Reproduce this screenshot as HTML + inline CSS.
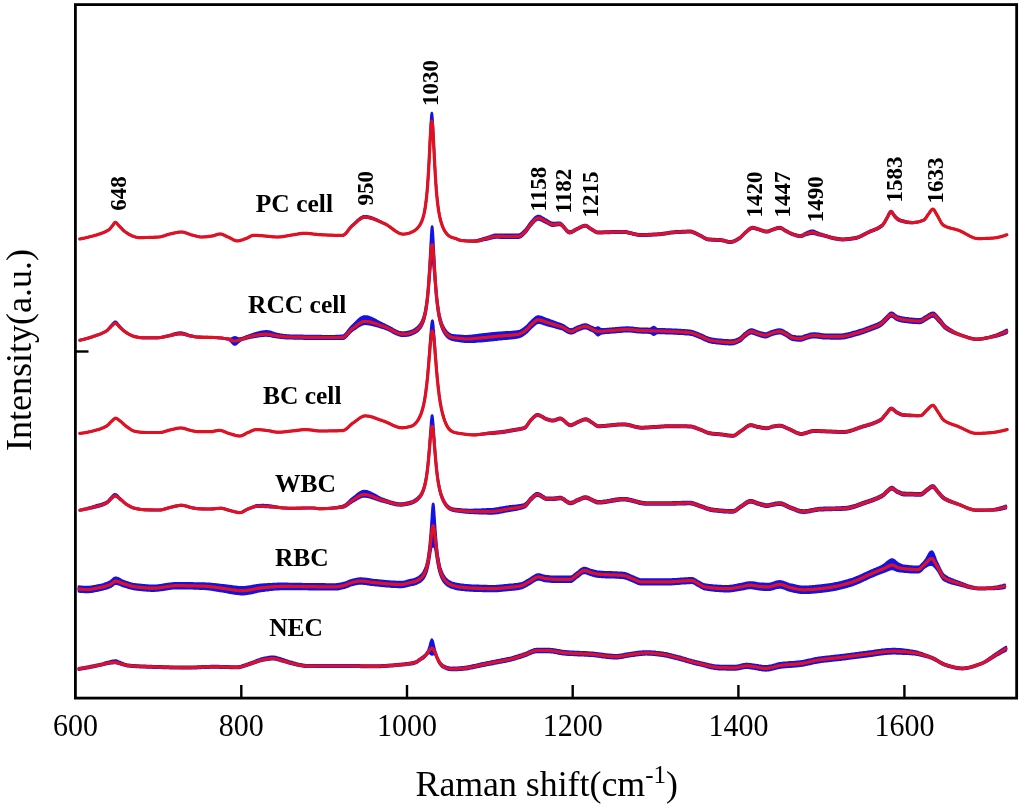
<!DOCTYPE html>
<html><head><meta charset="utf-8"><style>
html,body{margin:0;padding:0;background:#fff;}
svg{display:block;}
.pk{font-family:"Liberation Serif",serif;font-weight:bold;font-size:23px;fill:#000;}
.lb{font-family:"Liberation Serif",serif;font-weight:bold;font-size:25.5px;fill:#000;}
.tk{font-family:"Liberation Serif",serif;font-size:30px;fill:#000;text-anchor:middle;}
.ax{font-family:"Liberation Serif",serif;font-size:36px;fill:#000;}
</style></head><body>
<svg width="1025" height="810" viewBox="0 0 1025 810">
<rect x="0" y="0" width="1025" height="810" fill="#fff"/>
<polygon points="79.8,239.0 80.8,238.8 81.8,238.6 82.8,238.4 83.8,238.2 84.8,238.0 85.8,237.7 86.8,237.5 87.8,237.3 88.8,237.0 89.8,236.8 90.8,236.5 91.8,236.3 92.0,236.2 92.8,236.0 93.8,235.7 94.8,235.4 95.8,235.2 96.8,234.9 97.8,234.6 98.8,234.2 99.8,233.9 100.8,233.6 101.8,233.2 102.3,233.0 102.8,232.8 103.8,232.4 104.8,232.0 105.8,231.5 106.8,231.0 107.8,230.4 108.8,229.8 109.2,229.5 109.8,229.0 110.8,227.8 111.8,226.5 112.6,225.5 112.8,225.3 113.8,223.8 114.8,222.6 115.3,222.4 115.8,222.5 116.8,223.3 117.8,224.5 118.7,225.5 118.8,225.6 119.8,226.6 120.8,227.7 121.8,228.7 122.8,229.8 123.8,230.7 124.2,231.0 124.8,231.5 125.8,232.2 126.8,232.9 127.8,233.6 128.8,234.3 129.8,234.8 130.8,235.3 131.8,235.8 132.4,236.0 132.8,236.1 133.8,236.5 134.8,236.8 135.8,237.1 136.8,237.3 137.8,237.5 138.8,237.6 139.2,237.6 139.8,237.6 140.8,237.6 141.8,237.6 142.8,237.6 143.8,237.6 144.8,237.5 145.8,237.5 146.8,237.5 147.8,237.5 148.8,237.4 149.8,237.4 150.8,237.4 151.8,237.3 152.8,237.3 153.8,237.3 154.8,237.2 155.8,237.2 156.8,237.1 157.8,237.1 158.7,237.0 158.8,237.0 159.8,236.9 160.8,236.7 161.8,236.5 162.8,236.2 163.8,235.9 164.8,235.6 165.8,235.2 166.8,234.9 167.8,234.6 168.8,234.3 169.8,234.0 170.0,234.0 170.8,233.8 171.8,233.6 172.8,233.4 173.8,233.1 174.8,232.9 175.8,232.7 176.8,232.5 177.8,232.3 178.8,232.2 179.8,232.1 180.8,232.0 181.5,232.0 181.8,232.0 182.8,232.1 183.8,232.3 184.8,232.5 185.8,232.9 186.8,233.2 187.8,233.6 188.8,234.0 189.8,234.3 190.8,234.7 191.8,235.0 192.0,235.0 192.8,235.2 193.8,235.5 194.8,235.7 195.8,236.0 196.8,236.3 197.8,236.5 198.8,236.7 199.8,236.9 200.8,237.0 201.8,237.0 202.8,237.0 203.8,236.9 204.8,236.9 205.8,236.8 206.8,236.7 207.8,236.6 208.8,236.4 209.8,236.3 210.8,236.2 211.8,236.0 212.0,236.0 212.8,235.9 213.8,235.6 214.8,235.3 215.8,234.9 216.8,234.6 217.8,234.3 218.8,234.1 219.8,234.0 220.1,234.0 220.8,234.0 221.8,234.2 222.8,234.6 223.8,235.0 224.8,235.5 225.8,236.0 226.8,236.5 227.8,236.9 228.0,237.0 228.8,237.3 229.8,237.8 230.8,238.4 231.8,238.9 232.8,239.5 233.8,240.0 234.8,240.4 235.8,240.7 236.8,240.9 237.4,240.9 237.8,240.9 238.8,240.8 239.8,240.6 240.8,240.3 241.8,240.0 242.8,239.7 243.8,239.3 244.8,238.9 245.8,238.6 246.0,238.5 246.8,238.2 247.8,237.7 248.8,237.2 249.8,236.6 250.8,236.1 251.8,235.7 252.8,235.4 253.8,235.3 254.8,235.3 255.8,235.3 256.8,235.4 257.8,235.4 258.8,235.5 259.8,235.6 260.8,235.6 261.8,235.7 262.8,235.8 263.8,235.9 264.8,236.0 265.8,236.1 266.8,236.2 267.8,236.3 268.8,236.4 269.8,236.5 270.8,236.6 271.8,236.7 272.8,236.8 273.8,236.9 274.8,236.9 275.8,237.0 276.8,237.0 277.8,237.0 278.0,237.0 278.8,237.0 279.8,236.9 280.8,236.9 281.8,236.7 282.8,236.6 283.8,236.4 284.8,236.3 285.8,236.1 286.8,235.9 287.8,235.7 288.8,235.5 289.8,235.3 290.8,235.2 291.8,235.0 292.0,235.0 292.8,234.9 293.8,234.7 294.8,234.6 295.8,234.4 296.8,234.2 297.8,234.0 298.8,233.8 299.8,233.7 300.8,233.6 301.8,233.4 302.8,233.4 303.8,233.3 304.6,233.3 304.8,233.3 305.8,233.3 306.8,233.4 307.8,233.4 308.8,233.5 309.8,233.6 310.8,233.7 311.8,233.8 312.8,234.0 313.8,234.1 314.8,234.2 315.8,234.3 316.8,234.4 317.8,234.5 318.8,234.6 319.8,234.7 320.0,234.7 320.8,234.7 321.8,234.8 322.8,234.8 323.8,234.9 324.8,234.9 325.8,235.0 326.8,235.0 327.8,235.0 328.8,235.1 329.8,235.1 330.8,235.2 331.8,235.2 332.8,235.2 333.8,235.2 334.8,235.3 335.8,235.3 336.8,235.3 337.8,235.3 338.8,235.3 339.8,235.3 340.8,235.3 341.8,235.2 342.5,235.2 342.8,235.2 343.8,234.8 344.8,234.1 345.8,233.1 346.8,231.9 347.8,230.6 348.8,229.2 349.8,227.9 350.8,226.7 351.8,225.6 352.0,225.4 352.8,224.7 353.8,223.8 354.8,222.8 355.8,221.8 356.8,220.9 357.8,219.9 358.8,219.1 359.8,218.3 360.8,217.6 361.8,217.0 362.8,216.5 363.8,216.2 364.8,216.1 364.9,216.1 365.8,216.1 366.8,216.2 367.8,216.4 368.8,216.6 369.8,216.8 370.8,217.1 371.8,217.5 372.8,217.8 373.8,218.2 374.8,218.7 375.8,219.1 376.8,219.6 377.8,220.1 378.8,220.6 379.8,221.1 380.8,221.6 381.8,222.1 382.8,222.6 383.8,223.0 384.2,223.2 384.8,223.5 385.8,224.0 386.8,224.7 387.8,225.3 388.8,226.0 389.8,226.8 390.8,227.5 391.8,228.3 392.8,229.0 393.8,229.8 394.8,230.5 395.8,231.2 396.8,231.9 397.8,232.5 398.8,233.0 399.8,233.4 400.8,233.8 401.8,234.0 402.8,234.1 403.4,234.1 403.8,234.1 404.8,234.0 405.8,233.9 406.8,233.7 407.8,233.5 408.0,233.5 408.8,233.3 409.8,232.9 410.8,232.5 411.8,232.1 412.0,232.0 412.8,231.6 413.8,231.0 414.8,230.4 415.8,229.6 416.8,228.7 417.8,227.7 418.8,226.4 419.8,225.0 420.1,224.6 420.3,224.1 420.6,223.6 420.8,223.2 421.1,222.6 421.3,222.1 421.6,221.5 421.8,220.9 422.1,220.3 422.3,219.6 422.6,218.8 422.8,218.0 423.1,217.2 423.3,216.3 423.6,215.3 423.8,214.3 424.1,213.2 424.3,212.0 424.6,210.8 424.8,209.4 425.1,207.9 425.3,206.3 425.6,204.6 425.8,202.7 426.1,200.7 426.3,198.5 426.6,196.1 426.8,193.6 427.1,190.8 427.3,187.8 427.6,184.5 427.8,181.0 428.1,177.2 428.3,173.1 428.6,168.8 428.8,164.1 429.1,159.2 429.3,154.1 429.6,148.8 429.8,143.4 430.1,137.9 430.3,132.6 430.6,127.5 430.8,122.8 431.1,118.8 431.3,115.7 431.6,113.7 431.8,113.0 432.1,113.7 432.3,115.7 432.6,118.9 432.8,123.0 433.1,127.7 433.3,132.9 433.6,138.3 433.8,143.8 434.1,149.3 434.3,154.6 434.6,159.8 434.8,164.8 435.1,169.5 435.3,173.9 435.6,178.1 435.8,181.9 436.1,185.5 436.3,188.9 436.6,191.9 436.8,194.8 437.1,197.5 437.3,199.9 437.6,202.2 437.8,204.3 438.1,206.3 438.3,208.1 438.6,209.8 438.8,211.4 439.1,212.8 439.3,214.2 439.6,215.5 439.8,216.7 440.1,217.8 440.3,218.9 440.6,219.9 440.8,220.9 441.1,221.8 441.3,222.6 441.6,223.4 441.8,224.2 442.1,224.9 442.3,225.6 442.6,226.2 442.8,226.9 443.1,227.5 443.3,228.0 443.6,228.6 443.8,229.1 444.8,230.9 445.8,232.5 446.8,233.8 447.8,234.8 448.8,235.7 449.8,236.3 450.8,236.8 451.8,237.2 452.8,237.6 453.8,237.8 454.0,237.9 454.8,238.1 455.8,238.4 456.8,238.8 457.8,239.2 458.8,239.6 459.8,240.0 460.8,240.2 461.2,240.3 461.8,240.3 462.8,240.4 463.8,240.5 464.8,240.5 465.8,240.6 466.8,240.6 467.8,240.7 468.8,240.7 469.8,240.7 470.8,240.7 471.8,240.7 472.8,240.7 473.8,240.6 474.0,240.6 474.8,240.5 475.8,240.4 476.8,240.2 477.8,240.0 478.8,239.7 479.8,239.4 480.8,239.1 481.8,238.8 482.8,238.5 483.8,238.2 484.8,237.9 485.0,237.9 485.8,237.6 486.8,237.3 487.8,237.0 488.8,236.6 489.8,236.3 490.8,235.9 491.8,235.6 492.8,235.3 493.8,235.0 494.8,234.8 495.8,234.7 496.5,234.7 496.8,234.7 497.8,234.7 498.8,234.7 499.8,234.7 500.8,234.7 501.8,234.8 502.8,234.8 503.8,234.8 504.8,234.8 505.8,234.8 506.8,234.8 507.8,234.8 508.0,234.8 508.8,234.8 509.8,234.8 510.8,234.8 511.8,234.8 512.8,234.8 513.8,234.7 514.8,234.7 515.8,234.7 516.8,234.6 517.8,234.6 518.8,234.5 518.9,234.5 519.8,234.3 520.8,233.8 521.8,233.1 522.8,232.1 523.8,231.1 524.8,230.1 525.3,229.6 525.8,229.1 526.8,227.8 527.8,226.4 528.8,224.9 529.8,223.4 530.8,222.2 531.0,222.0 531.8,221.1 532.8,220.0 533.8,218.9 534.8,217.8 535.8,217.0 536.8,216.3 537.8,216.0 538.2,216.0 538.8,216.0 539.8,216.2 540.8,216.6 541.8,217.2 542.8,217.8 543.8,218.4 544.8,219.0 545.8,219.5 546.0,219.6 546.8,220.1 547.8,220.7 548.8,221.3 549.8,221.9 550.8,222.4 551.8,222.8 552.8,223.0 553.0,223.0 553.8,223.0 554.8,223.0 555.8,222.9 556.8,222.8 557.8,222.7 558.8,222.6 559.4,222.6 559.8,222.7 560.8,223.1 561.8,223.9 562.8,224.9 563.8,226.1 564.8,227.3 565.8,228.5 566.8,229.7 567.8,230.6 568.8,231.2 569.8,231.4 570.8,231.3 571.8,231.0 572.8,230.5 573.8,230.0 574.8,229.3 575.8,228.7 576.8,228.2 577.0,228.1 577.8,227.8 578.8,227.3 579.8,226.8 580.8,226.3 581.8,225.8 582.8,225.4 583.8,225.1 584.8,224.9 585.4,224.9 585.8,224.9 586.8,225.3 587.8,225.9 588.8,226.6 589.8,227.4 590.8,228.1 591.0,228.2 591.8,228.6 592.8,229.2 593.8,229.9 594.8,230.5 595.8,231.0 596.8,231.4 597.8,231.6 598.3,231.6 598.8,231.6 599.8,231.6 600.8,231.6 601.8,231.6 602.8,231.6 603.8,231.5 604.8,231.5 605.8,231.5 606.8,231.5 607.8,231.4 608.8,231.4 609.8,231.4 610.8,231.3 611.8,231.3 612.8,231.3 613.8,231.3 614.8,231.2 615.8,231.2 616.8,231.2 617.8,231.2 618.8,231.1 619.8,231.1 620.8,231.1 621.8,231.1 622.8,231.1 622.9,231.1 623.8,231.1 624.8,231.2 625.8,231.3 626.8,231.5 627.8,231.7 628.8,231.9 629.8,232.1 630.8,232.3 631.8,232.6 632.8,232.9 633.8,233.1 634.8,233.3 635.8,233.6 636.8,233.8 637.8,233.9 638.8,234.1 639.8,234.2 640.8,234.2 641.1,234.2 641.8,234.2 642.8,234.2 643.8,234.2 644.8,234.2 645.8,234.1 646.8,234.1 647.8,234.1 648.8,234.0 649.8,234.0 650.8,233.9 651.8,233.9 652.8,233.8 653.8,233.7 654.8,233.7 655.8,233.6 656.8,233.6 657.8,233.5 658.8,233.4 659.2,233.4 659.8,233.4 660.8,233.3 661.8,233.2 662.8,233.0 663.8,232.9 664.8,232.7 665.8,232.6 666.8,232.4 667.8,232.3 668.8,232.1 669.8,231.9 670.8,231.8 671.8,231.7 672.8,231.6 673.8,231.5 674.8,231.4 675.8,231.3 676.8,231.3 677.8,231.2 678.8,231.2 679.8,231.1 680.8,231.1 681.8,231.0 682.8,231.0 683.8,230.9 684.8,230.9 685.8,230.9 686.8,230.8 687.8,230.8 688.8,230.8 689.8,230.8 690.3,230.8 690.8,230.8 691.8,231.0 692.8,231.3 693.8,231.7 694.8,232.1 695.8,232.6 696.8,233.1 697.8,233.6 698.8,234.1 699.0,234.2 699.8,234.6 700.8,235.1 701.8,235.6 702.8,236.2 703.8,236.8 704.8,237.3 705.8,237.8 706.8,238.2 707.8,238.5 708.5,238.6 708.8,238.6 709.8,238.7 710.8,238.8 711.8,238.9 712.8,238.9 713.8,239.0 714.8,239.0 715.8,239.1 716.8,239.1 717.8,239.1 718.8,239.2 719.8,239.3 720.8,239.3 721.4,239.4 721.8,239.4 722.8,239.6 723.8,239.8 724.8,240.1 725.8,240.4 726.8,240.6 727.8,240.9 728.8,241.1 729.8,241.2 730.5,241.2 730.8,241.2 731.8,241.1 732.8,240.8 733.8,240.5 734.8,240.1 735.8,239.6 736.8,239.0 737.8,238.4 738.8,237.8 739.6,237.3 739.8,237.2 740.8,236.4 741.8,235.4 742.8,234.4 743.8,233.3 744.8,232.3 745.8,231.4 746.0,231.2 746.8,230.6 747.8,229.7 748.8,228.8 749.8,228.1 750.8,227.5 751.8,227.1 752.5,227.0 752.8,227.0 753.8,227.1 754.8,227.3 755.8,227.7 756.8,228.0 757.8,228.3 758.8,228.6 759.0,228.7 759.8,228.9 760.8,229.3 761.8,229.6 762.8,230.0 763.8,230.3 764.8,230.6 765.8,230.7 766.8,230.8 767.8,230.7 768.8,230.4 769.8,230.0 770.8,229.6 771.8,229.1 772.8,228.8 773.0,228.7 773.8,228.5 774.8,228.1 775.8,227.8 776.8,227.5 777.8,227.2 778.8,227.1 779.8,227.0 780.8,227.2 781.8,227.6 782.8,228.2 783.8,228.8 784.8,229.5 785.8,230.1 786.0,230.2 786.8,230.6 787.8,231.1 788.8,231.7 789.8,232.2 790.8,232.7 791.8,233.1 792.7,233.4 792.8,233.4 793.8,233.8 794.8,234.1 795.8,234.4 796.8,234.7 797.8,234.9 798.8,235.1 799.8,235.2 800.7,235.2 800.8,235.2 801.8,235.0 802.8,234.5 803.8,234.0 804.8,233.3 805.8,232.8 806.0,232.7 806.8,232.4 807.8,231.9 808.8,231.5 809.8,231.1 810.8,230.8 811.8,230.6 812.4,230.6 812.8,230.6 813.8,230.8 814.8,231.2 815.8,231.7 816.8,232.2 817.8,232.6 818.0,232.7 818.8,233.0 819.8,233.4 820.8,233.7 821.8,234.0 822.8,234.3 823.8,234.6 824.1,234.6 824.8,234.9 825.8,235.2 826.8,235.5 827.8,235.8 828.8,236.1 829.8,236.4 830.8,236.7 831.8,236.9 832.8,237.2 833.0,237.2 833.8,237.4 834.8,237.6 835.8,237.8 836.8,238.0 837.8,238.2 838.8,238.3 839.8,238.5 840.8,238.5 841.8,238.6 842.2,238.6 842.8,238.6 843.8,238.6 844.8,238.5 845.8,238.5 846.8,238.4 847.8,238.3 848.8,238.2 849.8,238.1 850.8,238.0 851.8,237.8 852.8,237.7 853.8,237.5 854.8,237.4 855.2,237.3 855.8,237.2 856.8,236.9 857.8,236.6 858.8,236.3 859.8,235.8 860.8,235.4 861.8,234.9 862.8,234.4 863.8,233.8 864.8,233.3 865.8,232.8 866.8,232.2 867.8,231.7 868.1,231.6 868.8,231.3 869.8,230.8 870.8,230.4 871.8,230.0 872.8,229.6 873.8,229.3 874.8,228.8 875.8,228.4 876.8,228.0 877.8,227.5 878.8,226.9 879.8,226.3 880.8,225.6 881.8,224.9 882.4,224.4 882.8,224.0 883.8,222.7 884.8,221.1 885.8,219.3 886.8,217.5 887.0,217.2 887.8,215.7 888.8,213.6 889.8,211.8 890.8,210.9 890.9,210.9 891.8,211.3 892.8,212.6 893.8,214.1 894.8,215.5 895.0,215.7 895.8,216.5 896.8,217.5 897.8,218.4 898.8,219.0 899.2,219.2 899.8,219.4 900.8,219.8 901.8,220.1 902.8,220.4 903.8,220.7 904.8,221.0 905.8,221.2 906.8,221.5 907.8,221.6 908.8,221.8 909.8,221.9 910.8,222.0 911.8,222.1 912.2,222.1 912.8,222.1 913.8,222.1 914.8,222.0 915.8,221.9 916.8,221.8 917.8,221.6 918.8,221.4 919.8,221.1 920.8,220.8 921.8,220.5 922.8,220.2 923.8,219.8 923.9,219.7 924.8,219.1 925.8,217.8 926.8,216.3 927.8,214.8 928.5,213.9 928.8,213.5 929.8,212.1 930.8,210.7 931.8,209.5 932.8,209.1 932.9,209.1 933.8,209.6 934.8,211.0 935.8,212.9 936.8,214.7 937.0,215.0 937.8,216.3 938.8,218.2 939.8,220.1 940.8,222.0 941.8,223.6 942.8,224.8 943.3,225.2 943.8,225.5 944.8,226.0 945.8,226.5 946.8,226.9 947.8,227.3 948.8,227.6 949.8,227.9 950.8,228.2 951.8,228.5 952.8,228.7 953.8,228.9 954.8,229.2 955.8,229.5 956.8,229.7 957.8,230.0 958.8,230.4 959.8,230.8 960.8,231.2 961.8,231.7 962.8,232.2 963.8,232.8 964.8,233.3 965.8,233.9 966.8,234.4 967.8,235.0 968.8,235.5 969.8,236.1 970.8,236.6 971.8,237.0 972.8,237.4 973.8,237.8 974.8,238.1 975.8,238.3 976.8,238.5 977.8,238.6 978.3,238.6 978.8,238.6 979.8,238.6 980.8,238.6 981.8,238.6 982.8,238.5 983.8,238.5 984.8,238.5 985.8,238.4 986.8,238.4 987.8,238.4 988.8,238.3 989.8,238.3 990.8,238.2 991.8,238.1 992.5,238.1 992.8,238.1 993.8,238.0 994.8,237.9 995.8,237.7 996.8,237.6 997.8,237.4 998.8,237.1 999.8,236.9 1000.8,236.6 1001.8,236.4 1002.8,236.1 1003.8,235.8 1004.8,235.4 1005.8,235.1 1006.8,234.8 1006.8,234.8 1005.8,235.1 1004.8,235.4 1003.8,235.8 1002.8,236.1 1001.8,236.4 1000.8,236.6 999.8,236.9 998.8,237.1 997.8,237.4 996.8,237.6 995.8,237.7 994.8,237.9 993.8,238.0 992.8,238.1 992.5,238.1 991.8,238.1 990.8,238.2 989.8,238.3 988.8,238.3 987.8,238.4 986.8,238.4 985.8,238.4 984.8,238.5 983.8,238.5 982.8,238.5 981.8,238.6 980.8,238.6 979.8,238.6 978.8,238.6 978.3,238.6 977.8,238.6 976.8,238.5 975.8,238.3 974.8,238.1 973.8,237.8 972.8,237.4 971.8,237.0 970.8,236.6 969.8,236.1 968.8,235.5 967.8,235.0 966.8,234.4 965.8,233.9 964.8,233.3 963.8,232.8 962.8,232.2 961.8,231.7 960.8,231.2 959.8,230.8 958.8,230.4 957.8,230.0 956.8,229.7 955.8,229.5 954.8,229.2 953.8,228.9 952.8,228.7 951.8,228.5 950.8,228.2 949.8,227.9 948.8,227.6 947.8,227.3 946.8,226.9 945.8,226.5 944.8,226.0 943.8,225.5 943.3,225.2 942.8,224.8 941.8,223.6 940.8,222.0 939.8,220.1 938.8,218.2 937.8,216.3 937.0,215.0 936.8,214.7 935.8,212.9 934.8,211.0 933.8,209.6 932.9,209.1 932.8,209.2 931.8,209.7 930.8,210.8 929.8,212.3 928.8,213.8 928.5,214.1 927.8,215.1 926.8,216.7 925.8,218.3 924.8,219.6 923.9,220.3 923.8,220.3 922.8,220.7 921.8,221.1 920.8,221.5 919.8,221.8 918.8,222.1 917.8,222.4 916.8,222.6 915.8,222.8 914.8,222.9 913.8,223.0 912.8,223.1 912.2,223.1 911.8,223.1 910.8,223.1 909.8,223.1 908.8,223.0 907.8,222.9 906.8,222.7 905.8,222.6 904.8,222.4 903.8,222.2 902.8,221.9 901.8,221.6 900.8,221.3 899.8,221.0 899.2,220.8 898.8,220.6 897.8,220.0 896.8,219.1 895.8,218.1 895.0,217.3 894.8,217.1 893.8,215.7 892.8,214.2 891.8,212.9 890.9,212.5 890.8,212.5 889.8,213.4 888.8,215.2 887.8,217.3 887.0,218.8 886.8,219.1 885.8,220.9 884.8,222.7 883.8,224.3 882.8,225.6 882.4,226.0 881.8,226.5 880.8,227.2 879.8,227.9 878.8,228.5 877.8,229.1 876.8,229.6 875.8,230.0 874.8,230.4 873.8,230.9 872.8,231.2 871.8,231.6 870.8,232.0 869.8,232.4 868.8,232.9 868.1,233.2 867.8,233.3 866.8,233.8 865.8,234.4 864.8,234.9 863.8,235.4 862.8,236.0 861.8,236.5 860.8,237.0 859.8,237.4 858.8,237.9 857.8,238.2 856.8,238.5 855.8,238.8 855.2,238.9 854.8,239.0 853.8,239.1 852.8,239.3 851.8,239.4 850.8,239.6 849.8,239.7 848.8,239.8 847.8,239.9 846.8,240.0 845.8,240.1 844.8,240.1 843.8,240.2 842.8,240.2 842.2,240.2 841.8,240.2 840.8,240.1 839.8,240.1 838.8,239.9 837.8,239.8 836.8,239.6 835.8,239.4 834.8,239.2 833.8,239.0 833.0,238.8 832.8,238.8 831.8,238.5 830.8,238.3 829.8,238.0 828.8,237.7 827.8,237.4 826.8,237.1 825.8,236.8 824.8,236.5 824.1,236.3 823.8,236.3 822.8,236.0 821.8,235.8 820.8,235.6 819.8,235.4 818.8,235.2 818.0,235.0 817.8,235.0 816.8,234.7 815.8,234.4 814.8,234.1 813.8,233.8 812.8,233.7 812.4,233.7 811.8,233.7 810.8,233.8 809.8,234.0 808.8,234.3 807.8,234.6 806.8,234.8 806.0,235.0 805.8,235.1 804.8,235.5 803.8,235.9 802.8,236.4 801.8,236.8 800.8,236.9 800.7,236.9 799.8,236.9 798.8,236.8 797.8,236.6 796.8,236.3 795.8,236.0 794.8,235.7 793.8,235.4 792.8,235.0 792.7,235.0 791.8,234.7 790.8,234.3 789.8,233.8 788.8,233.3 787.8,232.7 786.8,232.2 786.0,231.8 785.8,231.7 784.8,231.1 783.8,230.4 782.8,229.8 781.8,229.2 780.8,228.8 779.8,228.6 778.8,228.7 777.8,228.8 776.8,229.1 775.8,229.4 774.8,229.7 773.8,230.1 773.0,230.3 772.8,230.4 771.8,230.7 770.8,231.2 769.8,231.6 768.8,232.0 767.8,232.3 766.8,232.4 765.8,232.3 764.8,232.2 763.8,231.9 762.8,231.6 761.8,231.2 760.8,230.9 759.8,230.5 759.0,230.3 758.8,230.2 757.8,229.9 756.8,229.6 755.8,229.3 754.8,228.9 753.8,228.7 752.8,228.6 752.5,228.6 751.8,228.7 750.8,229.1 749.8,229.7 748.8,230.4 747.8,231.3 746.8,232.2 746.0,232.8 745.8,233.0 744.8,233.9 743.8,234.9 742.8,236.0 741.8,237.0 740.8,238.0 739.8,238.8 739.6,238.9 738.8,239.4 737.8,240.0 736.8,240.6 735.8,241.2 734.8,241.7 733.8,242.1 732.8,242.4 731.8,242.7 730.8,242.8 730.5,242.8 729.8,242.8 728.8,242.7 727.8,242.5 726.8,242.2 725.8,242.0 724.8,241.7 723.8,241.4 722.8,241.2 721.8,241.0 721.4,241.0 720.8,240.9 719.8,240.9 718.8,240.8 717.8,240.7 716.8,240.7 715.8,240.7 714.8,240.6 713.8,240.6 712.8,240.5 711.8,240.5 710.8,240.4 709.8,240.3 708.8,240.2 708.5,240.2 707.8,240.1 706.8,239.8 705.8,239.4 704.8,238.9 703.8,238.4 702.8,237.8 701.8,237.2 700.8,236.7 699.8,236.2 699.0,235.8 698.8,235.7 697.8,235.2 696.8,234.7 695.8,234.2 694.8,233.7 693.8,233.3 692.8,232.9 691.8,232.6 690.8,232.4 690.3,232.4 689.8,232.4 688.8,232.4 687.8,232.4 686.8,232.4 685.8,232.5 684.8,232.5 683.8,232.5 682.8,232.6 681.8,232.6 680.8,232.7 679.8,232.7 678.8,232.8 677.8,232.8 676.8,232.9 675.8,232.9 674.8,233.0 673.8,233.1 672.8,233.2 671.8,233.3 670.8,233.4 669.8,233.5 668.8,233.7 667.8,233.9 666.8,234.0 665.8,234.2 664.8,234.3 663.8,234.5 662.8,234.6 661.8,234.8 660.8,234.9 659.8,235.0 659.2,235.0 658.8,235.0 657.8,235.1 656.8,235.2 655.8,235.2 654.8,235.3 653.8,235.3 652.8,235.4 651.8,235.5 650.8,235.5 649.8,235.6 648.8,235.6 647.8,235.7 646.8,235.7 645.8,235.7 644.8,235.8 643.8,235.8 642.8,235.8 641.8,235.8 641.1,235.8 640.8,235.8 639.8,235.8 638.8,235.7 637.8,235.5 636.8,235.4 635.8,235.2 634.8,234.9 633.8,234.7 632.8,234.5 631.8,234.2 630.8,233.9 629.8,233.7 628.8,233.5 627.8,233.3 626.8,233.1 625.8,232.9 624.8,232.8 623.8,232.7 622.9,232.7 622.8,232.7 621.8,232.7 620.8,232.7 619.8,232.7 618.8,232.7 617.8,232.8 616.8,232.8 615.8,232.8 614.8,232.8 613.8,232.9 612.8,232.9 611.8,232.9 610.8,232.9 609.8,233.0 608.8,233.0 607.8,233.0 606.8,233.1 605.8,233.1 604.8,233.1 603.8,233.1 602.8,233.2 601.8,233.2 600.8,233.2 599.8,233.2 598.8,233.2 598.3,233.2 597.8,233.2 596.8,233.0 595.8,232.6 594.8,232.1 593.8,231.5 592.8,230.9 591.8,230.2 591.0,229.8 590.8,229.7 589.8,229.0 588.8,228.3 587.8,227.5 586.8,226.9 585.8,226.5 585.4,226.5 584.8,226.5 583.8,226.7 582.8,227.0 581.8,227.4 580.8,227.9 579.8,228.4 578.8,229.0 577.8,229.5 577.0,229.8 576.8,229.9 575.8,230.4 574.8,231.1 573.8,231.7 572.8,232.3 571.8,232.8 570.8,233.1 569.8,233.3 568.8,233.1 567.8,232.5 566.8,231.6 565.8,230.5 564.8,229.3 563.8,228.1 562.8,227.0 561.8,226.0 560.8,225.3 559.8,225.0 559.4,224.9 558.8,225.0 557.8,225.1 556.8,225.3 555.8,225.4 554.8,225.6 553.8,225.7 553.0,225.8 552.8,225.8 551.8,225.7 550.8,225.3 549.8,224.9 548.8,224.3 547.8,223.8 546.8,223.2 546.0,222.9 545.8,222.8 544.8,222.3 543.8,221.7 542.8,221.1 541.8,220.6 540.8,220.1 539.8,219.7 538.8,219.5 538.2,219.5 537.8,219.5 536.8,219.8 535.8,220.5 534.8,221.3 533.8,222.4 532.8,223.5 531.8,224.6 531.0,225.4 530.8,225.7 529.8,226.9 528.8,228.3 527.8,229.7 526.8,231.2 525.8,232.4 525.3,232.9 524.8,233.4 523.8,234.4 522.8,235.4 521.8,236.3 520.8,237.0 519.8,237.5 518.9,237.7 518.8,237.7 517.8,237.7 516.8,237.7 515.8,237.7 514.8,237.8 513.8,237.8 512.8,237.8 511.8,237.8 510.8,237.8 509.8,237.8 508.8,237.8 508.0,237.8 507.8,237.8 506.8,237.8 505.8,237.8 504.8,237.8 503.8,237.8 502.8,237.7 501.8,237.7 500.8,237.7 499.8,237.7 498.8,237.6 497.8,237.6 496.8,237.6 496.5,237.6 495.8,237.6 494.8,237.7 493.8,237.8 492.8,238.0 491.8,238.2 490.8,238.5 489.8,238.7 488.8,239.0 487.8,239.3 486.8,239.5 485.8,239.7 485.0,239.9 484.8,239.9 483.8,240.1 482.8,240.3 481.8,240.6 480.8,240.8 479.8,241.0 478.8,241.2 477.8,241.4 476.8,241.5 475.8,241.6 474.8,241.6 474.0,241.6 473.8,241.6 472.8,241.6 471.8,241.5 470.8,241.4 469.8,241.4 468.8,241.3 467.8,241.2 466.8,241.2 465.8,241.1 464.8,241.0 463.8,240.9 462.8,240.8 461.8,240.7 461.2,240.6 460.8,240.6 459.8,240.3 458.8,240.0 457.8,239.6 456.8,239.1 455.8,238.7 454.8,238.3 454.0,238.1 453.8,238.0 452.8,237.8 451.8,237.5 450.8,237.0 449.8,236.5 448.8,235.8 447.8,235.0 446.8,233.9 445.8,232.7 444.8,231.1 443.8,229.3 443.6,228.8 443.3,228.2 443.1,227.7 442.8,227.1 442.6,226.5 442.3,225.8 442.1,225.2 441.8,224.4 441.6,223.7 441.3,222.9 441.1,222.1 440.8,221.2 440.6,220.3 440.3,219.3 440.1,218.2 439.8,217.1 439.6,215.9 439.3,214.6 439.1,213.3 438.8,211.9 438.6,210.3 438.3,208.6 438.1,206.9 437.8,204.9 437.6,202.9 437.3,200.7 437.1,198.3 436.8,195.7 436.6,192.9 436.3,189.9 436.1,186.7 435.8,183.2 435.6,179.4 435.3,175.5 435.1,171.2 434.8,166.8 434.6,162.1 434.3,157.2 434.1,152.2 433.8,147.2 433.6,142.2 433.3,137.4 433.1,133.0 432.8,129.1 432.6,125.8 432.3,123.3 432.1,121.8 431.8,121.2 431.6,121.7 431.3,123.2 431.1,125.6 430.8,128.9 430.6,132.8 430.3,137.1 430.1,141.9 429.8,146.8 429.6,151.7 429.3,156.7 429.1,161.5 428.8,166.1 428.6,170.5 428.3,174.7 428.1,178.6 427.8,182.2 427.6,185.6 427.3,188.8 427.1,191.7 426.8,194.4 426.6,196.9 426.3,199.2 426.1,201.4 425.8,203.3 425.6,205.1 425.3,206.8 425.1,208.4 424.8,209.8 424.6,211.2 424.3,212.4 424.1,213.6 423.8,214.7 423.6,215.7 423.3,216.6 423.1,217.5 422.8,218.3 422.6,219.1 422.3,219.8 422.1,220.5 421.8,221.1 421.6,221.7 421.3,222.3 421.1,222.8 420.8,223.3 420.6,223.8 420.3,224.3 420.1,224.7 419.8,225.1 418.8,226.6 417.8,227.8 416.8,228.8 415.8,229.7 414.8,230.4 413.8,231.1 412.8,231.6 412.0,232.0 411.8,232.1 410.8,232.5 409.8,232.9 408.8,233.3 408.0,233.5 407.8,233.5 406.8,233.7 405.8,233.9 404.8,234.0 403.8,234.1 403.4,234.1 402.8,234.1 401.8,234.0 400.8,233.8 399.8,233.4 398.8,233.0 397.8,232.5 396.8,231.9 395.8,231.3 394.8,230.6 393.8,229.9 392.8,229.1 391.8,228.4 390.8,227.7 389.8,226.9 388.8,226.2 387.8,225.6 386.8,224.9 385.8,224.4 384.8,223.9 384.2,223.6 383.8,223.5 382.8,223.1 381.8,222.6 380.8,222.2 379.8,221.8 378.8,221.4 377.8,220.9 376.8,220.5 375.8,220.1 374.8,219.8 373.8,219.4 372.8,219.0 371.8,218.7 370.8,218.5 369.8,218.2 368.8,218.0 367.8,217.8 366.8,217.7 365.8,217.6 364.9,217.6 364.8,217.6 363.8,217.7 362.8,218.0 361.8,218.4 360.8,219.0 359.8,219.6 358.8,220.4 357.8,221.2 356.8,222.1 355.8,223.0 354.8,223.9 353.8,224.8 352.8,225.6 352.0,226.3 351.8,226.4 350.8,227.4 349.8,228.6 348.8,229.8 347.8,231.1 346.8,232.4 345.8,233.5 344.8,234.5 343.8,235.2 342.8,235.5 342.5,235.5 341.8,235.5 340.8,235.5 339.8,235.4 338.8,235.4 337.8,235.4 336.8,235.4 335.8,235.3 334.8,235.3 333.8,235.3 332.8,235.2 331.8,235.2 330.8,235.2 329.8,235.1 328.8,235.1 327.8,235.1 326.8,235.0 325.8,235.0 324.8,234.9 323.8,234.9 322.8,234.8 321.8,234.8 320.8,234.7 320.0,234.7 319.8,234.7 318.8,234.6 317.8,234.5 316.8,234.4 315.8,234.3 314.8,234.2 313.8,234.1 312.8,234.0 311.8,233.8 310.8,233.7 309.8,233.6 308.8,233.5 307.8,233.4 306.8,233.4 305.8,233.3 304.8,233.3 304.6,233.3 303.8,233.3 302.8,233.4 301.8,233.4 300.8,233.6 299.8,233.7 298.8,233.8 297.8,234.0 296.8,234.2 295.8,234.4 294.8,234.6 293.8,234.7 292.8,234.9 292.0,235.0 291.8,235.0 290.8,235.2 289.8,235.3 288.8,235.5 287.8,235.7 286.8,235.9 285.8,236.1 284.8,236.3 283.8,236.4 282.8,236.6 281.8,236.7 280.8,236.9 279.8,236.9 278.8,237.0 278.0,237.0 277.8,237.0 276.8,237.0 275.8,237.0 274.8,236.9 273.8,236.9 272.8,236.8 271.8,236.7 270.8,236.6 269.8,236.5 268.8,236.4 267.8,236.3 266.8,236.2 265.8,236.1 264.8,236.0 263.8,235.9 262.8,235.8 261.8,235.7 260.8,235.6 259.8,235.6 258.8,235.5 257.8,235.4 256.8,235.4 255.8,235.3 254.8,235.3 253.8,235.3 252.8,235.4 251.8,235.7 250.8,236.1 249.8,236.6 248.8,237.2 247.8,237.7 246.8,238.2 246.0,238.5 245.8,238.6 244.8,238.9 243.8,239.3 242.8,239.7 241.8,240.0 240.8,240.3 239.8,240.6 238.8,240.8 237.8,240.9 237.4,240.9 236.8,240.9 235.8,240.7 234.8,240.4 233.8,240.0 232.8,239.5 231.8,238.9 230.8,238.4 229.8,237.8 228.8,237.3 228.0,237.0 227.8,236.9 226.8,236.5 225.8,236.0 224.8,235.5 223.8,235.0 222.8,234.6 221.8,234.2 220.8,234.0 220.1,234.0 219.8,234.0 218.8,234.1 217.8,234.3 216.8,234.6 215.8,234.9 214.8,235.3 213.8,235.6 212.8,235.9 212.0,236.0 211.8,236.0 210.8,236.2 209.8,236.3 208.8,236.4 207.8,236.6 206.8,236.7 205.8,236.8 204.8,236.9 203.8,236.9 202.8,237.0 201.8,237.0 200.8,237.0 199.8,236.9 198.8,236.7 197.8,236.5 196.8,236.3 195.8,236.0 194.8,235.7 193.8,235.5 192.8,235.2 192.0,235.0 191.8,235.0 190.8,234.7 189.8,234.3 188.8,234.0 187.8,233.6 186.8,233.2 185.8,232.9 184.8,232.5 183.8,232.3 182.8,232.1 181.8,232.0 181.5,232.0 180.8,232.0 179.8,232.1 178.8,232.2 177.8,232.3 176.8,232.5 175.8,232.7 174.8,232.9 173.8,233.1 172.8,233.4 171.8,233.6 170.8,233.8 170.0,234.0 169.8,234.0 168.8,234.3 167.8,234.6 166.8,234.9 165.8,235.2 164.8,235.6 163.8,235.9 162.8,236.2 161.8,236.5 160.8,236.7 159.8,236.9 158.8,237.0 158.7,237.0 157.8,237.1 156.8,237.1 155.8,237.2 154.8,237.2 153.8,237.3 152.8,237.3 151.8,237.3 150.8,237.4 149.8,237.4 148.8,237.4 147.8,237.5 146.8,237.5 145.8,237.5 144.8,237.5 143.8,237.6 142.8,237.6 141.8,237.6 140.8,237.6 139.8,237.6 139.2,237.6 138.8,237.6 137.8,237.5 136.8,237.3 135.8,237.1 134.8,236.8 133.8,236.5 132.8,236.1 132.4,236.0 131.8,235.8 130.8,235.3 129.8,234.8 128.8,234.3 127.8,233.6 126.8,232.9 125.8,232.2 124.8,231.5 124.2,231.0 123.8,230.7 122.8,229.8 121.8,228.7 120.8,227.7 119.8,226.6 118.8,225.6 118.7,225.5 117.8,224.5 116.8,223.3 115.8,222.5 115.3,222.4 114.8,222.6 113.8,223.8 112.8,225.3 112.6,225.5 111.8,226.5 110.8,227.8 109.8,229.0 109.2,229.5 108.8,229.8 107.8,230.4 106.8,231.0 105.8,231.5 104.8,232.0 103.8,232.4 102.8,232.8 102.3,233.0 101.8,233.2 100.8,233.6 99.8,233.9 98.8,234.2 97.8,234.6 96.8,234.9 95.8,235.2 94.8,235.4 93.8,235.7 92.8,236.0 92.0,236.2 91.8,236.3 90.8,236.5 89.8,236.8 88.8,237.0 87.8,237.3 86.8,237.5 85.8,237.7 84.8,238.0 83.8,238.2 82.8,238.4 81.8,238.6 80.8,238.8 79.8,239.0" fill="#1512e6" stroke="#1512e6" stroke-width="2.4" stroke-linejoin="round"/>
<polygon points="79.8,339.9 80.8,339.7 81.8,339.5 82.8,339.2 83.8,339.0 84.8,338.7 85.8,338.5 86.8,338.2 87.8,337.9 88.8,337.6 89.8,337.3 90.8,337.0 91.8,336.7 92.8,336.3 93.8,336.0 94.8,335.6 95.5,335.4 95.8,335.3 96.8,334.9 97.8,334.6 98.8,334.2 99.8,333.9 100.8,333.5 101.8,333.1 102.8,332.6 103.8,332.1 104.8,331.6 105.8,331.0 106.4,330.6 106.8,330.3 107.8,329.4 108.8,328.3 109.8,327.0 110.8,325.8 111.8,324.7 111.9,324.6 112.8,323.6 113.8,322.5 114.8,321.8 115.3,321.7 115.8,321.8 116.8,322.5 117.8,323.7 118.8,325.1 119.8,326.3 120.1,326.7 120.8,327.4 121.8,328.4 122.8,329.4 123.8,330.3 124.8,331.2 125.8,332.0 126.8,332.6 126.9,332.7 127.8,333.2 128.8,333.8 129.8,334.3 130.8,334.8 131.8,335.3 132.8,335.7 133.8,336.1 134.8,336.3 135.1,336.4 135.8,336.5 136.8,336.7 137.8,336.9 138.8,337.1 139.8,337.2 140.8,337.4 141.8,337.4 142.8,337.5 143.3,337.5 143.8,337.5 144.8,337.5 145.8,337.5 146.8,337.5 147.8,337.5 148.8,337.5 149.8,337.5 150.8,337.5 151.8,337.5 152.8,337.5 153.8,337.5 154.8,337.5 155.8,337.5 156.8,337.5 157.0,337.5 157.8,337.5 158.8,337.4 159.8,337.3 160.8,337.1 161.8,336.9 162.8,336.7 163.8,336.5 164.8,336.2 165.8,336.0 166.8,335.7 167.8,335.5 168.0,335.4 168.8,335.2 169.8,335.0 170.8,334.7 171.8,334.4 172.8,334.0 173.8,333.7 174.8,333.4 175.8,333.1 176.8,332.9 177.8,332.7 178.8,332.6 179.8,332.5 180.2,332.5 180.8,332.5 181.8,332.6 182.8,332.8 183.8,333.1 184.8,333.4 185.8,333.7 186.8,334.1 187.8,334.4 188.8,334.8 189.8,335.1 190.8,335.3 191.0,335.4 191.8,335.6 192.8,335.8 193.8,336.1 194.8,336.3 195.8,336.5 196.8,336.6 197.8,336.7 198.0,336.7 198.8,336.8 199.8,336.8 200.8,336.9 201.8,336.9 202.8,336.9 203.8,337.0 204.8,337.0 205.8,337.0 206.8,337.0 207.8,337.0 208.8,337.1 209.8,337.1 210.8,337.1 211.8,337.1 212.8,337.1 213.8,337.2 214.3,337.2 214.8,337.2 215.8,337.3 216.8,337.3 217.8,337.4 218.8,337.5 219.8,337.6 220.8,337.7 221.8,337.8 222.8,337.9 223.8,338.1 224.8,338.2 225.8,338.3 226.8,338.4 227.8,338.5 228.0,338.5 228.8,338.6 229.8,338.6 230.8,338.6 231.8,338.3 232.8,337.9 233.8,337.5 234.8,337.3 235.8,337.5 236.8,337.8 237.8,338.2 238.8,338.5 239.8,338.5 240.8,338.3 241.8,338.1 242.0,338.0 242.8,337.8 243.8,337.4 244.8,337.0 245.8,336.6 246.8,336.2 247.8,335.9 248.8,335.5 249.8,335.1 250.8,334.8 251.8,334.4 252.0,334.4 252.8,334.2 253.8,333.8 254.8,333.5 255.8,333.3 256.8,333.0 257.8,332.7 258.8,332.4 259.8,332.2 260.8,332.0 261.8,331.8 262.8,331.6 263.8,331.4 264.8,331.4 265.8,331.3 266.5,331.3 266.8,331.3 267.8,331.4 268.8,331.5 269.8,331.7 270.8,332.0 271.8,332.3 272.8,332.6 273.8,332.9 274.8,333.3 275.8,333.6 276.8,333.8 277.8,334.1 278.0,334.1 278.8,334.3 279.8,334.5 280.8,334.6 281.8,334.8 282.8,334.9 283.8,335.1 284.8,335.2 285.8,335.3 286.8,335.4 287.8,335.4 288.8,335.5 289.8,335.6 290.6,335.6 290.8,335.6 291.8,335.6 292.8,335.6 293.8,335.7 294.8,335.7 295.8,335.7 296.8,335.7 297.8,335.8 298.8,335.8 299.8,335.8 300.8,335.8 301.8,335.8 302.8,335.8 303.8,335.9 304.8,335.9 305.8,335.9 306.8,335.9 307.8,335.9 308.8,335.9 309.8,335.9 310.8,336.0 311.8,336.0 312.8,336.0 313.8,336.0 314.8,336.0 315.8,336.0 316.8,336.0 317.8,336.0 318.8,336.0 319.8,336.0 320.8,336.0 321.8,336.1 322.8,336.1 323.8,336.1 324.8,336.1 325.8,336.1 326.8,336.1 327.8,336.1 328.8,336.1 329.8,336.1 330.8,336.1 331.8,336.1 332.8,336.1 333.8,336.1 334.8,336.1 335.0,336.1 335.8,336.0 336.8,336.0 337.8,336.0 338.8,336.0 339.8,335.9 340.8,335.8 341.8,335.8 342.5,335.7 342.8,335.7 343.8,335.3 344.8,334.6 345.8,333.6 346.8,332.4 347.8,331.1 348.8,329.8 349.8,328.5 350.8,327.3 351.8,326.2 352.0,326.0 352.8,325.3 353.8,324.3 354.8,323.3 355.8,322.3 356.8,321.3 357.8,320.4 358.8,319.5 359.8,318.6 360.8,317.9 361.8,317.3 362.8,316.8 363.8,316.5 364.8,316.4 365.0,316.4 365.8,316.4 366.8,316.5 367.8,316.7 368.8,316.9 369.8,317.3 370.8,317.6 371.8,318.1 372.8,318.5 373.8,319.0 374.8,319.6 375.8,320.1 376.8,320.7 377.8,321.2 378.8,321.8 379.8,322.3 380.8,322.8 381.8,323.3 382.8,323.8 383.8,324.2 384.0,324.3 384.8,324.7 385.8,325.2 386.8,325.7 387.8,326.2 388.8,326.7 389.8,327.3 390.8,327.9 391.8,328.4 392.8,329.0 393.8,329.5 394.8,330.0 395.8,330.5 396.8,331.0 397.8,331.4 398.8,331.8 399.8,332.1 400.8,332.3 401.8,332.4 402.8,332.5 403.4,332.5 403.8,332.5 404.8,332.4 405.8,332.3 406.8,332.2 407.8,332.0 408.8,331.8 409.0,331.8 409.8,331.5 410.8,331.2 411.8,330.7 412.8,330.3 413.0,330.2 413.8,329.8 414.8,329.2 415.8,328.6 416.8,327.8 417.8,326.9 418.8,325.9 419.8,324.6 420.1,324.2 420.4,323.9 420.6,323.5 420.8,323.1 420.9,323.1 421.1,322.6 421.4,322.2 421.6,321.7 421.8,321.3 421.9,321.2 422.1,320.6 422.4,320.1 422.6,319.5 422.8,318.9 422.9,318.8 423.1,318.1 423.4,317.4 423.6,316.6 423.8,315.9 423.9,315.8 424.1,314.9 424.4,313.9 424.6,312.9 424.8,312.0 424.9,311.8 425.1,310.6 425.4,309.3 425.6,307.9 425.8,306.7 425.9,306.4 426.1,304.8 426.4,303.1 426.6,301.2 426.8,299.6 426.9,299.2 427.1,297.0 427.4,294.6 427.6,292.0 427.8,289.8 427.9,289.3 428.1,286.3 428.4,283.1 428.6,279.6 428.8,276.7 428.9,276.0 429.1,272.0 429.4,267.9 429.6,263.6 429.8,260.0 429.9,259.0 430.1,254.4 430.4,249.6 430.6,244.9 430.8,241.2 430.9,240.3 431.1,236.0 431.4,232.2 431.6,229.1 431.8,227.4 431.9,227.1 432.1,226.5 432.4,227.2 432.6,229.2 432.8,231.6 432.9,232.3 433.1,236.2 433.4,240.5 433.6,245.2 433.8,249.0 433.9,250.0 434.1,254.8 434.4,259.5 434.6,264.1 434.8,267.6 434.9,268.5 435.1,272.7 435.4,276.6 435.6,280.4 435.8,283.2 435.9,283.9 436.1,287.2 436.4,290.2 436.6,293.1 436.8,295.2 436.9,295.7 437.1,298.2 437.4,300.4 437.6,302.5 437.8,304.1 437.9,304.5 438.1,306.3 438.4,308.0 438.6,309.6 438.8,310.8 438.9,311.1 439.1,312.5 439.4,313.7 439.6,314.9 439.8,315.9 439.9,316.1 440.1,317.1 440.4,318.1 440.6,319.1 440.8,319.8 440.9,319.9 441.1,320.8 441.4,321.6 441.6,322.3 441.8,322.9 441.9,323.0 442.1,323.7 442.4,324.3 442.6,324.9 442.8,325.4 442.9,325.5 443.1,326.1 443.4,326.6 443.6,327.1 443.8,327.5 443.9,327.6 444.8,329.2 445.8,330.6 446.8,331.8 447.8,332.8 448.8,333.5 449.8,334.1 450.8,334.6 451.8,334.9 452.8,335.1 453.8,335.3 454.8,335.4 455.8,335.5 456.0,335.5 456.8,335.6 457.8,335.6 458.8,335.7 459.8,335.8 460.8,335.9 461.8,335.9 462.8,336.0 463.8,336.1 464.8,336.1 465.8,336.1 466.8,336.1 467.6,336.1 467.8,336.1 468.8,336.0 469.8,336.0 470.8,335.9 471.8,335.8 472.8,335.6 473.8,335.5 474.8,335.4 475.8,335.3 476.8,335.1 477.8,335.0 478.8,334.9 479.8,334.7 480.0,334.7 480.8,334.6 481.8,334.5 482.8,334.4 483.8,334.3 484.8,334.2 485.8,334.1 486.8,334.0 487.8,333.9 488.8,333.7 489.8,333.6 490.8,333.5 491.8,333.4 492.8,333.3 493.8,333.2 494.8,333.1 495.8,333.0 496.8,333.0 497.8,332.9 498.8,332.8 499.8,332.7 500.0,332.7 500.8,332.6 501.8,332.6 502.8,332.5 503.8,332.4 504.8,332.4 505.8,332.3 506.8,332.3 507.8,332.2 508.8,332.2 509.8,332.1 510.8,332.1 511.8,332.0 512.8,331.9 513.8,331.8 514.8,331.7 515.8,331.6 516.8,331.4 517.8,331.3 518.8,331.1 518.9,331.1 519.8,330.8 520.8,330.4 521.8,329.9 522.8,329.2 523.8,328.5 524.8,327.7 525.8,326.9 526.0,326.8 526.8,326.1 527.8,325.1 528.8,324.0 529.8,322.9 530.8,321.8 531.8,320.9 532.0,320.7 532.8,320.0 533.8,319.1 534.8,318.2 535.8,317.4 536.8,316.8 537.8,316.5 538.2,316.5 538.8,316.5 539.8,316.7 540.8,316.9 541.8,317.2 542.8,317.6 543.8,318.0 544.8,318.4 545.8,318.8 546.0,318.9 546.8,319.1 547.8,319.5 548.8,319.8 549.8,320.2 550.8,320.6 551.8,320.9 552.8,321.3 553.8,321.7 554.8,322.1 555.6,322.4 555.8,322.4 556.8,322.8 557.8,323.1 558.8,323.5 559.8,323.8 560.8,324.2 561.8,324.6 562.0,324.7 562.8,325.0 563.8,325.6 564.8,326.3 565.8,327.0 566.8,327.6 567.8,328.2 568.8,328.8 569.8,329.1 570.8,329.3 571.1,329.4 571.8,329.3 572.8,329.1 573.8,328.6 574.8,328.1 575.8,327.6 576.8,327.1 577.8,326.6 578.0,326.5 578.8,326.3 579.8,325.9 580.8,325.5 581.8,325.1 582.8,324.8 583.8,324.6 584.8,324.4 585.4,324.4 585.8,324.4 586.8,324.6 587.8,325.0 588.8,325.5 589.8,326.0 590.8,326.5 591.0,326.6 591.8,326.9 592.8,327.4 593.8,327.9 594.8,328.3 595.8,328.3 596.8,327.8 597.8,327.5 598.3,327.5 598.8,327.8 599.8,328.5 600.8,329.1 601.8,329.3 602.8,329.3 603.8,329.3 604.8,329.2 605.8,329.1 606.8,329.0 607.8,328.9 608.8,328.9 609.8,328.8 610.8,328.7 611.8,328.6 612.0,328.6 612.8,328.5 613.8,328.5 614.8,328.4 615.8,328.3 616.8,328.2 617.8,328.1 618.8,328.0 619.8,327.9 620.8,327.9 621.8,327.8 622.8,327.7 623.8,327.6 624.8,327.6 625.8,327.5 626.8,327.5 627.8,327.5 628.1,327.5 628.8,327.5 629.8,327.6 630.8,327.6 631.8,327.7 632.8,327.8 633.8,328.0 634.8,328.1 635.8,328.2 636.8,328.3 637.8,328.4 638.8,328.5 639.8,328.6 640.0,328.6 640.8,328.6 641.8,328.7 642.8,328.7 643.8,328.7 644.8,328.8 645.8,328.8 646.8,328.8 647.8,328.8 648.8,328.9 649.8,328.8 650.8,328.6 651.8,328.0 652.8,327.3 653.8,327.0 654.0,327.0 654.8,327.5 655.8,328.3 656.8,328.8 657.8,329.1 658.8,329.1 659.8,329.2 660.8,329.2 661.8,329.2 662.8,329.3 663.8,329.3 664.8,329.3 665.8,329.4 666.8,329.4 667.8,329.4 668.8,329.5 669.8,329.5 670.8,329.5 671.8,329.6 672.0,329.6 672.8,329.6 673.8,329.7 674.8,329.7 675.8,329.8 676.8,329.8 677.8,329.9 678.8,329.9 679.8,330.0 680.8,330.0 681.8,330.1 682.8,330.1 683.8,330.2 684.8,330.3 685.8,330.4 686.8,330.4 687.8,330.5 688.8,330.6 689.8,330.7 690.3,330.8 690.8,330.9 691.8,331.1 692.8,331.3 693.8,331.6 694.8,332.0 695.8,332.4 696.8,332.8 697.8,333.2 698.8,333.6 699.8,334.0 700.0,334.1 700.8,334.4 701.8,334.8 702.8,335.3 703.8,335.8 704.8,336.3 705.8,336.8 706.8,337.2 707.8,337.6 708.8,338.0 709.8,338.3 710.8,338.5 711.1,338.6 711.8,338.7 712.8,338.9 713.8,339.0 714.8,339.1 715.8,339.3 716.8,339.4 717.8,339.5 718.8,339.6 719.8,339.7 720.8,339.8 721.8,339.9 722.8,340.0 723.8,340.1 724.8,340.2 725.8,340.2 726.8,340.3 727.8,340.3 728.8,340.4 729.8,340.4 730.8,340.4 731.8,340.4 732.8,340.3 733.8,340.2 734.8,339.9 735.8,339.6 736.8,339.2 737.8,338.7 738.8,338.2 739.8,337.7 740.0,337.6 740.8,337.1 741.8,336.2 742.8,335.2 743.8,334.1 744.8,333.2 745.0,333.1 745.8,332.5 746.8,331.7 747.8,331.0 748.8,330.3 749.8,329.8 750.8,329.5 751.2,329.5 751.8,329.5 752.8,329.7 753.8,330.0 754.8,330.4 755.8,330.8 756.8,331.2 757.8,331.5 758.0,331.6 758.8,331.8 759.8,332.1 760.8,332.5 761.8,332.8 762.8,333.0 763.8,333.2 764.8,333.4 765.5,333.4 765.8,333.4 766.8,333.2 767.8,332.9 768.8,332.4 769.8,332.0 770.8,331.5 771.8,331.2 772.0,331.1 772.8,330.9 773.8,330.6 774.8,330.3 775.8,330.1 776.8,329.8 777.8,329.7 778.8,329.5 779.8,329.5 780.8,329.6 781.8,329.9 782.8,330.4 783.8,330.9 784.8,331.5 785.8,332.0 786.0,332.1 786.8,332.5 787.8,333.2 788.8,333.9 789.8,334.6 790.8,335.3 791.8,335.7 792.7,336.0 792.8,336.0 793.8,336.2 794.8,336.3 795.8,336.5 796.8,336.6 797.8,336.7 798.8,336.7 799.8,336.8 800.7,336.8 800.8,336.8 801.8,336.7 802.8,336.3 803.8,335.9 804.8,335.5 805.8,335.2 806.0,335.1 806.8,334.9 807.8,334.6 808.8,334.3 809.8,334.0 810.8,333.8 811.8,333.6 812.8,333.4 813.7,333.4 813.8,333.4 814.8,333.4 815.8,333.5 816.8,333.6 817.8,333.7 818.8,333.8 819.8,334.0 820.8,334.1 821.8,334.3 822.8,334.4 823.8,334.5 824.8,334.6 825.8,334.6 826.0,334.6 826.8,334.6 827.8,334.6 828.8,334.6 829.8,334.6 830.8,334.7 831.8,334.7 832.8,334.7 833.8,334.7 834.8,334.7 835.8,334.7 836.8,334.7 837.8,334.7 838.8,334.7 839.6,334.7 839.8,334.7 840.8,334.7 841.8,334.6 842.8,334.5 843.8,334.4 844.8,334.2 845.8,334.0 846.8,333.8 847.8,333.6 848.8,333.3 849.8,333.1 850.8,332.8 851.8,332.5 852.8,332.2 853.8,331.9 854.8,331.6 855.8,331.4 856.8,331.1 857.8,330.8 858.8,330.5 859.8,330.2 860.8,329.9 861.8,329.6 862.8,329.3 863.8,328.9 864.8,328.6 865.8,328.2 866.8,327.8 867.8,327.4 868.8,327.1 869.8,326.7 870.0,326.6 870.8,326.3 871.8,325.9 872.8,325.6 873.8,325.2 874.8,324.8 875.8,324.4 876.8,324.0 877.8,323.6 878.8,323.1 879.8,322.6 880.8,322.0 881.1,321.8 881.8,321.3 882.8,320.4 883.8,319.3 884.8,318.3 885.8,317.3 886.0,317.1 886.8,316.3 887.8,315.3 888.8,314.3 889.8,313.4 890.8,312.8 891.5,312.7 891.8,312.7 892.8,313.1 893.8,313.8 894.8,314.6 895.8,315.4 896.8,316.0 897.0,316.1 897.8,316.4 898.8,316.7 899.8,317.0 900.8,317.2 901.8,317.5 902.8,317.7 903.8,317.8 904.4,317.9 904.8,318.0 905.8,318.1 906.8,318.2 907.8,318.3 908.8,318.5 909.8,318.6 910.8,318.7 911.8,318.8 912.8,318.9 913.8,318.9 914.8,319.0 915.8,319.1 916.8,319.1 917.8,319.2 918.8,319.2 919.8,319.2 920.0,319.2 920.8,319.1 921.8,318.7 922.8,318.2 923.8,317.5 924.8,316.8 925.8,316.2 926.0,316.1 926.8,315.7 927.8,315.0 928.8,314.4 929.8,313.8 930.8,313.2 931.8,312.9 932.8,312.7 932.9,312.7 933.8,312.9 934.8,313.5 935.8,314.5 936.8,315.6 937.8,316.8 938.8,317.9 939.0,318.1 939.8,318.9 940.8,320.1 941.8,321.4 942.8,322.7 943.8,324.0 944.8,325.1 945.8,326.0 945.9,326.1 946.8,326.8 947.8,327.5 948.8,328.2 949.8,328.9 950.8,329.5 951.8,330.1 952.8,330.7 953.8,331.3 954.8,331.8 955.8,332.3 956.8,332.8 957.8,333.3 958.8,333.7 959.8,334.1 960.8,334.5 961.4,334.7 961.8,334.8 962.8,335.2 963.8,335.5 964.8,335.9 965.8,336.2 966.8,336.5 967.8,336.9 968.8,337.2 969.8,337.5 970.8,337.7 971.8,338.0 972.8,338.2 973.8,338.3 974.8,338.5 975.8,338.6 976.8,338.6 977.0,338.6 977.8,338.6 978.8,338.5 979.8,338.5 980.8,338.4 981.8,338.2 982.8,338.1 983.8,337.9 984.8,337.7 985.8,337.5 986.8,337.3 987.8,337.1 988.8,336.9 989.8,336.6 990.8,336.3 991.8,336.1 992.5,335.8 992.8,335.8 993.8,335.4 994.8,335.1 995.8,334.8 996.8,334.4 997.8,334.0 998.8,333.6 999.8,333.1 1000.8,332.7 1001.8,332.2 1002.8,331.8 1003.8,331.3 1004.8,330.8 1005.8,330.3 1006.8,329.8 1006.8,333.0 1005.8,333.4 1004.8,333.8 1003.8,334.2 1002.8,334.6 1001.8,334.9 1000.8,335.2 999.8,335.6 998.8,335.9 997.8,336.2 996.8,336.4 995.8,336.7 994.8,336.9 993.8,337.1 992.8,337.3 992.5,337.4 991.8,337.5 990.8,337.6 989.8,337.8 988.8,338.1 987.8,338.3 986.8,338.5 985.8,338.7 984.8,338.9 983.8,339.1 982.8,339.3 981.8,339.4 980.8,339.6 979.8,339.7 978.8,339.7 977.8,339.8 977.0,339.8 976.8,339.8 975.8,339.8 974.8,339.7 973.8,339.5 972.8,339.4 971.8,339.2 970.8,338.9 969.8,338.7 968.8,338.4 967.8,338.1 966.8,337.7 965.8,337.4 964.8,337.1 963.8,336.7 962.8,336.4 961.8,336.0 961.4,335.9 960.8,335.7 959.8,335.4 958.8,335.1 957.8,334.7 956.8,334.4 955.8,334.1 954.8,333.7 953.8,333.3 952.8,332.8 951.8,332.4 950.8,331.9 949.8,331.4 948.8,330.9 947.8,330.3 946.8,329.7 945.9,329.1 945.8,329.0 944.8,328.3 943.8,327.3 942.8,326.2 941.8,325.0 940.8,323.8 939.8,322.7 939.0,321.9 938.8,321.7 937.8,320.6 936.8,319.4 935.8,318.3 934.8,317.3 933.8,316.7 932.9,316.5 932.8,316.5 931.8,316.7 930.8,317.0 929.8,317.6 928.8,318.2 927.8,318.8 926.8,319.5 926.0,319.9 925.8,320.0 924.8,320.6 923.8,321.3 922.8,322.0 921.8,322.5 920.8,322.9 920.0,323.0 919.8,323.0 918.8,323.0 917.8,323.0 916.8,322.9 915.8,322.9 914.8,322.8 913.8,322.7 912.8,322.7 911.8,322.6 910.8,322.5 909.8,322.4 908.8,322.3 907.8,322.1 906.8,322.0 905.8,321.9 904.8,321.8 904.4,321.7 903.8,321.6 902.8,321.5 901.8,321.3 900.8,321.0 899.8,320.8 898.8,320.5 897.8,320.2 897.0,319.9 896.8,319.8 895.8,319.2 894.8,318.4 893.8,317.6 892.8,316.9 891.8,316.5 891.5,316.5 890.8,316.6 889.8,317.2 888.8,318.1 887.8,319.1 886.8,320.1 886.0,320.9 885.8,321.1 884.8,322.1 883.8,323.1 882.8,324.2 881.8,325.1 881.1,325.6 880.8,325.8 879.8,326.4 878.8,326.9 877.8,327.4 876.8,327.8 875.8,328.2 874.8,328.6 873.8,329.0 872.8,329.4 871.8,329.7 870.8,330.1 870.0,330.4 869.8,330.5 868.8,330.9 867.8,331.2 866.8,331.6 865.8,332.0 864.8,332.4 863.8,332.7 862.8,333.1 861.8,333.4 860.8,333.7 859.8,334.0 858.8,334.3 857.8,334.6 856.8,334.9 855.8,335.2 854.8,335.4 853.8,335.7 852.8,336.0 851.8,336.3 850.8,336.6 849.8,336.9 848.8,337.1 847.8,337.4 846.8,337.6 845.8,337.8 844.8,338.0 843.8,338.2 842.8,338.3 841.8,338.4 840.8,338.5 839.8,338.5 839.6,338.5 838.8,338.5 837.8,338.5 836.8,338.5 835.8,338.5 834.8,338.5 833.8,338.5 832.8,338.5 831.8,338.5 830.8,338.5 829.8,338.4 828.8,338.4 827.8,338.4 826.8,338.4 826.0,338.4 825.8,338.4 824.8,338.4 823.8,338.3 822.8,338.2 821.8,338.1 820.8,337.9 819.8,337.8 818.8,337.6 817.8,337.5 816.8,337.4 815.8,337.3 814.8,337.2 813.8,337.2 813.7,337.2 812.8,337.2 811.8,337.4 810.8,337.6 809.8,337.8 808.8,338.1 807.8,338.4 806.8,338.7 806.0,338.9 805.8,339.0 804.8,339.3 803.8,339.7 802.8,340.1 801.8,340.5 800.8,340.6 800.7,340.6 799.8,340.6 798.8,340.5 797.8,340.5 796.8,340.4 795.8,340.3 794.8,340.1 793.8,340.0 792.8,339.8 792.7,339.8 791.8,339.5 790.8,339.1 789.8,338.4 788.8,337.7 787.8,337.0 786.8,336.3 786.0,335.9 785.8,335.8 784.8,335.3 783.8,334.7 782.8,334.2 781.8,333.7 780.8,333.4 779.8,333.3 778.8,333.3 777.8,333.5 776.8,333.6 775.8,333.9 774.8,334.1 773.8,334.4 772.8,334.7 772.0,334.9 771.8,335.0 770.8,335.3 769.8,335.8 768.8,336.2 767.8,336.7 766.8,337.0 765.8,337.2 765.5,337.2 764.8,337.2 763.8,337.0 762.8,336.8 761.8,336.6 760.8,336.3 759.8,335.9 758.8,335.6 758.0,335.4 757.8,335.3 756.8,335.0 755.8,334.6 754.8,334.2 753.8,333.8 752.8,333.5 751.8,333.3 751.2,333.3 750.8,333.3 749.8,333.6 748.8,334.1 747.8,334.8 746.8,335.5 745.8,336.3 745.0,336.9 744.8,337.0 743.8,337.9 742.8,339.0 741.8,340.0 740.8,340.9 740.0,341.4 739.8,341.5 738.8,342.0 737.8,342.5 736.8,343.0 735.8,343.4 734.8,343.7 733.8,344.0 732.8,344.1 731.8,344.2 730.8,344.2 729.8,344.2 728.8,344.2 727.8,344.1 726.8,344.1 725.8,344.0 724.8,344.0 723.8,343.9 722.8,343.8 721.8,343.7 720.8,343.6 719.8,343.5 718.8,343.4 717.8,343.3 716.8,343.2 715.8,343.1 714.8,342.9 713.8,342.8 712.8,342.7 711.8,342.5 711.1,342.4 710.8,342.3 709.8,342.1 708.8,341.8 707.8,341.4 706.8,341.0 705.8,340.6 704.8,340.1 703.8,339.6 702.8,339.1 701.8,338.6 700.8,338.2 700.0,337.9 699.8,337.8 698.8,337.4 697.8,337.0 696.8,336.6 695.8,336.2 694.8,335.8 693.8,335.4 692.8,335.1 691.8,334.9 690.8,334.7 690.3,334.6 689.8,334.5 688.8,334.4 687.8,334.3 686.8,334.2 685.8,334.2 684.8,334.1 683.8,334.0 682.8,333.9 681.8,333.9 680.8,333.8 679.8,333.8 678.8,333.7 677.8,333.7 676.8,333.6 675.8,333.6 674.8,333.5 673.8,333.5 672.8,333.4 672.0,333.4 671.8,333.4 670.8,333.3 669.8,333.3 668.8,333.3 667.8,333.2 666.8,333.2 665.8,333.2 664.8,333.1 663.8,333.1 662.8,333.1 661.8,333.0 660.8,333.0 659.8,333.0 658.8,332.9 657.8,333.0 656.8,333.1 655.8,333.6 654.8,334.4 654.0,334.8 653.8,334.8 652.8,334.4 651.8,333.6 650.8,333.0 649.8,332.8 648.8,332.7 647.8,332.6 646.8,332.6 645.8,332.6 644.8,332.6 643.8,332.5 642.8,332.5 641.8,332.5 640.8,332.4 640.0,332.4 639.8,332.4 638.8,332.3 637.8,332.2 636.8,332.1 635.8,332.0 634.8,331.9 633.8,331.8 632.8,331.6 631.8,331.5 630.8,331.4 629.8,331.4 628.8,331.3 628.1,331.3 627.8,331.3 626.8,331.3 625.8,331.3 624.8,331.4 623.8,331.4 622.8,331.5 621.8,331.6 620.8,331.7 619.8,331.7 618.8,331.8 617.8,331.9 616.8,332.0 615.8,332.1 614.8,332.2 613.8,332.3 612.8,332.3 612.0,332.4 611.8,332.4 610.8,332.5 609.8,332.6 608.8,332.7 607.8,332.7 606.8,332.8 605.8,332.9 604.8,333.0 603.8,333.1 602.8,333.2 601.8,333.3 600.8,333.6 599.8,334.3 598.8,335.0 598.3,335.3 597.8,335.3 596.8,334.5 595.8,333.4 594.8,332.5 593.8,331.8 592.8,331.3 591.8,330.8 591.0,330.4 590.8,330.3 589.8,329.9 588.8,329.3 587.8,328.8 586.8,328.4 585.8,328.2 585.4,328.2 584.8,328.2 583.8,328.4 582.8,328.6 581.8,329.0 580.8,329.3 579.8,329.7 578.8,330.1 578.0,330.4 577.8,330.5 576.8,331.0 575.8,331.5 574.8,332.1 573.8,332.6 572.8,333.0 571.8,333.3 571.1,333.4 570.8,333.4 569.8,333.2 568.8,332.9 567.8,332.4 566.8,331.9 565.8,331.2 564.8,330.6 563.8,330.0 562.8,329.5 562.0,329.2 561.8,329.1 560.8,328.8 559.8,328.5 558.8,328.2 557.8,328.0 556.8,327.7 555.8,327.5 555.6,327.4 554.8,327.2 553.8,326.9 552.8,326.6 551.8,326.4 550.8,326.1 549.8,325.8 548.8,325.5 547.8,325.2 546.8,325.0 546.0,324.8 545.8,324.7 544.8,324.4 543.8,324.1 542.8,323.7 541.8,323.4 540.8,323.1 539.8,322.9 538.8,322.7 538.2,322.7 537.8,322.8 536.8,323.1 535.8,323.7 534.8,324.5 533.8,325.4 532.8,326.3 532.0,327.0 531.8,327.1 530.8,328.1 529.8,329.1 528.8,330.2 527.8,331.3 526.8,332.3 526.0,332.9 525.8,333.1 524.8,333.9 523.8,334.6 522.8,335.3 521.8,336.0 520.8,336.5 519.8,336.9 518.9,337.2 518.8,337.2 517.8,337.4 516.8,337.5 515.8,337.7 514.8,337.8 513.8,338.0 512.8,338.1 511.8,338.2 510.8,338.3 509.8,338.4 508.8,338.5 507.8,338.6 506.8,338.7 505.8,338.7 504.8,338.8 503.8,338.9 502.8,339.0 501.8,339.1 500.8,339.2 500.0,339.3 499.8,339.3 498.8,339.4 497.8,339.6 496.8,339.7 495.8,339.8 494.8,339.9 493.8,340.0 492.8,340.1 491.8,340.2 490.8,340.3 489.8,340.4 488.8,340.5 487.8,340.6 486.8,340.7 485.8,340.8 484.8,340.9 483.8,341.0 482.8,341.1 481.8,341.2 480.8,341.2 480.0,341.3 479.8,341.3 478.8,341.4 477.8,341.4 476.8,341.5 475.8,341.6 474.8,341.7 473.8,341.8 472.8,341.8 471.8,341.9 470.8,341.9 469.8,341.9 468.8,341.9 467.8,341.9 467.6,341.9 466.8,341.9 465.8,341.8 464.8,341.7 463.8,341.6 462.8,341.5 461.8,341.3 460.8,341.2 459.8,341.0 458.8,340.9 457.8,340.7 456.8,340.6 456.0,340.5 455.8,340.5 454.8,340.3 453.8,340.1 452.8,339.9 451.8,339.6 450.8,339.3 449.8,338.8 448.8,338.2 447.8,337.4 446.8,336.4 445.8,335.3 444.8,333.9 443.9,332.4 443.8,332.3 443.6,331.9 443.4,331.4 443.1,330.9 442.9,330.4 442.8,330.3 442.6,329.9 442.4,329.3 442.1,328.7 441.9,328.0 441.8,327.9 441.6,327.4 441.4,326.7 441.1,325.9 440.9,325.2 440.8,325.0 440.6,324.4 440.4,323.5 440.1,322.6 439.9,321.6 439.8,321.4 439.6,320.5 439.4,319.4 439.1,318.3 438.9,317.0 438.8,316.8 438.6,315.7 438.4,314.2 438.1,312.7 437.9,311.1 437.8,310.7 437.6,309.3 437.4,307.5 437.1,305.5 436.9,303.3 436.8,302.9 436.6,301.0 436.4,298.6 436.1,296.0 435.9,293.3 435.8,292.7 435.6,290.4 435.4,287.4 435.1,284.3 434.9,281.2 434.8,280.5 434.6,278.0 434.4,274.9 434.1,271.8 433.9,269.1 433.8,268.5 433.6,266.6 433.4,264.5 433.1,262.9 432.9,261.8 432.8,261.6 432.6,261.1 432.4,260.7 432.1,260.6 431.9,260.7 431.8,260.7 431.6,261.0 431.4,261.6 431.1,262.7 430.9,264.2 430.8,264.6 430.6,266.2 430.4,268.6 430.1,271.3 429.9,274.3 429.8,274.9 429.6,277.3 429.4,280.4 429.1,283.5 428.9,286.5 428.8,287.1 428.6,289.5 428.4,292.3 428.1,294.9 427.9,297.4 427.8,297.9 427.6,299.7 427.4,301.9 427.1,304.0 426.9,305.9 426.8,306.3 426.6,307.7 426.4,309.3 426.1,310.9 425.9,312.3 425.8,312.6 425.6,313.6 425.4,314.9 425.1,316.0 424.9,317.1 424.8,317.3 424.6,318.1 424.4,319.0 424.1,319.9 423.9,320.7 423.8,320.9 423.6,321.5 423.4,322.2 423.1,322.8 422.9,323.5 422.8,323.6 422.6,324.1 422.4,324.6 422.1,325.1 421.9,325.6 421.8,325.7 421.6,326.1 421.4,326.5 421.1,326.9 420.9,327.3 420.8,327.4 420.6,327.7 420.4,328.1 420.1,328.4 419.8,328.8 418.8,329.9 417.8,330.9 416.8,331.7 415.8,332.3 414.8,332.9 413.8,333.4 413.0,333.8 412.8,333.9 411.8,334.3 410.8,334.7 409.8,335.0 409.0,335.2 408.8,335.3 407.8,335.5 406.8,335.6 405.8,335.7 404.8,335.8 403.8,335.9 403.4,335.9 402.8,335.9 401.8,335.8 400.8,335.7 399.8,335.4 398.8,335.1 397.8,334.8 396.8,334.3 395.8,333.9 394.8,333.4 393.8,332.9 392.8,332.4 391.8,331.8 390.8,331.3 389.8,330.8 388.8,330.3 387.8,329.8 386.8,329.3 385.8,328.9 384.8,328.5 384.0,328.3 383.8,328.2 382.8,327.9 381.8,327.6 380.8,327.3 379.8,327.0 378.8,326.6 377.8,326.3 376.8,326.0 375.8,325.7 374.8,325.5 373.8,325.2 372.8,325.0 371.8,324.7 370.8,324.5 369.8,324.3 368.8,324.2 367.8,324.1 366.8,324.0 365.8,323.9 365.0,323.9 364.8,323.9 363.8,324.0 362.8,324.2 361.8,324.6 360.8,325.0 359.8,325.6 358.8,326.1 357.8,326.8 356.8,327.5 355.8,328.2 354.8,328.9 353.8,329.6 352.8,330.3 352.0,330.9 351.8,331.0 350.8,331.8 349.8,332.8 348.8,333.9 347.8,335.0 346.8,336.1 345.8,337.1 344.8,338.0 343.8,338.6 342.8,338.9 342.5,338.9 341.8,338.9 340.8,338.9 339.8,338.9 338.8,338.9 337.8,338.9 336.8,338.9 335.8,338.9 335.0,338.9 334.8,338.9 333.8,338.9 332.8,338.9 331.8,338.9 330.8,338.9 329.8,338.9 328.8,338.9 327.8,338.9 326.8,338.9 325.8,338.9 324.8,338.9 323.8,338.9 322.8,338.9 321.8,338.9 320.8,338.9 319.8,338.8 318.8,338.8 317.8,338.8 316.8,338.8 315.8,338.8 314.8,338.8 313.8,338.8 312.8,338.8 311.8,338.8 310.8,338.8 309.8,338.7 308.8,338.7 307.8,338.7 306.8,338.7 305.8,338.7 304.8,338.7 303.8,338.7 302.8,338.6 301.8,338.6 300.8,338.6 299.8,338.6 298.8,338.6 297.8,338.6 296.8,338.5 295.8,338.5 294.8,338.5 293.8,338.5 292.8,338.4 291.8,338.4 290.8,338.4 290.6,338.4 289.8,338.4 288.8,338.3 287.8,338.3 286.8,338.2 285.8,338.2 284.8,338.1 283.8,338.0 282.8,337.9 281.8,337.8 280.8,337.7 279.8,337.6 278.8,337.5 278.0,337.4 277.8,337.4 276.8,337.2 275.8,337.1 274.8,336.9 273.8,336.7 272.8,336.5 271.8,336.3 270.8,336.1 269.8,335.9 268.8,335.7 267.8,335.7 266.8,335.6 266.5,335.6 265.8,335.6 264.8,335.6 263.8,335.7 262.8,335.8 261.8,335.9 260.8,336.0 259.8,336.1 258.8,336.2 257.8,336.4 256.8,336.6 255.8,336.7 254.8,336.9 253.8,337.0 252.8,337.2 252.0,337.3 251.8,337.3 250.8,337.5 249.8,337.7 248.8,338.0 247.8,338.2 246.8,338.5 245.8,338.8 244.8,339.1 243.8,339.4 242.8,339.7 242.0,340.0 241.8,340.0 240.8,340.4 239.8,341.0 238.8,341.8 237.8,342.7 236.8,343.6 235.8,344.4 234.8,344.7 233.8,344.3 232.8,343.4 231.8,342.3 230.8,341.2 229.8,340.4 228.8,339.8 228.0,339.5 227.8,339.4 226.8,339.2 225.8,339.0 224.8,338.8 223.8,338.7 222.8,338.5 221.8,338.4 220.8,338.3 219.8,338.2 218.8,338.1 217.8,338.0 216.8,337.9 215.8,337.9 214.8,337.8 214.3,337.8 213.8,337.8 212.8,337.7 211.8,337.7 210.8,337.7 209.8,337.7 208.8,337.7 207.8,337.6 206.8,337.6 205.8,337.6 204.8,337.6 203.8,337.6 202.8,337.6 201.8,337.5 200.8,337.5 199.8,337.5 198.8,337.5 198.0,337.4 197.8,337.4 196.8,337.3 195.8,337.2 194.8,337.1 193.8,336.9 192.8,336.7 191.8,336.6 191.0,336.4 190.8,336.4 189.8,336.2 188.8,336.0 187.8,335.7 186.8,335.4 185.8,335.1 184.8,334.9 183.8,334.6 182.8,334.4 181.8,334.3 180.8,334.2 180.2,334.2 179.8,334.2 178.8,334.3 177.8,334.4 176.8,334.5 175.8,334.7 174.8,334.9 173.8,335.1 172.8,335.4 171.8,335.6 170.8,335.8 169.8,336.1 168.8,336.3 168.0,336.4 167.8,336.4 166.8,336.6 165.8,336.8 164.8,337.0 163.8,337.2 162.8,337.4 161.8,337.6 160.8,337.8 159.8,337.9 158.8,338.0 157.8,338.1 157.0,338.1 156.8,338.1 155.8,338.1 154.8,338.1 153.8,338.1 152.8,338.1 151.8,338.1 150.8,338.1 149.8,338.1 148.8,338.1 147.8,338.1 146.8,338.1 145.8,338.1 144.8,338.1 143.8,338.1 143.3,338.1 142.8,338.1 141.8,338.0 140.8,338.0 139.8,337.8 138.8,337.7 137.8,337.5 136.8,337.3 135.8,337.1 135.1,337.0 134.8,336.9 133.8,336.7 132.8,336.3 131.8,335.9 130.8,335.4 129.8,334.9 128.8,334.4 127.8,333.8 126.9,333.3 126.8,333.2 125.8,332.6 124.8,331.8 123.8,331.0 122.8,330.2 121.8,329.3 120.8,328.4 120.1,327.8 119.8,327.5 118.8,326.4 117.8,325.3 116.8,324.2 115.8,323.6 115.3,323.5 114.8,323.6 113.8,324.3 112.8,325.2 111.9,326.1 111.8,326.2 110.8,327.1 109.8,328.2 108.8,329.2 107.8,330.2 106.8,331.0 106.4,331.3 105.8,331.7 104.8,332.2 103.8,332.7 102.8,333.2 101.8,333.7 100.8,334.1 99.8,334.5 98.8,334.8 97.8,335.2 96.8,335.5 95.8,335.9 95.5,336.0 94.8,336.2 93.8,336.6 92.8,336.9 91.8,337.3 90.8,337.6 89.8,337.9 88.8,338.2 87.8,338.5 86.8,338.8 85.8,339.1 84.8,339.3 83.8,339.6 82.8,339.8 81.8,340.1 80.8,340.3 79.8,340.5" fill="#1512e6" stroke="#1512e6" stroke-width="2.4" stroke-linejoin="round"/>
<polygon points="79.8,433.4 80.8,433.3 81.8,433.2 82.8,433.0 83.8,432.9 84.8,432.7 85.8,432.6 86.8,432.4 87.8,432.2 88.8,431.9 89.8,431.7 90.8,431.5 91.8,431.2 92.8,431.0 93.8,430.7 94.8,430.5 95.5,430.3 95.8,430.2 96.8,429.9 97.8,429.7 98.8,429.4 99.8,429.1 100.8,428.7 101.8,428.3 102.8,427.9 103.8,427.5 104.8,427.0 105.8,426.5 106.4,426.2 106.8,425.9 107.8,425.1 108.8,424.2 109.8,423.1 110.8,422.0 111.8,421.1 111.9,421.0 112.8,420.2 113.8,419.2 114.8,418.4 115.6,418.2 115.8,418.2 116.8,418.5 117.8,419.2 118.8,420.0 119.8,420.8 120.1,421.0 120.8,421.5 121.8,422.4 122.8,423.3 123.8,424.2 124.8,425.1 125.8,426.0 126.8,426.7 126.9,426.8 127.8,427.4 128.8,428.1 129.8,428.8 130.8,429.5 131.8,430.1 132.8,430.6 133.8,431.0 134.8,431.3 135.1,431.4 135.8,431.5 136.8,431.7 137.8,431.8 138.8,432.0 139.8,432.1 140.8,432.2 141.8,432.3 142.8,432.4 143.8,432.4 144.8,432.5 145.8,432.5 146.0,432.5 146.8,432.5 147.8,432.5 148.8,432.5 149.8,432.5 150.8,432.5 151.8,432.5 152.8,432.5 153.8,432.5 154.8,432.5 155.8,432.5 156.8,432.5 157.8,432.5 158.8,432.5 159.7,432.5 159.8,432.5 160.8,432.4 161.8,432.3 162.8,432.1 163.8,431.8 164.8,431.5 165.8,431.2 166.8,430.9 167.8,430.6 168.8,430.3 169.8,430.0 170.0,430.0 170.8,429.8 171.8,429.6 172.8,429.3 173.8,429.1 174.8,428.9 175.8,428.6 176.8,428.4 177.8,428.3 178.8,428.1 179.8,428.0 180.8,428.0 180.9,428.0 181.8,428.0 182.8,428.2 183.8,428.4 184.8,428.6 185.8,428.9 186.8,429.3 187.8,429.6 188.8,429.9 189.8,430.2 190.8,430.5 191.0,430.5 191.8,430.7 192.8,430.9 193.8,431.1 194.8,431.3 195.8,431.5 196.8,431.6 197.8,431.7 198.0,431.7 198.8,431.7 199.8,431.7 200.8,431.7 201.8,431.7 202.8,431.7 203.8,431.7 204.8,431.7 205.8,431.7 206.8,431.7 207.8,431.7 208.8,431.7 209.8,431.7 210.0,431.7 210.8,431.7 211.8,431.6 212.8,431.4 213.8,431.3 214.8,431.0 215.8,430.8 216.8,430.7 217.8,430.5 218.8,430.4 219.6,430.4 219.8,430.4 220.8,430.5 221.8,430.7 222.8,431.0 223.8,431.4 224.8,431.8 225.8,432.3 226.8,432.7 227.8,433.1 228.8,433.4 229.0,433.5 229.8,433.7 230.8,434.0 231.8,434.3 232.8,434.6 233.8,434.9 234.8,435.2 235.8,435.5 236.8,435.7 237.8,435.8 238.8,436.0 239.8,436.0 239.9,436.0 240.8,435.9 241.8,435.6 242.8,435.2 243.8,434.7 244.8,434.2 245.8,433.6 246.8,433.0 247.8,432.6 248.0,432.5 248.8,432.2 249.8,431.7 250.8,431.3 251.8,430.8 252.8,430.4 253.8,430.0 254.8,429.8 255.8,429.6 256.4,429.6 256.8,429.6 257.8,429.6 258.8,429.7 259.8,429.7 260.8,429.8 261.8,429.9 262.8,430.0 263.8,430.1 264.8,430.2 265.8,430.4 266.8,430.5 267.0,430.5 267.8,430.6 268.8,430.8 269.8,430.9 270.8,431.1 271.8,431.4 272.8,431.6 273.8,431.8 274.8,431.9 275.8,432.1 276.8,432.2 277.8,432.2 278.0,432.2 278.8,432.2 279.8,432.2 280.8,432.1 281.8,432.1 282.8,432.0 283.8,431.9 284.8,431.8 285.8,431.7 286.8,431.6 287.8,431.5 288.8,431.3 289.8,431.2 290.8,431.1 291.8,431.0 292.0,431.0 292.8,430.9 293.8,430.8 294.8,430.7 295.8,430.6 296.8,430.4 297.8,430.3 298.8,430.2 299.8,430.0 300.8,429.9 301.8,429.8 302.8,429.7 303.8,429.7 304.8,429.6 305.8,429.6 306.8,429.6 307.8,429.7 308.8,429.8 309.8,429.9 310.8,430.0 311.8,430.1 312.8,430.3 313.8,430.4 314.8,430.6 315.8,430.7 316.8,430.8 317.8,430.9 318.8,431.0 319.8,431.0 320.0,431.0 320.8,431.0 321.8,431.0 322.8,431.0 323.8,431.0 324.8,431.0 325.8,431.0 326.8,431.0 327.8,431.0 328.8,430.9 329.8,430.9 330.8,430.9 331.8,430.9 332.8,430.9 333.8,430.9 334.8,430.8 335.8,430.8 336.8,430.8 337.8,430.8 338.8,430.7 339.8,430.7 340.8,430.7 341.8,430.6 342.7,430.6 342.8,430.6 343.8,430.4 344.8,429.9 345.8,429.3 346.8,428.5 347.8,427.6 348.8,426.7 349.8,425.7 350.8,424.8 351.8,423.9 352.8,423.1 353.0,423.0 353.8,422.5 354.8,421.7 355.8,421.0 356.8,420.2 357.8,419.5 358.8,418.7 359.8,418.0 360.8,417.4 361.8,416.9 362.8,416.4 363.8,416.1 364.8,415.9 365.4,415.9 365.8,415.9 366.8,416.0 367.8,416.1 368.8,416.2 369.8,416.4 370.8,416.7 371.8,416.9 372.8,417.2 373.8,417.6 374.8,417.9 375.8,418.3 376.8,418.7 377.8,419.0 378.8,419.4 379.8,419.8 380.8,420.1 381.8,420.5 382.5,420.7 382.8,420.8 383.8,421.1 384.8,421.5 385.8,421.9 386.8,422.4 387.8,422.8 388.8,423.3 389.8,423.8 390.8,424.3 391.8,424.7 392.8,425.2 393.8,425.6 394.8,426.1 395.8,426.4 396.8,426.8 397.8,427.1 398.8,427.4 399.8,427.6 400.8,427.7 401.8,427.8 402.4,427.8 402.8,427.8 403.8,427.7 404.8,427.6 405.8,427.5 406.8,427.3 407.8,427.0 408.0,427.0 408.8,426.8 409.8,426.5 410.8,426.3 411.8,426.0 412.8,425.5 413.7,424.9 413.8,424.8 414.8,423.9 415.8,422.9 416.8,421.7 417.8,420.2 418.8,418.5 419.8,416.5 420.4,415.2 420.6,414.5 420.8,414.1 420.9,413.9 421.1,413.2 421.4,412.5 421.6,411.7 421.8,411.3 421.9,410.9 422.1,410.1 422.4,409.2 422.6,408.3 422.8,407.7 422.9,407.3 423.1,406.3 423.4,405.2 423.6,404.1 423.8,403.4 423.9,402.9 424.1,401.6 424.4,400.3 424.6,398.9 424.8,398.0 424.9,397.4 425.1,395.8 425.4,394.1 425.6,392.4 425.8,391.3 425.9,390.5 426.1,388.5 426.4,386.4 426.6,384.2 426.8,382.8 426.9,381.9 427.1,379.4 427.4,376.9 427.6,374.1 427.8,372.5 427.9,371.3 428.1,368.3 428.4,365.2 428.6,362.0 428.8,360.0 428.9,358.7 429.1,355.3 429.4,351.8 429.6,348.3 429.8,346.1 429.9,344.7 430.1,341.2 430.4,337.7 430.6,334.4 430.8,332.4 430.9,331.2 431.1,328.3 431.4,325.7 431.6,323.6 431.8,322.5 431.9,321.9 432.1,320.9 432.4,320.6 432.6,321.0 432.8,321.5 432.9,322.0 433.1,323.6 433.4,325.8 433.6,328.4 433.8,330.1 433.9,331.3 434.1,334.5 434.4,337.9 434.6,341.4 434.8,343.6 434.9,345.0 435.1,348.6 435.4,352.2 435.6,355.7 435.8,357.8 435.9,359.2 436.1,362.5 436.4,365.8 436.6,369.0 436.8,370.8 436.9,372.0 437.1,374.9 437.4,377.7 437.6,380.4 437.8,381.9 437.9,383.0 438.1,385.4 438.4,387.7 438.6,389.9 438.8,391.1 438.9,392.0 439.1,393.9 439.4,395.8 439.6,397.6 439.8,398.6 439.9,399.3 440.1,400.9 440.4,402.5 440.6,404.0 440.8,404.8 440.9,405.4 441.1,406.7 441.4,408.0 441.6,409.2 441.8,409.9 441.9,410.3 442.1,411.5 442.4,412.5 442.6,413.5 442.8,414.1 442.9,414.5 443.1,415.4 443.4,416.3 443.6,417.2 443.8,417.7 443.9,418.0 444.1,418.8 444.8,420.7 445.8,423.3 446.8,425.4 447.8,427.2 448.8,428.6 449.8,429.8 450.6,430.5 450.8,430.6 451.8,431.3 452.8,431.8 453.8,432.2 454.8,432.5 455.8,432.7 456.8,433.0 457.8,433.1 458.8,433.3 459.8,433.5 460.0,433.5 460.8,433.6 461.8,433.7 462.8,433.9 463.8,434.0 464.8,434.2 465.8,434.3 466.8,434.4 467.8,434.5 468.8,434.7 469.8,434.7 470.8,434.8 471.8,434.8 472.8,434.8 473.4,434.8 473.8,434.8 474.8,434.7 475.8,434.6 476.8,434.5 477.8,434.4 478.8,434.3 479.8,434.1 480.8,433.9 481.8,433.8 482.8,433.6 483.8,433.4 484.8,433.3 485.8,433.1 486.8,433.0 487.0,433.0 487.8,432.9 488.8,432.7 489.8,432.6 490.8,432.5 491.8,432.4 492.8,432.3 493.8,432.1 494.8,432.0 495.8,431.9 496.8,431.8 497.8,431.7 498.8,431.6 499.8,431.5 500.8,431.4 501.8,431.3 502.8,431.2 503.8,431.0 504.8,430.9 505.8,430.7 506.8,430.5 507.8,430.4 508.8,430.2 509.8,430.0 510.8,429.8 511.8,429.6 512.8,429.4 513.8,429.2 514.0,429.2 514.8,429.1 515.8,428.9 516.8,428.7 517.8,428.6 518.8,428.4 519.8,428.2 520.8,428.1 521.8,427.8 522.8,427.6 523.8,427.3 524.5,427.0 524.8,426.9 525.8,426.1 526.8,424.9 527.8,423.5 528.8,422.0 529.8,420.6 530.8,419.4 531.0,419.2 531.8,418.4 532.8,417.3 533.8,416.3 534.8,415.4 535.8,414.7 536.8,414.3 537.3,414.2 537.8,414.2 538.8,414.4 539.8,414.7 540.8,415.2 541.8,415.7 542.8,416.3 543.8,416.9 544.8,417.5 545.8,418.0 546.8,418.4 547.2,418.5 547.8,418.7 548.8,419.0 549.8,419.3 550.8,419.6 551.8,419.7 552.7,419.8 552.8,419.8 553.8,419.7 554.8,419.4 555.8,419.1 556.8,418.7 557.8,418.3 558.8,418.0 559.8,417.8 560.3,417.8 560.8,417.8 561.8,418.2 562.8,418.8 563.8,419.6 564.8,420.6 565.8,421.5 566.8,422.5 567.8,423.3 568.8,424.0 569.8,424.3 570.4,424.4 570.8,424.4 571.8,424.2 572.8,423.8 573.8,423.4 574.8,422.8 575.8,422.3 576.8,421.7 577.8,421.3 578.0,421.2 578.8,420.9 579.8,420.4 580.8,420.0 581.8,419.5 582.8,419.1 583.8,418.8 584.8,418.6 585.7,418.5 585.8,418.5 586.8,418.7 587.8,419.1 588.8,419.6 589.8,420.3 590.8,421.0 591.8,421.6 592.0,421.7 592.8,422.2 593.8,422.9 594.8,423.7 595.8,424.4 596.8,425.0 597.8,425.4 598.3,425.4 598.8,425.4 599.8,425.4 600.8,425.4 601.8,425.3 602.8,425.3 603.8,425.2 604.8,425.1 605.8,425.0 606.8,424.9 607.8,424.8 608.8,424.7 609.8,424.6 610.8,424.5 611.8,424.4 612.8,424.3 613.8,424.2 614.8,424.1 615.8,424.0 616.8,423.9 617.8,423.8 618.8,423.8 619.8,423.7 620.8,423.7 621.8,423.6 622.8,423.6 623.7,423.6 623.8,423.6 624.8,423.6 625.8,423.7 626.8,423.9 627.8,424.0 628.8,424.3 629.8,424.5 630.8,424.8 631.8,425.0 632.8,425.3 633.8,425.6 634.8,425.8 635.8,426.1 636.8,426.3 637.8,426.5 638.8,426.7 639.8,426.8 640.8,426.9 641.5,426.9 641.8,426.9 642.8,426.9 643.8,426.9 644.8,426.8 645.8,426.8 646.8,426.7 647.8,426.7 648.8,426.6 649.8,426.5 650.8,426.5 651.8,426.4 652.8,426.3 653.8,426.3 654.8,426.2 655.0,426.2 655.8,426.2 656.8,426.1 657.8,426.0 658.8,426.0 659.8,425.9 660.8,425.8 661.8,425.7 662.8,425.7 663.8,425.6 664.8,425.5 665.8,425.5 666.8,425.4 667.8,425.4 668.8,425.4 669.4,425.4 669.8,425.4 670.8,425.4 671.8,425.4 672.8,425.4 673.8,425.4 674.8,425.4 675.8,425.4 676.8,425.4 677.8,425.4 678.8,425.4 679.8,425.4 680.8,425.5 681.8,425.5 682.8,425.5 683.8,425.5 684.8,425.5 685.8,425.5 686.8,425.5 687.8,425.6 688.8,425.6 689.7,425.6 689.8,425.6 690.8,425.7 691.8,425.8 692.8,426.1 693.8,426.4 694.8,426.7 695.8,427.1 696.8,427.5 697.8,427.9 698.8,428.3 699.8,428.6 700.0,428.7 700.8,429.0 701.8,429.4 702.8,429.8 703.8,430.3 704.8,430.7 705.8,431.2 706.8,431.6 707.8,431.9 708.8,432.2 709.8,432.5 710.0,432.5 710.8,432.6 711.8,432.8 712.8,432.9 713.8,433.0 714.8,433.1 715.8,433.2 716.8,433.2 717.8,433.3 718.8,433.4 719.8,433.5 720.8,433.6 721.8,433.7 722.0,433.7 722.8,433.8 723.8,433.9 724.8,434.1 725.8,434.2 726.8,434.4 727.8,434.6 728.8,434.7 729.8,434.8 730.8,434.9 731.8,435.0 732.8,435.0 733.8,434.9 734.8,434.5 735.8,434.0 736.8,433.3 737.8,432.5 738.8,431.8 739.8,431.0 740.8,430.3 741.0,430.2 741.8,429.7 742.8,429.0 743.8,428.2 744.8,427.4 745.8,426.6 746.8,425.9 747.8,425.2 748.8,424.8 749.8,424.5 750.6,424.4 750.8,424.4 751.8,424.5 752.8,424.7 753.8,425.0 754.8,425.3 755.8,425.6 756.8,425.9 757.8,426.2 758.0,426.2 758.8,426.3 759.8,426.5 760.8,426.7 761.8,426.9 762.8,427.0 763.8,427.2 764.8,427.3 765.8,427.4 766.8,427.4 767.0,427.4 767.8,427.3 768.8,427.1 769.8,426.8 770.8,426.4 771.8,426.0 772.8,425.7 773.0,425.7 773.8,425.6 774.8,425.4 775.8,425.2 776.8,425.1 777.8,425.0 778.8,424.9 779.7,424.9 779.8,424.9 780.8,425.0 781.8,425.2 782.8,425.5 783.8,425.9 784.8,426.3 785.8,426.8 786.8,427.2 787.8,427.7 788.8,428.2 789.8,428.6 790.0,428.7 790.8,429.0 791.8,429.5 792.8,430.0 793.8,430.5 794.8,431.0 795.8,431.6 796.8,432.0 797.8,432.4 798.8,432.8 799.8,433.0 800.8,433.1 801.1,433.1 801.8,433.1 802.8,433.0 803.8,432.8 804.8,432.5 805.8,432.2 806.8,431.9 807.8,431.6 808.8,431.2 809.8,430.9 810.8,430.6 811.8,430.4 812.8,430.3 813.8,430.2 814.0,430.2 814.8,430.2 815.8,430.2 816.8,430.2 817.8,430.3 818.8,430.3 819.8,430.3 820.8,430.4 821.8,430.4 822.8,430.4 823.8,430.5 824.8,430.5 825.8,430.6 826.8,430.6 827.8,430.7 828.8,430.7 829.0,430.7 829.8,430.7 830.8,430.8 831.8,430.8 832.8,430.9 833.8,430.9 834.8,431.0 835.8,431.0 836.8,431.0 837.8,431.1 838.8,431.1 839.8,431.1 840.8,431.2 841.8,431.2 842.8,431.2 843.2,431.2 843.8,431.2 844.8,431.1 845.8,431.0 846.8,430.9 847.8,430.7 848.8,430.5 849.8,430.2 850.8,429.9 851.8,429.6 852.8,429.3 853.8,428.9 854.8,428.6 855.8,428.2 856.8,427.8 857.8,427.5 858.8,427.1 859.8,426.7 860.8,426.4 861.8,426.1 862.0,426.0 862.8,425.7 863.8,425.4 864.8,425.2 865.8,424.9 866.8,424.6 867.8,424.3 868.8,424.0 869.8,423.7 870.8,423.4 871.8,423.0 872.8,422.7 873.8,422.3 874.8,421.9 875.8,421.5 876.8,421.1 877.8,420.6 878.8,420.1 879.8,419.5 880.7,419.0 880.8,418.9 881.8,418.1 882.8,417.1 883.8,415.8 884.8,414.6 885.8,413.4 886.0,413.2 886.8,412.2 887.8,410.9 888.8,409.6 889.8,408.5 890.8,407.9 891.2,407.8 891.8,407.9 892.8,408.4 893.8,409.1 894.8,410.0 895.8,410.9 896.8,411.6 897.0,411.7 897.8,412.1 898.8,412.6 899.8,413.0 900.8,413.5 901.8,413.9 902.8,414.2 903.8,414.4 904.1,414.4 904.8,414.5 905.8,414.5 906.8,414.6 907.8,414.7 908.8,414.8 909.8,414.8 910.8,414.9 911.8,414.9 912.8,415.0 913.8,415.0 914.8,415.1 915.8,415.1 916.8,415.2 917.8,415.2 918.8,415.2 919.8,415.3 920.5,415.3 920.8,415.3 921.8,414.9 922.8,414.2 923.8,413.2 924.8,412.1 925.8,411.0 926.8,410.0 927.0,409.8 927.8,409.1 928.8,408.0 929.8,407.0 930.8,406.1 931.8,405.4 932.7,405.2 932.8,405.3 933.8,405.8 934.8,406.9 935.8,408.5 936.8,410.2 937.8,411.7 938.0,412.0 938.8,413.1 939.8,414.7 940.8,416.4 941.8,417.9 942.8,419.2 943.8,420.2 943.9,420.3 944.8,420.9 945.8,421.5 946.8,422.1 947.8,422.6 948.8,423.0 949.8,423.5 950.8,423.8 951.8,424.2 952.8,424.6 953.8,424.9 954.8,425.2 955.8,425.6 956.8,425.9 957.8,426.3 958.0,426.4 958.8,426.7 959.8,427.2 960.8,427.6 961.8,428.1 962.8,428.6 963.8,429.1 964.8,429.6 965.8,430.1 966.8,430.6 967.8,431.0 968.8,431.5 969.8,431.9 970.8,432.3 971.8,432.6 972.8,432.9 973.8,433.1 974.8,433.3 975.8,433.4 976.7,433.4 976.8,433.4 977.8,433.4 978.8,433.4 979.8,433.4 980.8,433.3 981.8,433.3 982.8,433.2 983.8,433.2 984.8,433.1 985.8,433.1 986.8,433.0 987.8,432.9 988.8,432.8 989.8,432.8 990.7,432.7 990.8,432.7 991.8,432.6 992.8,432.5 993.8,432.4 994.8,432.2 995.8,432.1 996.8,431.9 997.8,431.7 998.8,431.6 999.8,431.3 1000.8,431.1 1001.8,430.9 1002.8,430.7 1003.8,430.4 1004.8,430.2 1005.8,429.9 1006.8,429.7 1007.1,429.6 1007.1,429.6 1006.8,429.7 1005.8,429.9 1004.8,430.2 1003.8,430.4 1002.8,430.7 1001.8,430.9 1000.8,431.1 999.8,431.3 998.8,431.6 997.8,431.7 996.8,431.9 995.8,432.1 994.8,432.2 993.8,432.4 992.8,432.5 991.8,432.6 990.8,432.7 990.7,432.7 989.8,432.8 988.8,432.8 987.8,432.9 986.8,433.0 985.8,433.1 984.8,433.1 983.8,433.2 982.8,433.2 981.8,433.3 980.8,433.3 979.8,433.4 978.8,433.4 977.8,433.4 976.8,433.4 976.7,433.4 975.8,433.4 974.8,433.3 973.8,433.1 972.8,432.9 971.8,432.6 970.8,432.3 969.8,431.9 968.8,431.5 967.8,431.0 966.8,430.6 965.8,430.1 964.8,429.6 963.8,429.1 962.8,428.6 961.8,428.1 960.8,427.6 959.8,427.2 958.8,426.7 958.0,426.4 957.8,426.3 956.8,425.9 955.8,425.6 954.8,425.2 953.8,424.9 952.8,424.6 951.8,424.2 950.8,423.8 949.8,423.5 948.8,423.0 947.8,422.6 946.8,422.1 945.8,421.5 944.8,420.9 943.9,420.3 943.8,420.2 942.8,419.2 941.8,417.9 940.8,416.4 939.8,414.7 938.8,413.1 938.0,412.0 937.8,411.7 936.8,410.2 935.8,408.5 934.8,407.0 933.8,405.8 932.8,405.4 932.7,405.4 931.8,405.6 930.8,406.3 929.8,407.2 928.8,408.3 927.8,409.4 927.0,410.2 926.8,410.4 925.8,411.4 924.8,412.5 923.8,413.7 922.8,414.7 921.8,415.5 920.8,415.9 920.5,415.9 919.8,415.9 918.8,416.0 917.8,416.0 916.8,416.0 915.8,416.0 914.8,416.0 913.8,416.0 912.8,416.0 911.8,416.0 910.8,416.0 909.8,416.0 908.8,416.0 907.8,415.9 906.8,415.9 905.8,415.9 904.8,415.8 904.1,415.8 903.8,415.8 902.8,415.6 901.8,415.4 900.8,415.1 899.8,414.6 898.8,414.2 897.8,413.7 897.0,413.3 896.8,413.2 895.8,412.5 894.8,411.6 893.8,410.7 892.8,410.0 891.8,409.5 891.2,409.4 890.8,409.5 889.8,410.1 888.8,411.2 887.8,412.5 886.8,413.8 886.0,414.8 885.8,415.0 884.8,416.2 883.8,417.4 882.8,418.7 881.8,419.7 880.8,420.5 880.7,420.6 879.8,421.1 878.8,421.7 877.8,422.2 876.8,422.7 875.8,423.1 874.8,423.5 873.8,423.9 872.8,424.3 871.8,424.6 870.8,425.0 869.8,425.3 868.8,425.6 867.8,425.9 866.8,426.2 865.8,426.5 864.8,426.8 863.8,427.0 862.8,427.3 862.0,427.6 861.8,427.7 860.8,428.0 859.8,428.3 858.8,428.7 857.8,429.1 856.8,429.4 855.8,429.8 854.8,430.2 853.8,430.5 852.8,430.9 851.8,431.2 850.8,431.5 849.8,431.8 848.8,432.1 847.8,432.3 846.8,432.5 845.8,432.6 844.8,432.7 843.8,432.8 843.2,432.8 842.8,432.8 841.8,432.8 840.8,432.8 839.8,432.7 838.8,432.7 837.8,432.7 836.8,432.6 835.8,432.6 834.8,432.6 833.8,432.5 832.8,432.5 831.8,432.4 830.8,432.4 829.8,432.3 829.0,432.3 828.8,432.3 827.8,432.3 826.8,432.2 825.8,432.2 824.8,432.1 823.8,432.1 822.8,432.0 821.8,432.0 820.8,432.0 819.8,431.9 818.8,431.9 817.8,431.9 816.8,431.8 815.8,431.8 814.8,431.8 814.0,431.8 813.8,431.8 812.8,431.9 811.8,432.0 810.8,432.2 809.8,432.5 808.8,432.8 807.8,433.2 806.8,433.5 805.8,433.8 804.8,434.1 803.8,434.4 802.8,434.6 801.8,434.7 801.1,434.7 800.8,434.7 799.8,434.6 798.8,434.4 797.8,434.0 796.8,433.6 795.8,433.2 794.8,432.6 793.8,432.1 792.8,431.6 791.8,431.1 790.8,430.6 790.0,430.3 789.8,430.2 788.8,429.8 787.8,429.3 786.8,428.8 785.8,428.4 784.8,427.9 783.8,427.5 782.8,427.1 781.8,426.8 780.8,426.6 779.8,426.5 779.7,426.5 778.8,426.5 777.8,426.6 776.8,426.7 775.8,426.8 774.8,427.0 773.8,427.2 773.0,427.3 772.8,427.3 771.8,427.6 770.8,428.0 769.8,428.4 768.8,428.7 767.8,428.9 767.0,429.0 766.8,429.0 765.8,429.0 764.8,428.9 763.8,428.8 762.8,428.6 761.8,428.5 760.8,428.3 759.8,428.1 758.8,427.9 758.0,427.8 757.8,427.8 756.8,427.5 755.8,427.2 754.8,426.9 753.8,426.6 752.8,426.3 751.8,426.1 750.8,426.0 750.6,426.0 749.8,426.1 748.8,426.4 747.8,426.8 746.8,427.5 745.8,428.2 744.8,429.0 743.8,429.8 742.8,430.6 741.8,431.3 741.0,431.8 740.8,431.9 739.8,432.6 738.8,433.4 737.8,434.1 736.8,434.9 735.8,435.6 734.8,436.1 733.8,436.5 732.8,436.6 731.8,436.6 730.8,436.5 729.8,436.4 728.8,436.3 727.8,436.2 726.8,436.0 725.8,435.8 724.8,435.7 723.8,435.5 722.8,435.4 722.0,435.3 721.8,435.3 720.8,435.2 719.8,435.1 718.8,435.0 717.8,434.9 716.8,434.8 715.8,434.8 714.8,434.7 713.8,434.6 712.8,434.5 711.8,434.4 710.8,434.2 710.0,434.1 709.8,434.1 708.8,433.8 707.8,433.5 706.8,433.2 705.8,432.8 704.8,432.3 703.8,431.9 702.8,431.4 701.8,431.0 700.8,430.6 700.0,430.3 699.8,430.2 698.8,429.9 697.8,429.5 696.8,429.1 695.8,428.7 694.8,428.3 693.8,428.0 692.8,427.7 691.8,427.4 690.8,427.3 689.8,427.2 689.7,427.2 688.8,427.2 687.8,427.2 686.8,427.1 685.8,427.1 684.8,427.1 683.8,427.1 682.8,427.1 681.8,427.1 680.8,427.1 679.8,427.0 678.8,427.0 677.8,427.0 676.8,427.0 675.8,427.0 674.8,427.0 673.8,427.0 672.8,427.0 671.8,427.0 670.8,427.0 669.8,427.0 669.4,427.0 668.8,427.0 667.8,427.0 666.8,427.0 665.8,427.1 664.8,427.1 663.8,427.2 662.8,427.3 661.8,427.3 660.8,427.4 659.8,427.5 658.8,427.6 657.8,427.6 656.8,427.7 655.8,427.8 655.0,427.8 654.8,427.8 653.8,427.9 652.8,427.9 651.8,428.0 650.8,428.1 649.8,428.1 648.8,428.2 647.8,428.3 646.8,428.3 645.8,428.4 644.8,428.4 643.8,428.5 642.8,428.5 641.8,428.5 641.5,428.5 640.8,428.5 639.8,428.4 638.8,428.3 637.8,428.1 636.8,427.9 635.8,427.7 634.8,427.4 633.8,427.2 632.8,426.9 631.8,426.6 630.8,426.4 629.8,426.1 628.8,425.9 627.8,425.6 626.8,425.5 625.8,425.3 624.8,425.2 623.8,425.2 623.7,425.2 622.8,425.2 621.8,425.2 620.8,425.3 619.8,425.3 618.8,425.4 617.8,425.4 616.8,425.5 615.8,425.6 614.8,425.7 613.8,425.8 612.8,425.9 611.8,426.0 610.8,426.1 609.8,426.2 608.8,426.3 607.8,426.4 606.8,426.5 605.8,426.6 604.8,426.7 603.8,426.8 602.8,426.9 601.8,426.9 600.8,427.0 599.8,427.0 598.8,427.0 598.3,427.0 597.8,427.0 596.8,426.6 595.8,426.0 594.8,425.3 593.8,424.5 592.8,423.8 592.0,423.3 591.8,423.2 590.8,422.6 589.8,421.9 588.8,421.2 587.8,420.7 586.8,420.3 585.8,420.1 585.7,420.1 584.8,420.2 583.8,420.4 582.8,420.7 581.8,421.1 580.8,421.6 579.8,422.0 578.8,422.5 578.0,422.8 577.8,422.9 576.8,423.3 575.8,423.9 574.8,424.4 573.8,425.0 572.8,425.4 571.8,425.8 570.8,426.0 570.4,426.0 569.8,425.9 568.8,425.6 567.8,424.9 566.8,424.1 565.8,423.1 564.8,422.2 563.8,421.2 562.8,420.4 561.8,419.8 560.8,419.4 560.3,419.4 559.8,419.4 558.8,419.6 557.8,419.9 556.8,420.3 555.8,420.7 554.8,421.0 553.8,421.3 552.8,421.4 552.7,421.4 551.8,421.3 550.8,421.2 549.8,420.9 548.8,420.6 547.8,420.3 547.2,420.1 546.8,420.0 545.8,419.6 544.8,419.1 543.8,418.5 542.8,417.9 541.8,417.3 540.8,416.8 539.8,416.3 538.8,416.0 537.8,415.8 537.3,415.8 536.8,415.9 535.8,416.3 534.8,417.0 533.8,417.9 532.8,418.9 531.8,420.0 531.0,420.8 530.8,421.0 529.8,422.2 528.8,423.6 527.8,425.1 526.8,426.5 525.8,427.7 524.8,428.5 524.5,428.6 523.8,428.9 522.8,429.2 521.8,429.4 520.8,429.7 519.8,429.8 518.8,430.0 517.8,430.2 516.8,430.3 515.8,430.5 514.8,430.7 514.0,430.8 513.8,430.8 512.8,431.0 511.8,431.2 510.8,431.4 509.8,431.6 508.8,431.8 507.8,432.0 506.8,432.1 505.8,432.3 504.8,432.5 503.8,432.6 502.8,432.8 501.8,432.9 500.8,433.0 499.8,433.1 498.8,433.2 497.8,433.3 496.8,433.4 495.8,433.5 494.8,433.6 493.8,433.7 492.8,433.7 491.8,433.8 490.8,433.8 489.8,433.9 488.8,433.9 487.8,434.0 487.0,434.0 486.8,434.1 485.8,434.1 484.8,434.2 483.8,434.3 482.8,434.4 481.8,434.5 480.8,434.6 479.8,434.7 478.8,434.8 477.8,434.9 476.8,435.0 475.8,435.0 474.8,435.0 473.8,435.0 473.4,435.0 472.8,435.0 471.8,434.9 470.8,434.8 469.8,434.7 468.8,434.7 467.8,434.5 466.8,434.4 465.8,434.3 464.8,434.2 463.8,434.0 462.8,433.9 461.8,433.7 460.8,433.6 460.0,433.5 459.8,433.5 458.8,433.3 457.8,433.1 456.8,433.0 455.8,432.7 454.8,432.5 453.8,432.2 452.8,431.8 451.8,431.3 450.8,430.7 450.6,430.5 449.8,429.8 448.8,428.7 447.8,427.3 446.8,425.6 445.8,423.5 444.8,421.0 444.1,419.1 443.9,418.3 443.8,418.0 443.6,417.5 443.4,416.7 443.1,415.8 442.9,414.9 442.8,414.5 442.6,414.0 442.4,413.0 442.1,411.9 441.9,410.9 441.8,410.4 441.6,409.7 441.4,408.6 441.1,407.3 440.9,406.0 440.8,405.5 440.6,404.7 440.4,403.2 440.1,401.8 439.9,400.2 439.8,399.5 439.6,398.5 439.4,396.8 439.1,395.0 438.9,393.1 438.8,392.3 438.6,391.1 438.4,389.0 438.1,386.8 437.9,384.5 437.8,383.6 437.6,382.1 437.4,379.6 437.1,376.9 436.9,374.2 436.8,373.1 436.6,371.4 436.4,368.4 436.1,365.4 435.9,362.3 435.8,361.1 435.6,359.2 435.4,356.1 435.1,352.9 434.9,349.8 434.8,348.6 434.6,346.8 434.4,343.9 434.1,341.1 433.9,338.6 433.8,337.7 433.6,336.4 433.4,334.5 433.1,333.0 432.9,331.8 432.8,331.5 432.6,331.1 432.4,330.9 432.1,331.1 431.9,331.8 431.8,332.2 431.6,332.9 431.4,334.4 431.1,336.3 430.9,338.5 430.8,339.5 430.6,341.0 430.4,343.7 430.1,346.5 429.9,349.5 429.8,350.7 429.6,352.6 429.4,355.7 429.1,358.8 428.9,361.9 428.8,363.1 428.6,364.9 428.4,367.9 428.1,370.7 427.9,373.5 427.8,374.6 427.6,376.2 427.4,378.7 427.1,381.1 426.9,383.5 426.8,384.4 426.6,385.7 426.4,387.8 426.1,389.8 425.9,391.7 425.8,392.4 425.6,393.5 425.4,395.2 425.1,396.8 424.9,398.3 424.8,398.9 424.6,399.7 424.4,401.1 424.1,402.4 423.9,403.6 423.8,404.1 423.6,404.8 423.4,405.9 423.1,406.9 422.9,407.9 422.8,408.3 422.6,408.8 422.4,409.7 422.1,410.6 421.9,411.4 421.8,411.7 421.6,412.2 421.4,412.9 421.1,413.6 420.9,414.3 420.8,414.5 420.6,414.9 420.4,415.5 419.8,416.8 418.8,418.8 417.8,420.5 416.8,421.9 415.8,423.0 414.8,424.1 413.8,424.9 413.7,425.0 412.8,425.6 411.8,426.0 410.8,426.4 409.8,426.6 408.8,426.8 408.0,427.0 407.8,427.1 406.8,427.3 405.8,427.5 404.8,427.6 403.8,427.7 402.8,427.8 402.4,427.8 401.8,427.8 400.8,427.7 399.8,427.6 398.8,427.4 397.8,427.1 396.8,426.8 395.8,426.4 394.8,426.1 393.8,425.6 392.8,425.2 391.8,424.7 390.8,424.3 389.8,423.8 388.8,423.3 387.8,422.8 386.8,422.4 385.8,421.9 384.8,421.5 383.8,421.1 382.8,420.8 382.5,420.7 381.8,420.5 380.8,420.1 379.8,419.8 378.8,419.4 377.8,419.0 376.8,418.7 375.8,418.3 374.8,417.9 373.8,417.6 372.8,417.2 371.8,416.9 370.8,416.7 369.8,416.4 368.8,416.2 367.8,416.1 366.8,416.0 365.8,415.9 365.4,415.9 364.8,415.9 363.8,416.1 362.8,416.4 361.8,416.9 360.8,417.4 359.8,418.0 358.8,418.7 357.8,419.5 356.8,420.2 355.8,421.0 354.8,421.7 353.8,422.5 353.0,423.0 352.8,423.1 351.8,423.9 350.8,424.8 349.8,425.7 348.8,426.7 347.8,427.6 346.8,428.5 345.8,429.3 344.8,429.9 343.8,430.4 342.8,430.6 342.7,430.6 341.8,430.6 340.8,430.7 339.8,430.7 338.8,430.7 337.8,430.8 336.8,430.8 335.8,430.8 334.8,430.8 333.8,430.9 332.8,430.9 331.8,430.9 330.8,430.9 329.8,430.9 328.8,430.9 327.8,431.0 326.8,431.0 325.8,431.0 324.8,431.0 323.8,431.0 322.8,431.0 321.8,431.0 320.8,431.0 320.0,431.0 319.8,431.0 318.8,431.0 317.8,430.9 316.8,430.8 315.8,430.7 314.8,430.6 313.8,430.4 312.8,430.3 311.8,430.1 310.8,430.0 309.8,429.9 308.8,429.8 307.8,429.7 306.8,429.6 305.8,429.6 304.8,429.6 303.8,429.7 302.8,429.7 301.8,429.8 300.8,429.9 299.8,430.0 298.8,430.2 297.8,430.3 296.8,430.4 295.8,430.6 294.8,430.7 293.8,430.8 292.8,430.9 292.0,431.0 291.8,431.0 290.8,431.1 289.8,431.2 288.8,431.3 287.8,431.5 286.8,431.6 285.8,431.7 284.8,431.8 283.8,431.9 282.8,432.0 281.8,432.1 280.8,432.1 279.8,432.2 278.8,432.2 278.0,432.2 277.8,432.2 276.8,432.2 275.8,432.1 274.8,431.9 273.8,431.8 272.8,431.6 271.8,431.4 270.8,431.1 269.8,430.9 268.8,430.8 267.8,430.6 267.0,430.5 266.8,430.5 265.8,430.4 264.8,430.2 263.8,430.1 262.8,430.0 261.8,429.9 260.8,429.8 259.8,429.7 258.8,429.7 257.8,429.6 256.8,429.6 256.4,429.6 255.8,429.6 254.8,429.8 253.8,430.0 252.8,430.4 251.8,430.8 250.8,431.3 249.8,431.7 248.8,432.2 248.0,432.5 247.8,432.6 246.8,433.0 245.8,433.6 244.8,434.2 243.8,434.7 242.8,435.2 241.8,435.6 240.8,435.9 239.9,436.0 239.8,436.0 238.8,436.0 237.8,435.8 236.8,435.7 235.8,435.5 234.8,435.2 233.8,434.9 232.8,434.6 231.8,434.3 230.8,434.0 229.8,433.7 229.0,433.5 228.8,433.4 227.8,433.1 226.8,432.7 225.8,432.3 224.8,431.8 223.8,431.4 222.8,431.0 221.8,430.7 220.8,430.5 219.8,430.4 219.6,430.4 218.8,430.4 217.8,430.5 216.8,430.7 215.8,430.8 214.8,431.0 213.8,431.3 212.8,431.4 211.8,431.6 210.8,431.7 210.0,431.7 209.8,431.7 208.8,431.7 207.8,431.7 206.8,431.7 205.8,431.7 204.8,431.7 203.8,431.7 202.8,431.7 201.8,431.7 200.8,431.7 199.8,431.7 198.8,431.7 198.0,431.7 197.8,431.7 196.8,431.6 195.8,431.5 194.8,431.3 193.8,431.1 192.8,430.9 191.8,430.7 191.0,430.5 190.8,430.5 189.8,430.2 188.8,429.9 187.8,429.6 186.8,429.3 185.8,428.9 184.8,428.6 183.8,428.4 182.8,428.2 181.8,428.0 180.9,428.0 180.8,428.0 179.8,428.0 178.8,428.1 177.8,428.3 176.8,428.4 175.8,428.6 174.8,428.9 173.8,429.1 172.8,429.3 171.8,429.6 170.8,429.8 170.0,430.0 169.8,430.0 168.8,430.3 167.8,430.6 166.8,430.9 165.8,431.2 164.8,431.5 163.8,431.8 162.8,432.1 161.8,432.3 160.8,432.4 159.8,432.5 159.7,432.5 158.8,432.5 157.8,432.5 156.8,432.5 155.8,432.5 154.8,432.5 153.8,432.5 152.8,432.5 151.8,432.5 150.8,432.5 149.8,432.5 148.8,432.5 147.8,432.5 146.8,432.5 146.0,432.5 145.8,432.5 144.8,432.5 143.8,432.4 142.8,432.4 141.8,432.3 140.8,432.2 139.8,432.1 138.8,432.0 137.8,431.8 136.8,431.7 135.8,431.5 135.1,431.4 134.8,431.3 133.8,431.0 132.8,430.6 131.8,430.1 130.8,429.5 129.8,428.8 128.8,428.1 127.8,427.4 126.9,426.8 126.8,426.7 125.8,426.0 124.8,425.1 123.8,424.2 122.8,423.3 121.8,422.4 120.8,421.5 120.1,421.0 119.8,420.8 118.8,420.0 117.8,419.2 116.8,418.5 115.8,418.2 115.6,418.2 114.8,418.4 113.8,419.2 112.8,420.2 111.9,421.0 111.8,421.1 110.8,422.0 109.8,423.1 108.8,424.2 107.8,425.1 106.8,425.9 106.4,426.2 105.8,426.5 104.8,427.0 103.8,427.5 102.8,427.9 101.8,428.3 100.8,428.7 99.8,429.1 98.8,429.4 97.8,429.7 96.8,429.9 95.8,430.2 95.5,430.3 94.8,430.5 93.8,430.7 92.8,431.0 91.8,431.2 90.8,431.5 89.8,431.7 88.8,431.9 87.8,432.2 86.8,432.4 85.8,432.6 84.8,432.7 83.8,432.9 82.8,433.0 81.8,433.2 80.8,433.3 79.8,433.4" fill="#1512e6" stroke="#1512e6" stroke-width="2.4" stroke-linejoin="round"/>
<polygon points="79.8,509.9 80.8,509.7 81.8,509.5 82.8,509.3 83.8,509.0 84.8,508.8 85.8,508.6 86.8,508.3 87.8,508.0 88.8,507.7 89.8,507.4 90.8,507.1 91.8,506.8 92.8,506.5 93.8,506.2 94.8,505.8 95.5,505.6 95.8,505.5 96.8,505.2 97.8,504.9 98.8,504.6 99.8,504.4 100.8,504.1 101.8,503.8 102.8,503.5 103.8,503.1 104.8,502.7 105.8,502.3 106.4,502.0 106.8,501.8 107.8,501.0 108.8,500.0 109.8,498.8 110.8,497.7 111.8,496.6 111.9,496.5 112.8,495.6 113.8,494.6 114.8,494.2 114.9,494.2 115.8,494.4 116.8,495.0 117.8,495.9 118.8,497.0 119.8,498.0 120.1,498.2 120.8,498.9 121.8,499.8 122.8,500.8 123.8,501.8 124.8,502.7 125.8,503.5 126.8,504.2 126.9,504.3 127.8,504.8 128.8,505.4 129.8,506.0 130.8,506.5 131.8,507.0 132.8,507.4 133.8,507.8 134.8,508.0 135.1,508.1 135.8,508.2 136.8,508.4 137.8,508.6 138.8,508.8 139.8,508.9 140.8,509.1 141.8,509.2 142.8,509.3 143.8,509.4 144.8,509.5 145.8,509.5 146.0,509.5 146.8,509.5 147.8,509.5 148.8,509.6 149.8,509.6 150.8,509.6 151.8,509.6 152.8,509.6 153.8,509.7 154.8,509.7 155.8,509.7 156.8,509.7 157.8,509.7 158.8,509.7 159.7,509.7 159.8,509.7 160.8,509.6 161.8,509.5 162.8,509.3 163.8,509.0 164.8,508.7 165.8,508.4 166.8,508.1 167.8,507.8 168.8,507.5 169.8,507.2 170.0,507.2 170.8,507.0 171.8,506.8 172.8,506.5 173.8,506.3 174.8,506.0 175.8,505.8 176.8,505.6 177.8,505.4 178.8,505.2 179.8,505.1 180.8,505.0 181.6,505.0 181.8,505.0 182.8,505.1 183.8,505.2 184.8,505.5 185.8,505.7 186.8,506.0 187.8,506.3 188.8,506.6 189.8,506.9 190.8,507.2 191.0,507.2 191.8,507.4 192.8,507.6 193.8,507.8 194.8,508.0 195.8,508.2 196.8,508.3 197.8,508.4 198.0,508.4 198.8,508.4 199.8,508.5 200.8,508.5 201.8,508.6 202.8,508.6 203.8,508.6 204.8,508.6 205.8,508.7 206.8,508.7 207.8,508.7 208.8,508.7 209.8,508.7 210.0,508.7 210.8,508.7 211.8,508.6 212.8,508.6 213.8,508.5 214.8,508.4 215.8,508.3 216.8,508.2 217.8,508.1 218.8,508.1 219.8,508.0 220.8,508.0 220.9,508.0 221.8,508.0 222.8,508.2 223.8,508.4 224.8,508.6 225.8,509.0 226.8,509.3 227.8,509.6 228.8,509.9 229.8,510.2 230.0,510.2 230.8,510.4 231.8,510.7 232.8,510.9 233.8,511.2 234.8,511.5 235.8,511.7 236.8,512.0 237.8,512.1 238.8,512.2 239.8,512.3 239.9,512.3 240.8,512.2 241.8,511.9 242.8,511.5 243.8,510.9 244.8,510.3 245.8,509.7 246.8,509.1 247.8,508.7 248.0,508.6 248.8,508.3 249.8,507.9 250.8,507.4 251.8,507.0 252.8,506.6 253.8,506.2 254.8,505.8 255.8,505.5 256.8,505.3 257.6,505.2 257.8,505.2 258.8,505.2 259.8,505.1 260.8,505.1 261.8,505.0 262.8,505.0 263.8,505.0 264.8,505.1 265.8,505.1 266.8,505.2 267.8,505.3 268.8,505.4 269.8,505.5 270.8,505.6 271.8,505.8 272.8,505.9 273.8,506.1 274.8,506.3 275.8,506.4 276.8,506.6 277.8,506.8 278.8,506.9 279.8,507.1 280.8,507.2 281.8,507.4 282.8,507.5 283.8,507.6 284.8,507.7 285.8,507.8 286.8,507.9 287.8,507.9 288.8,508.0 289.8,508.0 290.6,508.0 290.8,508.0 291.8,508.0 292.8,508.0 293.8,508.0 294.8,508.0 295.8,508.0 296.8,507.9 297.8,507.9 298.8,507.9 299.8,507.9 300.8,507.9 301.8,507.8 302.8,507.8 303.8,507.8 304.8,507.8 305.8,507.8 306.8,507.7 307.8,507.7 308.8,507.7 309.8,507.7 310.8,507.7 311.8,507.7 312.0,507.7 312.8,507.7 313.8,507.8 314.8,507.9 315.8,508.0 316.8,508.2 317.8,508.3 318.8,508.4 319.8,508.4 320.0,508.4 320.8,508.4 321.8,508.4 322.8,508.4 323.8,508.3 324.8,508.3 325.8,508.3 326.8,508.2 327.8,508.2 328.8,508.1 329.8,508.0 330.8,507.9 331.8,507.8 332.8,507.7 333.8,507.5 334.8,507.4 335.8,507.2 336.8,507.1 337.8,506.9 338.8,506.7 339.8,506.5 340.8,506.3 341.8,506.1 342.7,505.8 342.8,505.8 343.8,505.5 344.8,504.9 345.8,504.2 346.8,503.4 347.8,502.5 348.8,501.5 349.8,500.5 350.8,499.6 351.8,498.7 352.8,497.9 353.0,497.8 353.8,497.2 354.8,496.4 355.8,495.6 356.8,494.8 357.8,494.0 358.8,493.2 359.8,492.5 360.8,492.0 361.8,491.5 362.8,491.2 363.8,491.0 364.0,491.0 364.8,491.0 365.8,491.1 366.8,491.3 367.8,491.5 368.8,491.9 369.8,492.3 370.8,492.7 371.8,493.2 372.8,493.7 373.8,494.2 374.8,494.8 375.8,495.4 376.8,495.9 377.8,496.5 378.8,497.0 379.8,497.5 380.8,498.0 381.8,498.4 382.5,498.6 382.8,498.8 383.8,499.1 384.8,499.5 385.8,499.9 386.8,500.2 387.8,500.6 388.8,500.9 389.8,501.3 390.8,501.6 391.8,501.9 392.8,502.2 393.8,502.5 394.8,502.7 395.8,502.9 396.8,503.1 397.8,503.3 398.8,503.4 399.8,503.5 400.8,503.5 400.9,503.5 401.8,503.4 402.8,503.4 403.8,503.2 404.8,503.1 405.8,502.9 406.8,502.7 407.8,502.5 408.0,502.5 408.8,502.3 409.8,502.0 410.8,501.7 411.8,501.4 412.8,501.0 413.7,500.5 413.8,500.5 414.8,499.9 415.8,499.3 416.8,498.5 417.8,497.7 418.8,496.7 419.8,495.5 420.1,495.1 420.4,494.8 420.6,494.4 420.8,494.1 420.9,494.0 421.1,493.6 421.4,493.2 421.6,492.7 421.8,492.3 421.9,492.2 422.1,491.7 422.4,491.2 422.6,490.6 422.8,490.1 422.9,490.0 423.1,489.3 423.4,488.7 423.6,487.9 423.8,487.3 423.9,487.1 424.1,486.3 424.4,485.4 424.6,484.4 424.8,483.6 424.9,483.4 425.1,482.3 425.4,481.1 425.6,479.9 425.8,478.8 425.9,478.5 426.1,477.1 426.4,475.5 426.6,473.8 426.8,472.4 426.9,472.0 427.1,470.0 427.4,468.0 427.6,465.7 427.8,463.8 427.9,463.3 428.1,460.8 428.4,458.1 428.6,455.2 428.8,452.7 428.9,452.1 429.1,448.9 429.4,445.6 429.6,442.1 429.8,439.3 429.9,438.6 430.1,435.0 430.4,431.5 430.6,428.0 430.8,425.3 430.9,424.7 431.1,421.6 431.4,419.1 431.6,417.0 431.8,416.0 431.9,415.8 432.1,415.4 432.4,415.9 432.6,417.2 432.8,418.9 432.9,419.3 433.1,422.0 433.4,425.1 433.6,428.5 433.8,431.4 433.9,432.1 434.1,435.8 434.4,439.4 434.6,443.1 434.8,445.9 434.9,446.6 435.1,450.1 435.4,453.4 435.6,456.5 435.8,458.9 435.9,459.5 436.1,462.3 436.4,465.0 436.6,467.5 436.8,469.4 436.9,469.9 437.1,472.1 437.4,474.1 437.6,476.1 437.8,477.5 437.9,477.9 438.1,479.6 438.4,481.2 438.6,482.7 438.8,483.8 438.9,484.1 439.1,485.4 439.4,486.6 439.6,487.8 439.8,488.6 439.9,488.8 440.1,489.9 440.4,490.8 440.6,491.8 440.8,492.5 440.9,492.6 441.1,493.5 441.4,494.2 441.6,495.0 441.8,495.6 441.9,495.7 442.1,496.4 442.4,497.0 442.6,497.6 442.8,498.1 442.9,498.2 443.1,498.8 443.4,499.3 443.6,499.8 443.8,500.2 443.9,500.3 444.8,502.0 445.8,503.5 446.8,504.7 447.8,505.8 448.8,506.6 449.8,507.3 450.8,507.8 451.8,508.2 452.8,508.5 453.8,508.7 454.8,508.9 455.8,509.0 456.3,509.0 456.8,509.1 457.8,509.2 458.8,509.3 459.8,509.3 460.8,509.4 461.8,509.5 462.8,509.6 463.8,509.7 464.8,509.7 465.8,509.8 466.8,509.8 467.8,509.9 468.8,509.9 469.8,509.9 470.8,509.9 471.8,509.9 472.0,509.9 472.8,509.9 473.8,509.8 474.8,509.8 475.8,509.8 476.8,509.7 477.8,509.7 478.8,509.7 479.8,509.6 480.8,509.6 481.8,509.5 482.8,509.5 483.8,509.5 484.8,509.4 485.8,509.4 486.8,509.3 487.8,509.3 488.8,509.3 489.8,509.2 490.4,509.2 490.8,509.2 491.8,509.1 492.8,509.1 493.8,509.0 494.8,508.8 495.8,508.7 496.8,508.5 497.8,508.4 498.8,508.2 499.8,508.0 500.8,507.8 501.8,507.6 502.8,507.4 503.8,507.3 504.8,507.1 505.8,506.9 506.8,506.7 507.8,506.6 508.0,506.6 508.8,506.5 509.8,506.3 510.8,506.2 511.8,506.1 512.8,506.0 513.8,505.9 514.8,505.9 515.8,505.8 516.8,505.6 517.8,505.5 518.8,505.4 519.8,505.2 520.8,505.1 521.8,504.8 522.8,504.6 523.8,504.3 524.5,504.1 524.8,504.0 525.8,503.4 526.8,502.4 527.8,501.2 528.8,499.9 529.8,498.7 530.8,497.7 531.0,497.5 531.8,496.8 532.8,495.9 533.8,495.0 534.8,494.2 535.8,493.5 536.8,493.2 537.3,493.2 537.8,493.2 538.8,493.5 539.8,493.9 540.8,494.5 541.8,495.1 542.8,495.8 543.8,496.4 544.8,497.0 545.8,497.4 546.8,497.6 547.2,497.6 547.8,497.6 548.8,497.6 549.8,497.6 550.8,497.6 551.8,497.6 552.8,497.6 553.8,497.6 554.0,497.6 554.8,497.5 555.8,497.4 556.8,497.3 557.8,497.1 558.8,497.0 559.8,496.9 560.3,496.9 560.8,496.9 561.8,497.2 562.8,497.7 563.8,498.3 564.8,499.0 565.8,499.8 566.8,500.5 567.8,501.1 568.8,501.6 569.8,501.9 570.4,501.9 570.8,501.9 571.8,501.7 572.8,501.4 573.8,501.0 574.8,500.5 575.8,499.9 576.8,499.4 577.8,499.0 578.0,498.9 578.8,498.6 579.8,498.2 580.8,497.8 581.8,497.3 582.8,497.0 583.8,496.7 584.8,496.5 585.7,496.4 585.8,496.4 586.8,496.6 587.8,496.9 588.8,497.3 589.8,497.9 590.8,498.4 591.8,498.8 592.0,498.9 592.8,499.3 593.8,499.7 594.8,500.2 595.8,500.6 596.8,501.0 597.8,501.2 598.3,501.2 598.8,501.2 599.8,501.2 600.8,501.1 601.8,501.1 602.8,501.0 603.8,500.8 604.8,500.7 605.8,500.6 606.8,500.4 607.8,500.2 608.8,500.1 609.8,499.9 610.8,499.7 611.8,499.5 612.8,499.3 613.8,499.2 614.8,499.0 615.8,498.8 616.8,498.7 617.8,498.5 618.8,498.4 619.8,498.3 620.8,498.2 621.8,498.2 622.8,498.1 623.7,498.1 623.8,498.1 624.8,498.1 625.8,498.2 626.8,498.3 627.8,498.5 628.8,498.7 629.8,498.9 630.8,499.1 631.8,499.3 632.8,499.6 633.8,499.9 634.8,500.2 635.8,500.5 636.8,500.7 637.8,501.0 638.8,501.3 639.8,501.5 640.8,501.7 641.8,501.9 642.8,502.1 643.8,502.2 644.8,502.3 645.8,502.4 646.5,502.4 646.8,502.4 647.8,502.4 648.8,502.4 649.8,502.4 650.8,502.4 651.8,502.4 652.8,502.4 653.8,502.4 654.8,502.4 655.8,502.4 656.8,502.4 657.8,502.4 658.8,502.4 659.8,502.4 660.8,502.4 661.8,502.4 662.8,502.4 663.8,502.4 664.8,502.4 665.8,502.4 666.8,502.4 667.8,502.4 668.0,502.4 668.8,502.4 669.8,502.4 670.8,502.4 671.8,502.4 672.8,502.3 673.8,502.3 674.8,502.3 675.8,502.2 676.8,502.2 677.8,502.2 678.8,502.1 679.8,502.1 680.8,502.1 681.8,502.0 682.8,502.0 683.8,502.0 684.8,502.0 685.8,501.9 686.8,501.9 687.8,501.9 688.8,501.9 689.7,501.9 689.8,501.9 690.8,501.9 691.8,502.1 692.8,502.3 693.8,502.6 694.8,503.0 695.8,503.3 696.8,503.7 697.8,504.1 698.8,504.5 699.8,504.8 700.0,504.9 700.8,505.1 701.8,505.5 702.8,505.8 703.8,506.2 704.8,506.6 705.8,506.9 706.8,507.3 707.8,507.6 708.8,508.0 709.8,508.2 710.8,508.5 711.8,508.7 712.5,508.8 712.8,508.8 713.8,508.9 714.8,509.1 715.8,509.2 716.8,509.3 717.8,509.4 718.8,509.5 719.8,509.6 720.8,509.7 721.8,509.8 722.8,509.9 723.8,509.9 724.8,510.0 725.8,510.1 726.8,510.1 727.8,510.2 728.8,510.2 729.8,510.2 730.8,510.3 731.8,510.3 732.8,510.3 733.8,510.1 734.8,509.7 735.8,509.2 736.8,508.5 737.8,507.7 738.8,506.9 739.8,506.1 740.8,505.5 741.0,505.4 741.8,504.9 742.8,504.2 743.8,503.5 744.8,502.8 745.8,502.1 746.8,501.4 747.8,500.9 748.8,500.5 749.8,500.2 750.6,500.2 750.8,500.2 751.8,500.3 752.8,500.5 753.8,500.8 754.8,501.2 755.8,501.6 756.8,502.0 757.8,502.3 758.0,502.4 758.8,502.6 759.8,502.9 760.8,503.2 761.8,503.5 762.8,503.8 763.8,504.0 764.8,504.3 765.8,504.4 766.8,504.5 767.0,504.5 767.8,504.4 768.8,504.3 769.8,504.1 770.8,503.8 771.8,503.6 772.8,503.4 773.0,503.4 773.8,503.2 774.8,503.0 775.8,502.8 776.8,502.6 777.8,502.5 778.8,502.4 779.7,502.4 779.8,502.4 780.8,502.4 781.8,502.7 782.8,503.0 783.8,503.4 784.8,503.9 785.8,504.4 786.8,504.9 787.8,505.4 788.8,505.9 789.8,506.3 790.0,506.4 790.8,506.6 791.8,507.0 792.8,507.4 793.8,507.8 794.8,508.2 795.8,508.6 796.8,509.0 797.8,509.4 798.8,509.7 799.8,510.0 800.8,510.2 801.8,510.3 802.8,510.4 803.4,510.4 803.8,510.4 804.8,510.4 805.8,510.3 806.8,510.2 807.8,510.1 808.8,509.9 809.8,509.7 810.8,509.5 811.8,509.3 812.8,509.1 813.8,508.9 814.8,508.7 815.8,508.5 816.8,508.4 817.8,508.2 818.8,508.1 819.8,508.0 820.8,508.0 821.8,507.9 822.8,507.9 823.8,507.8 824.8,507.8 825.8,507.8 826.8,507.7 827.8,507.7 828.8,507.7 829.8,507.7 830.8,507.6 831.8,507.6 832.8,507.6 833.8,507.6 834.8,507.6 835.8,507.5 836.8,507.5 837.8,507.5 838.8,507.5 839.8,507.4 840.8,507.4 841.8,507.3 842.8,507.3 843.8,507.2 844.8,507.2 845.6,507.1 845.8,507.1 846.8,507.0 847.8,506.9 848.8,506.7 849.8,506.5 850.8,506.3 851.8,506.0 852.8,505.7 853.8,505.4 854.8,505.1 855.8,504.8 856.8,504.4 857.8,504.1 858.8,503.7 859.8,503.3 860.8,503.0 861.8,502.6 862.8,502.2 863.8,501.9 864.3,501.7 864.8,501.6 865.8,501.2 866.8,500.9 867.8,500.6 868.8,500.2 869.8,499.9 870.8,499.6 871.8,499.2 872.8,498.8 873.8,498.5 874.8,498.1 875.8,497.7 876.8,497.3 877.8,496.8 878.8,496.3 879.8,495.8 880.8,495.3 881.8,494.7 882.8,494.1 883.0,494.0 883.8,493.4 884.8,492.5 885.8,491.4 886.8,490.5 887.0,490.3 887.8,489.6 888.8,488.7 889.8,487.9 890.8,487.3 891.8,487.0 891.9,487.0 892.8,487.2 893.8,487.8 894.8,488.7 895.8,489.5 896.8,490.2 897.0,490.3 897.8,490.7 898.8,491.2 899.8,491.6 900.8,492.0 901.8,492.4 902.8,492.6 903.8,492.8 904.1,492.8 904.8,492.8 905.8,492.9 906.8,492.9 907.8,492.9 908.8,493.0 909.8,493.0 910.8,493.0 911.8,493.0 912.8,493.0 913.8,493.1 914.8,493.1 915.8,493.1 916.8,493.1 917.8,493.1 918.8,493.1 919.8,493.1 920.5,493.1 920.8,493.1 921.8,492.8 922.8,492.2 923.8,491.4 924.8,490.6 925.8,489.7 926.8,488.9 927.0,488.8 927.8,488.2 928.8,487.4 929.8,486.6 930.8,485.9 931.8,485.5 932.7,485.3 932.8,485.3 933.8,485.7 934.8,486.7 935.8,488.0 936.8,489.3 937.8,490.6 938.0,490.8 938.8,491.7 939.8,492.8 940.8,494.1 941.8,495.2 942.8,496.2 943.8,497.1 943.9,497.1 944.8,497.7 945.8,498.3 946.8,498.9 947.8,499.4 948.8,499.9 949.8,500.3 950.8,500.7 951.8,501.1 952.8,501.5 953.8,501.9 954.8,502.3 955.8,502.7 956.8,503.1 957.8,503.4 958.0,503.5 958.8,503.9 959.8,504.3 960.8,504.7 961.8,505.1 962.8,505.6 963.8,506.0 964.8,506.4 965.8,506.9 966.8,507.3 967.8,507.7 968.8,508.1 969.8,508.4 970.8,508.7 971.8,509.0 972.8,509.3 973.8,509.4 974.8,509.6 975.8,509.7 976.7,509.7 976.8,509.7 977.8,509.7 978.8,509.7 979.8,509.7 980.8,509.7 981.8,509.7 982.8,509.7 983.8,509.6 984.8,509.6 985.8,509.6 986.8,509.6 987.8,509.6 988.8,509.5 989.8,509.5 990.7,509.5 990.8,509.5 991.8,509.4 992.8,509.2 993.8,509.1 994.8,508.9 995.8,508.7 996.8,508.5 997.8,508.2 998.8,508.0 999.8,507.7 1000.8,507.4 1001.8,507.1 1002.8,506.8 1003.8,506.5 1004.8,506.2 1005.8,505.8 1005.9,505.8 1005.9,508.4 1005.8,508.4 1004.8,508.6 1003.8,508.9 1002.8,509.1 1001.8,509.3 1000.8,509.5 999.8,509.7 998.8,509.9 997.8,510.0 996.8,510.2 995.8,510.3 994.8,510.4 993.8,510.5 992.8,510.5 991.8,510.5 990.8,510.5 990.7,510.5 989.8,510.5 988.8,510.5 987.8,510.6 986.8,510.6 985.8,510.6 984.8,510.6 983.8,510.6 982.8,510.7 981.8,510.7 980.8,510.7 979.8,510.7 978.8,510.7 977.8,510.7 976.8,510.7 976.7,510.7 975.8,510.7 974.8,510.6 973.8,510.4 972.8,510.3 971.8,510.0 970.8,509.7 969.8,509.4 968.8,509.1 967.8,508.7 966.8,508.3 965.8,507.9 964.8,507.4 963.8,507.0 962.8,506.6 961.8,506.1 960.8,505.7 959.8,505.3 958.8,504.9 958.0,504.7 957.8,504.6 956.8,504.3 955.8,504.0 954.8,503.7 953.8,503.4 952.8,503.0 951.8,502.7 950.8,502.4 949.8,502.0 948.8,501.7 947.8,501.2 946.8,500.8 945.8,500.3 944.8,499.8 943.9,499.3 943.8,499.2 942.8,498.4 941.8,497.5 940.8,496.4 939.8,495.2 938.8,494.1 938.0,493.2 937.8,493.0 936.8,491.7 935.8,490.4 934.8,489.1 933.8,488.1 932.8,487.7 932.7,487.7 931.8,487.9 930.8,488.3 929.8,489.0 928.8,489.8 927.8,490.6 927.0,491.2 926.8,491.3 925.8,492.1 924.8,493.0 923.8,493.8 922.8,494.6 921.8,495.2 920.8,495.5 920.5,495.5 919.8,495.5 918.8,495.5 917.8,495.5 916.8,495.5 915.8,495.5 914.8,495.5 913.8,495.4 912.8,495.4 911.8,495.4 910.8,495.4 909.8,495.4 908.8,495.3 907.8,495.3 906.8,495.3 905.8,495.3 904.8,495.2 904.1,495.2 903.8,495.2 902.8,495.0 901.8,494.8 900.8,494.4 899.8,494.0 898.8,493.5 897.8,493.1 897.0,492.7 896.8,492.6 895.8,491.9 894.8,491.0 893.8,490.2 892.8,489.6 891.9,489.4 891.8,489.4 890.8,489.7 889.8,490.3 888.8,491.1 887.8,492.0 887.0,492.7 886.8,492.8 885.8,493.8 884.8,494.8 883.8,495.8 883.0,496.4 882.8,496.5 881.8,497.1 880.8,497.7 879.8,498.2 878.8,498.7 877.8,499.2 876.8,499.6 875.8,500.0 874.8,500.4 873.8,500.8 872.8,501.2 871.8,501.6 870.8,501.9 869.8,502.2 868.8,502.6 867.8,502.9 866.8,503.2 865.8,503.6 864.8,503.9 864.3,504.1 863.8,504.2 862.8,504.6 861.8,505.0 860.8,505.3 859.8,505.7 858.8,506.1 857.8,506.4 856.8,506.8 855.8,507.1 854.8,507.5 853.8,507.8 852.8,508.1 851.8,508.4 850.8,508.6 849.8,508.9 848.8,509.1 847.8,509.2 846.8,509.4 845.8,509.5 845.6,509.5 844.8,509.5 843.8,509.6 842.8,509.6 841.8,509.7 840.8,509.7 839.8,509.7 838.8,509.8 837.8,509.8 836.8,509.8 835.8,509.9 834.8,509.9 833.8,509.9 832.8,509.9 831.8,510.0 830.8,510.0 829.8,510.0 828.8,510.0 827.8,510.0 826.8,510.1 825.8,510.1 824.8,510.1 823.8,510.2 822.8,510.2 821.8,510.3 820.8,510.3 819.8,510.4 818.8,510.4 817.8,510.5 816.8,510.7 815.8,510.9 814.8,511.0 813.8,511.2 812.8,511.4 811.8,511.6 810.8,511.8 809.8,512.0 808.8,512.2 807.8,512.4 806.8,512.5 805.8,512.6 804.8,512.7 803.8,512.8 803.4,512.8 802.8,512.7 801.8,512.6 800.8,512.5 799.8,512.3 798.8,512.0 797.8,511.7 796.8,511.3 795.8,510.9 794.8,510.5 793.8,510.1 792.8,509.7 791.8,509.3 790.8,508.9 790.0,508.6 789.8,508.6 788.8,508.2 787.8,507.7 786.8,507.2 785.8,506.7 784.8,506.2 783.8,505.7 782.8,505.3 781.8,505.0 780.8,504.7 779.8,504.6 779.7,504.6 778.8,504.7 777.8,504.8 776.8,504.9 775.8,505.1 774.8,505.3 773.8,505.5 773.0,505.6 772.8,505.7 771.8,505.9 770.8,506.1 769.8,506.4 768.8,506.6 767.8,506.7 767.0,506.7 766.8,506.7 765.8,506.7 764.8,506.5 763.8,506.3 762.8,506.1 761.8,505.8 760.8,505.5 759.8,505.2 758.8,504.9 758.0,504.6 757.8,504.6 756.8,504.3 755.8,503.9 754.8,503.5 753.8,503.1 752.8,502.8 751.8,502.5 750.8,502.4 750.6,502.4 749.8,502.5 748.8,502.8 747.8,503.2 746.8,503.7 745.8,504.4 744.8,505.0 743.8,505.8 742.8,506.5 741.8,507.1 741.0,507.6 740.8,507.7 739.8,508.4 738.8,509.2 737.8,510.0 736.8,510.7 735.8,511.4 734.8,512.0 733.8,512.4 732.8,512.5 731.8,512.5 730.8,512.5 729.8,512.5 728.8,512.5 727.8,512.4 726.8,512.4 725.8,512.3 724.8,512.3 723.8,512.2 722.8,512.1 721.8,512.0 720.8,511.9 719.8,511.8 718.8,511.7 717.8,511.6 716.8,511.5 715.8,511.4 714.8,511.3 713.8,511.2 712.8,511.1 712.5,511.0 711.8,510.9 710.8,510.7 709.8,510.5 708.8,510.2 707.8,509.9 706.8,509.5 705.8,509.2 704.8,508.8 703.8,508.4 702.8,508.1 701.8,507.7 700.8,507.4 700.0,507.1 699.8,507.1 698.8,506.7 697.8,506.4 696.8,506.0 695.8,505.6 694.8,505.2 693.8,504.9 692.8,504.6 691.8,504.3 690.8,504.2 689.8,504.1 689.7,504.1 688.8,504.1 687.8,504.1 686.8,504.1 685.8,504.2 684.8,504.2 683.8,504.2 682.8,504.2 681.8,504.3 680.8,504.3 679.8,504.3 678.8,504.4 677.8,504.4 676.8,504.4 675.8,504.5 674.8,504.5 673.8,504.5 672.8,504.5 671.8,504.6 670.8,504.6 669.8,504.6 668.8,504.6 668.0,504.6 667.8,504.6 666.8,504.6 665.8,504.6 664.8,504.6 663.8,504.6 662.8,504.6 661.8,504.6 660.8,504.6 659.8,504.6 658.8,504.6 657.8,504.6 656.8,504.6 655.8,504.6 654.8,504.6 653.8,504.6 652.8,504.6 651.8,504.6 650.8,504.6 649.8,504.6 648.8,504.6 647.8,504.6 646.8,504.6 646.5,504.6 645.8,504.6 644.8,504.5 643.8,504.4 642.8,504.3 641.8,504.1 640.8,503.9 639.8,503.7 638.8,503.5 637.8,503.2 636.8,502.9 635.8,502.6 634.8,502.4 633.8,502.1 632.8,501.8 631.8,501.5 630.8,501.3 629.8,501.1 628.8,500.8 627.8,500.7 626.8,500.5 625.8,500.4 624.8,500.3 623.8,500.3 623.7,500.3 622.8,500.3 621.8,500.3 620.8,500.4 619.8,500.5 618.8,500.6 617.8,500.7 616.8,500.9 615.8,501.0 614.8,501.2 613.8,501.3 612.8,501.5 611.8,501.7 610.8,501.9 609.8,502.1 608.8,502.2 607.8,502.4 606.8,502.6 605.8,502.7 604.8,502.9 603.8,503.0 602.8,503.1 601.8,503.2 600.8,503.3 599.8,503.4 598.8,503.4 598.3,503.4 597.8,503.4 596.8,503.2 595.8,502.8 594.8,502.4 593.8,501.9 592.8,501.4 592.0,501.1 591.8,501.0 590.8,500.5 589.8,500.0 588.8,499.5 587.8,499.1 586.8,498.7 585.8,498.6 585.7,498.6 584.8,498.6 583.8,498.8 582.8,499.1 581.8,499.5 580.8,499.9 579.8,500.4 578.8,500.8 578.0,501.1 577.8,501.2 576.8,501.6 575.8,502.1 574.8,502.6 573.8,503.1 572.8,503.6 571.8,503.9 570.8,504.1 570.4,504.1 569.8,504.0 568.8,503.7 567.8,503.3 566.8,502.6 565.8,501.9 564.8,501.2 563.8,500.5 562.8,499.8 561.8,499.4 560.8,499.1 560.3,499.1 559.8,499.1 558.8,499.2 557.8,499.3 556.8,499.5 555.8,499.6 554.8,499.7 554.0,499.8 553.8,499.8 552.8,499.8 551.8,499.9 550.8,499.9 549.8,499.9 548.8,499.9 547.8,499.9 547.2,499.9 546.8,499.9 545.8,499.7 544.8,499.3 543.8,498.8 542.8,498.2 541.8,497.5 540.8,496.9 539.8,496.4 538.8,496.0 537.8,495.8 537.3,495.7 536.8,495.8 535.8,496.2 534.8,496.8 533.8,497.7 532.8,498.6 531.8,499.6 531.0,500.4 530.8,500.5 529.8,501.6 528.8,502.9 527.8,504.2 526.8,505.5 525.8,506.6 524.8,507.3 524.5,507.4 523.8,507.7 522.8,508.0 521.8,508.3 520.8,508.6 519.8,508.9 518.8,509.1 517.8,509.3 516.8,509.5 515.8,509.7 514.8,509.9 513.8,510.0 512.8,510.2 511.8,510.3 510.8,510.5 509.8,510.7 508.8,510.8 508.0,511.0 507.8,511.0 506.8,511.2 505.8,511.4 504.8,511.6 503.8,511.8 502.8,512.0 501.8,512.2 500.8,512.4 499.8,512.6 498.8,512.8 497.8,513.0 496.8,513.1 495.8,513.2 494.8,513.3 493.8,513.4 492.8,513.5 491.8,513.5 490.8,513.5 490.4,513.5 489.8,513.5 488.8,513.5 487.8,513.5 486.8,513.4 485.8,513.4 484.8,513.4 483.8,513.4 482.8,513.3 481.8,513.3 480.8,513.2 479.8,513.2 478.8,513.2 477.8,513.1 476.8,513.1 475.8,513.1 474.8,513.0 473.8,513.0 472.8,512.9 472.0,512.9 471.8,512.9 470.8,512.9 469.8,512.8 468.8,512.7 467.8,512.6 466.8,512.6 465.8,512.5 464.8,512.3 463.8,512.2 462.8,512.1 461.8,512.0 460.8,511.9 459.8,511.8 458.8,511.6 457.8,511.5 456.8,511.4 456.3,511.3 455.8,511.3 454.8,511.1 453.8,510.9 452.8,510.7 451.8,510.4 450.8,510.0 449.8,509.5 448.8,508.8 447.8,508.0 446.8,507.0 445.8,505.7 444.8,504.3 443.9,502.6 443.8,502.5 443.6,502.1 443.4,501.6 443.1,501.1 442.9,500.6 442.8,500.5 442.6,500.0 442.4,499.4 442.1,498.8 441.9,498.1 441.8,498.0 441.6,497.4 441.4,496.7 441.1,495.9 440.9,495.1 440.8,495.0 440.6,494.3 440.4,493.4 440.1,492.5 439.9,491.5 439.8,491.3 439.6,490.4 439.4,489.3 439.1,488.1 438.9,486.8 438.8,486.6 438.6,485.5 438.4,484.1 438.1,482.5 437.9,480.9 437.8,480.6 437.6,479.2 437.4,477.4 437.1,475.4 436.9,473.3 436.8,472.9 436.6,471.1 436.4,468.7 436.1,466.2 435.9,463.6 435.8,463.1 435.6,460.8 435.4,458.0 435.1,455.0 434.9,451.9 434.8,451.3 434.6,448.8 434.4,445.6 434.1,442.5 433.9,439.5 433.8,439.0 433.6,436.7 433.4,434.1 433.1,431.9 432.9,430.0 432.8,429.7 432.6,428.6 432.4,427.8 432.1,427.4 431.9,427.7 431.8,427.8 431.6,428.5 431.4,429.8 431.1,431.5 430.9,433.7 430.8,434.2 430.6,436.2 430.4,438.9 430.1,441.8 429.9,444.8 429.8,445.4 429.6,447.8 429.4,450.9 429.1,453.8 428.9,456.7 428.8,457.3 428.6,459.5 428.4,462.1 428.1,464.7 427.9,467.0 427.8,467.5 427.6,469.3 427.4,471.4 427.1,473.4 426.9,475.2 426.8,475.5 426.6,476.9 426.4,478.5 426.1,480.0 425.9,481.4 425.8,481.7 425.6,482.7 425.4,483.9 425.1,485.0 424.9,486.1 424.8,486.3 424.6,487.1 424.4,488.0 424.1,488.9 423.9,489.7 423.8,489.8 423.6,490.4 423.4,491.1 423.1,491.8 422.9,492.4 422.8,492.6 422.6,493.0 422.4,493.6 422.1,494.1 421.9,494.6 421.8,494.7 421.6,495.1 421.4,495.5 421.1,495.9 420.9,496.3 420.8,496.4 420.6,496.7 420.4,497.0 420.1,497.4 419.8,497.8 418.8,498.9 417.8,499.9 416.8,500.7 415.8,501.4 414.8,502.0 413.8,502.6 413.7,502.6 412.8,503.0 411.8,503.5 410.8,503.8 409.8,504.1 408.8,504.4 408.0,504.5 407.8,504.6 406.8,504.7 405.8,504.9 404.8,505.1 403.8,505.3 402.8,505.4 401.8,505.5 400.9,505.5 400.8,505.5 399.8,505.5 398.8,505.4 397.8,505.3 396.8,505.2 395.8,505.0 394.8,504.8 393.8,504.6 392.8,504.3 391.8,504.0 390.8,503.8 389.8,503.5 388.8,503.2 387.8,502.9 386.8,502.6 385.8,502.3 384.8,502.0 383.8,501.7 382.8,501.5 382.5,501.4 381.8,501.3 380.8,501.0 379.8,500.7 378.8,500.4 377.8,500.0 376.8,499.7 375.8,499.3 374.8,499.0 373.8,498.6 372.8,498.3 371.8,498.0 370.8,497.7 369.8,497.4 368.8,497.1 367.8,496.9 366.8,496.7 365.8,496.6 364.8,496.5 364.0,496.5 363.8,496.5 362.8,496.6 361.8,496.8 360.8,497.2 359.8,497.6 358.8,498.1 357.8,498.7 356.8,499.3 355.8,499.9 354.8,500.5 353.8,501.1 353.0,501.5 352.8,501.6 351.8,502.2 350.8,502.9 349.8,503.6 348.8,504.4 347.8,505.1 346.8,505.8 345.8,506.5 344.8,507.0 343.8,507.4 342.8,507.6 342.7,507.6 341.8,507.7 340.8,507.8 339.8,507.9 338.8,508.0 337.8,508.1 336.8,508.2 335.8,508.3 334.8,508.4 333.8,508.4 332.8,508.5 331.8,508.5 330.8,508.6 329.8,508.6 328.8,508.7 327.8,508.8 326.8,508.8 325.8,508.9 324.8,508.9 323.8,508.9 322.8,509.0 321.8,509.0 320.8,509.0 320.0,509.0 319.8,509.0 318.8,509.0 317.8,508.9 316.8,508.8 315.8,508.6 314.8,508.5 313.8,508.4 312.8,508.3 312.0,508.3 311.8,508.3 310.8,508.3 309.8,508.3 308.8,508.3 307.8,508.3 306.8,508.3 305.8,508.4 304.8,508.4 303.8,508.4 302.8,508.4 301.8,508.4 300.8,508.5 299.8,508.5 298.8,508.5 297.8,508.5 296.8,508.5 295.8,508.6 294.8,508.6 293.8,508.6 292.8,508.6 291.8,508.6 290.8,508.6 290.6,508.6 289.8,508.6 288.8,508.6 287.8,508.5 286.8,508.5 285.8,508.4 284.8,508.4 283.8,508.3 282.8,508.2 281.8,508.1 280.8,508.0 279.8,507.9 278.8,507.8 277.8,507.7 276.8,507.7 275.8,507.6 274.8,507.5 273.8,507.4 272.8,507.3 271.8,507.3 270.8,507.2 269.8,507.2 268.8,507.1 267.8,507.1 266.8,507.1 265.8,507.0 264.8,507.0 263.8,506.9 262.8,506.9 261.8,506.8 260.8,506.8 259.8,506.8 258.8,506.7 257.8,506.7 257.6,506.7 256.8,506.7 255.8,506.8 254.8,507.0 253.8,507.3 252.8,507.6 251.8,507.9 250.8,508.3 249.8,508.7 248.8,509.0 248.0,509.3 247.8,509.4 246.8,509.8 245.8,510.4 244.8,511.0 243.8,511.6 242.8,512.1 241.8,512.5 240.8,512.8 239.9,512.9 239.8,512.9 238.8,512.9 237.8,512.7 236.8,512.6 235.8,512.3 234.8,512.1 233.8,511.8 232.8,511.5 231.8,511.3 230.8,511.0 230.0,510.8 229.8,510.8 228.8,510.5 227.8,510.2 226.8,509.9 225.8,509.6 224.8,509.2 223.8,509.0 222.8,508.8 221.8,508.6 220.9,508.6 220.8,508.6 219.8,508.6 218.8,508.7 217.8,508.7 216.8,508.8 215.8,508.9 214.8,509.0 213.8,509.1 212.8,509.2 211.8,509.2 210.8,509.3 210.0,509.3 209.8,509.3 208.8,509.3 207.8,509.3 206.8,509.3 205.8,509.3 204.8,509.2 203.8,509.2 202.8,509.2 201.8,509.2 200.8,509.1 199.8,509.1 198.8,509.0 198.0,509.0 197.8,509.0 196.8,508.9 195.8,508.8 194.8,508.6 193.8,508.4 192.8,508.2 191.8,508.0 191.0,507.8 190.8,507.8 189.8,507.5 188.8,507.2 187.8,506.9 186.8,506.6 185.8,506.3 184.8,506.1 183.8,505.8 182.8,505.7 181.8,505.6 181.6,505.6 180.8,505.6 179.8,505.7 178.8,505.8 177.8,506.0 176.8,506.2 175.8,506.4 174.8,506.6 173.8,506.9 172.8,507.1 171.8,507.4 170.8,507.6 170.0,507.8 169.8,507.8 168.8,508.1 167.8,508.4 166.8,508.7 165.8,509.0 164.8,509.3 163.8,509.6 162.8,509.9 161.8,510.1 160.8,510.2 159.8,510.3 159.7,510.3 158.8,510.3 157.8,510.3 156.8,510.3 155.8,510.3 154.8,510.3 153.8,510.3 152.8,510.2 151.8,510.2 150.8,510.2 149.8,510.2 148.8,510.2 147.8,510.1 146.8,510.1 146.0,510.1 145.8,510.1 144.8,510.1 143.8,510.0 142.8,509.9 141.8,509.8 140.8,509.7 139.8,509.5 138.8,509.4 137.8,509.2 136.8,509.0 135.8,508.8 135.1,508.7 134.8,508.6 133.8,508.4 132.8,508.0 131.8,507.6 130.8,507.1 129.8,506.6 128.8,506.0 127.8,505.4 126.9,504.9 126.8,504.8 125.8,504.2 124.8,503.4 123.8,502.5 122.8,501.6 121.8,500.8 120.8,499.9 120.1,499.4 119.8,499.2 118.8,498.4 117.8,497.6 116.8,496.8 115.8,496.3 114.9,496.2 114.8,496.2 113.8,496.7 112.8,497.6 111.9,498.5 111.8,498.5 110.8,499.5 109.8,500.6 108.8,501.6 107.8,502.6 106.8,503.4 106.4,503.7 105.8,504.0 104.8,504.5 103.8,504.9 102.8,505.3 101.8,505.6 100.8,506.0 99.8,506.3 98.8,506.5 97.8,506.8 96.8,507.0 95.8,507.3 95.5,507.3 94.8,507.5 93.8,507.7 92.8,508.0 91.8,508.2 90.8,508.4 89.8,508.6 88.8,508.8 87.8,509.0 86.8,509.2 85.8,509.4 84.8,509.6 83.8,509.8 82.8,510.0 81.8,510.2 80.8,510.4 79.8,510.5" fill="#1512e6" stroke="#1512e6" stroke-width="2.4" stroke-linejoin="round"/>
<polygon points="78.8,586.5 79.8,586.6 80.8,586.7 81.8,586.8 82.8,586.9 83.8,586.9 84.8,587.0 85.8,587.0 86.8,587.0 87.7,587.0 87.8,587.0 88.8,587.0 89.8,586.9 90.8,586.8 91.8,586.7 92.8,586.5 93.8,586.3 94.8,586.1 95.8,585.9 96.8,585.7 97.8,585.5 98.0,585.5 98.8,585.3 99.8,585.1 100.8,584.9 101.8,584.6 102.8,584.4 103.8,584.1 104.8,583.7 105.4,583.5 105.8,583.4 106.8,583.0 107.8,582.6 108.8,582.1 109.8,581.6 110.5,581.2 110.8,581.0 111.8,580.2 112.8,579.3 113.8,578.4 114.8,577.8 115.6,577.6 115.8,577.6 116.8,577.8 117.8,578.1 118.8,578.6 119.8,579.1 120.8,579.7 121.8,580.2 122.8,580.7 123.2,580.8 123.8,581.1 124.8,581.4 125.8,581.8 126.8,582.1 127.8,582.5 128.8,582.8 129.8,583.1 130.8,583.4 131.8,583.6 132.8,583.9 133.8,584.1 134.8,584.2 135.8,584.4 135.9,584.4 136.8,584.5 137.8,584.6 138.8,584.7 139.8,584.8 140.8,584.9 141.8,585.0 142.8,585.1 143.8,585.2 144.8,585.3 145.8,585.4 146.8,585.5 147.8,585.5 148.8,585.6 149.8,585.6 150.8,585.7 151.8,585.7 152.8,585.7 153.6,585.7 153.8,585.7 154.8,585.7 155.8,585.6 156.8,585.6 157.8,585.5 158.8,585.4 159.8,585.2 160.8,585.1 161.8,585.0 162.8,584.8 163.8,584.7 164.8,584.5 165.8,584.3 166.8,584.2 167.8,584.0 168.8,583.9 169.8,583.7 170.8,583.6 171.8,583.5 172.8,583.4 173.8,583.3 174.8,583.2 175.8,583.2 176.5,583.2 176.8,583.2 177.8,583.2 178.8,583.2 179.8,583.2 180.8,583.2 181.8,583.2 182.8,583.2 183.8,583.2 184.8,583.2 185.8,583.2 186.8,583.3 187.8,583.3 188.8,583.3 189.8,583.3 190.8,583.3 191.8,583.3 192.8,583.3 193.8,583.4 194.8,583.4 195.8,583.4 196.8,583.4 197.8,583.4 198.8,583.4 199.8,583.5 200.8,583.5 201.8,583.5 202.8,583.5 203.8,583.5 204.4,583.5 204.8,583.5 205.8,583.6 206.8,583.6 207.8,583.7 208.8,583.7 209.8,583.8 210.8,583.9 211.8,584.0 212.8,584.1 213.8,584.2 214.8,584.3 215.8,584.4 216.8,584.5 217.8,584.7 218.8,584.8 219.8,584.9 220.8,585.0 221.8,585.1 222.1,585.1 222.8,585.2 223.8,585.3 224.8,585.4 225.8,585.5 226.8,585.6 227.8,585.8 228.8,585.9 229.8,586.0 230.8,586.2 231.8,586.3 232.8,586.4 233.8,586.6 234.8,586.7 235.8,586.8 236.8,586.9 237.8,587.0 238.8,587.1 239.8,587.1 240.8,587.2 241.8,587.2 242.4,587.2 242.8,587.2 243.8,587.2 244.8,587.1 245.8,587.0 246.8,586.9 247.8,586.8 248.8,586.7 249.8,586.5 250.8,586.4 251.8,586.2 252.8,586.0 253.8,585.8 254.8,585.7 255.8,585.5 256.8,585.3 257.8,585.2 258.8,585.0 259.8,584.9 260.8,584.8 261.8,584.7 262.7,584.6 262.8,584.6 263.8,584.5 264.8,584.5 265.8,584.4 266.8,584.4 267.8,584.3 268.8,584.2 269.8,584.2 270.8,584.1 271.8,584.1 272.8,584.0 273.8,584.0 274.8,583.9 275.8,583.9 276.8,583.9 277.8,583.8 278.8,583.8 279.8,583.8 280.8,583.8 281.8,583.8 282.8,583.8 283.0,583.8 283.8,583.8 284.8,583.8 285.8,583.8 286.8,583.8 287.8,583.8 288.8,583.9 289.8,583.9 290.8,583.9 291.8,583.9 292.8,583.9 293.8,583.9 294.8,583.9 295.8,583.9 296.8,584.0 297.8,584.0 298.8,584.0 299.8,584.0 300.8,584.0 301.8,584.0 302.8,584.1 303.8,584.1 304.8,584.1 305.8,584.1 306.8,584.1 307.8,584.1 308.8,584.1 309.8,584.2 310.8,584.2 311.8,584.2 312.8,584.2 313.8,584.2 314.8,584.2 315.8,584.2 316.8,584.3 317.8,584.3 318.8,584.3 319.8,584.3 320.8,584.3 321.8,584.3 322.8,584.3 323.8,584.3 324.8,584.3 325.8,584.4 326.8,584.4 327.8,584.4 328.8,584.4 329.8,584.4 330.8,584.4 331.8,584.4 332.8,584.4 333.8,584.4 334.8,584.4 335.0,584.4 335.8,584.4 336.8,584.3 337.8,584.2 338.8,584.0 339.8,583.9 340.8,583.6 341.8,583.4 342.8,583.2 343.8,582.9 344.4,582.8 344.8,582.7 345.8,582.4 346.8,582.0 347.8,581.6 348.8,581.1 349.8,580.7 350.8,580.4 351.8,580.0 352.0,580.0 352.8,579.8 353.8,579.6 354.8,579.3 355.8,579.1 356.8,578.9 357.8,578.7 358.8,578.6 359.8,578.5 360.7,578.5 360.8,578.5 361.8,578.5 362.8,578.6 363.8,578.7 364.8,578.8 365.8,578.9 366.8,579.0 367.8,579.2 368.8,579.3 369.8,579.5 370.8,579.7 371.8,579.8 372.8,579.9 373.8,580.1 374.3,580.1 374.8,580.1 375.8,580.2 376.8,580.3 377.8,580.4 378.8,580.5 379.8,580.6 380.8,580.7 381.8,580.8 382.8,580.9 383.8,581.0 384.8,581.1 385.8,581.2 386.8,581.3 387.8,581.4 388.8,581.4 389.8,581.5 390.8,581.6 391.8,581.7 392.8,581.7 393.8,581.8 394.8,581.8 395.8,581.9 396.8,581.9 397.8,582.0 398.8,582.0 399.8,582.0 400.8,582.0 401.5,582.0 401.8,582.0 402.8,581.9 403.8,581.8 404.8,581.6 405.8,581.3 406.8,581.0 407.8,580.8 408.8,580.5 409.8,580.2 410.8,580.0 411.0,580.0 411.8,579.8 412.8,579.6 413.8,579.3 414.8,579.0 415.8,578.6 416.8,578.1 417.8,577.6 418.8,577.0 419.8,576.3 420.8,575.5 421.2,575.1 421.4,574.8 421.7,574.6 421.8,574.5 421.9,574.3 422.2,574.0 422.4,573.7 422.7,573.3 422.8,573.2 422.9,573.0 423.2,572.6 423.4,572.2 423.7,571.8 423.8,571.6 423.9,571.4 424.2,570.9 424.4,570.4 424.7,569.8 424.8,569.6 424.9,569.2 425.2,568.6 425.4,568.0 425.7,567.2 425.8,566.9 425.9,566.5 426.2,565.6 426.4,564.8 426.7,563.8 426.8,563.4 426.9,562.8 427.2,561.7 427.4,560.5 427.7,559.2 427.8,558.6 427.9,557.8 428.2,556.2 428.4,554.6 428.7,552.8 428.8,552.1 428.9,550.9 429.2,548.8 429.4,546.6 429.7,544.2 429.8,543.2 429.9,541.6 430.2,538.8 430.4,535.9 430.7,532.8 430.8,531.5 430.9,529.5 431.2,526.0 431.4,522.4 431.7,518.8 431.8,517.3 431.9,515.1 432.2,511.7 432.4,508.5 432.7,506.0 432.8,505.2 432.9,504.3 433.2,503.7 433.4,504.3 433.7,506.0 433.8,507.0 433.9,508.6 434.2,511.8 434.4,515.3 434.7,519.0 434.8,520.5 434.9,522.7 435.2,526.3 435.4,529.8 435.7,533.1 435.8,534.4 435.9,536.3 436.2,539.3 436.4,542.1 436.7,544.7 436.8,545.7 436.9,547.2 437.2,549.4 437.4,551.6 437.7,553.5 437.8,554.3 437.9,555.4 438.2,557.1 438.4,558.6 438.7,560.1 438.8,560.7 438.9,561.5 439.2,562.7 439.4,563.9 439.7,565.0 439.8,565.4 439.9,566.0 440.2,567.0 440.4,567.8 440.7,568.7 440.8,569.0 440.9,569.5 441.2,570.2 441.4,570.9 441.7,571.5 441.8,571.8 441.9,572.2 442.2,572.7 442.4,573.3 442.7,573.8 442.8,574.0 442.9,574.3 443.2,574.8 443.4,575.2 443.7,575.6 443.8,575.8 443.9,576.0 444.2,576.4 444.4,576.8 444.7,577.1 444.8,577.3 444.9,577.5 445.8,578.5 446.8,579.5 447.8,580.4 448.8,581.1 449.8,581.7 450.3,581.9 450.8,582.2 451.8,582.6 452.8,582.9 453.8,583.2 454.8,583.5 455.8,583.7 456.8,583.9 457.8,584.2 458.8,584.3 459.8,584.5 460.0,584.5 460.8,584.6 461.8,584.7 462.8,584.8 463.8,584.9 464.8,585.1 465.8,585.2 466.8,585.2 467.8,585.3 468.8,585.4 469.8,585.5 470.8,585.5 471.8,585.6 472.0,585.6 472.8,585.6 473.8,585.7 474.8,585.7 475.8,585.7 476.8,585.8 477.8,585.8 478.8,585.8 479.8,585.9 480.8,585.9 481.8,585.9 482.8,586.0 483.8,586.0 484.8,586.0 485.8,586.0 486.8,586.0 487.8,586.1 488.8,586.1 489.8,586.1 490.8,586.1 491.8,586.1 492.8,586.1 493.8,586.1 494.8,586.1 495.8,586.1 496.8,586.0 497.8,586.0 498.8,585.9 499.8,585.8 500.8,585.7 501.8,585.6 502.8,585.5 503.8,585.4 504.8,585.3 505.8,585.2 506.8,585.1 507.8,585.0 508.0,585.0 508.8,584.9 509.8,584.8 510.8,584.7 511.8,584.6 512.8,584.6 513.8,584.5 514.8,584.3 515.8,584.2 516.8,584.1 517.8,584.0 518.8,583.8 519.8,583.6 520.8,583.4 520.9,583.4 521.8,583.2 522.8,582.8 523.8,582.3 524.8,581.8 525.8,581.2 526.8,580.6 527.8,580.0 528.8,579.5 529.1,579.3 529.8,578.9 530.8,578.3 531.8,577.6 532.8,576.9 533.8,576.3 534.8,575.7 535.8,575.1 536.8,574.7 537.8,574.5 538.6,574.4 538.8,574.4 539.8,574.5 540.8,574.8 541.8,575.1 542.8,575.4 543.8,575.8 544.8,576.0 545.0,576.0 545.8,576.1 546.8,576.2 547.8,576.3 548.8,576.4 549.8,576.5 550.8,576.6 551.8,576.7 552.8,576.7 553.8,576.8 554.8,576.8 555.2,576.8 555.8,576.8 556.8,576.8 557.8,576.8 558.8,576.8 559.8,576.8 560.8,576.8 561.8,576.8 562.8,576.8 563.8,576.8 564.8,576.8 565.8,576.8 566.8,576.8 567.8,576.8 568.8,576.8 569.8,576.8 570.4,576.8 570.8,576.8 571.8,576.5 572.8,575.9 573.8,575.1 574.8,574.2 575.8,573.4 576.8,572.6 577.0,572.5 577.8,571.9 578.8,571.2 579.8,570.3 580.8,569.5 581.8,568.8 582.8,568.3 583.8,568.0 584.4,567.9 584.8,567.9 585.8,568.1 586.8,568.4 587.8,568.8 588.8,569.2 589.8,569.6 590.8,569.9 591.0,570.0 591.8,570.2 592.8,570.5 593.8,570.8 594.8,571.0 595.8,571.3 596.8,571.5 597.8,571.6 598.3,571.7 598.8,571.7 599.8,571.8 600.8,571.9 601.8,572.0 602.8,572.0 603.8,572.1 604.8,572.1 605.8,572.2 606.8,572.2 607.8,572.2 608.8,572.3 609.8,572.3 610.8,572.3 611.8,572.3 612.8,572.4 613.8,572.4 614.8,572.4 615.8,572.5 616.8,572.5 617.8,572.6 618.8,572.6 619.8,572.7 620.8,572.7 621.8,572.8 622.8,572.9 623.7,573.0 623.8,573.0 624.8,573.2 625.8,573.5 626.8,573.8 627.8,574.2 628.8,574.6 629.8,575.1 630.8,575.5 631.8,575.9 632.0,576.0 632.8,576.3 633.8,576.7 634.8,577.2 635.8,577.7 636.8,578.1 637.8,578.6 638.8,578.9 639.8,579.2 640.8,579.4 641.5,579.4 641.8,579.4 642.8,579.4 643.8,579.4 644.8,579.4 645.8,579.4 646.8,579.4 647.8,579.4 648.8,579.4 649.8,579.4 650.8,579.4 651.8,579.4 652.8,579.4 653.8,579.4 654.8,579.4 655.8,579.5 656.8,579.5 657.8,579.5 658.8,579.5 659.8,579.5 660.8,579.5 661.8,579.5 662.8,579.5 663.8,579.5 664.8,579.5 665.8,579.5 666.8,579.5 667.8,579.5 668.8,579.5 669.8,579.4 670.8,579.4 671.8,579.4 672.8,579.3 673.8,579.3 674.8,579.2 675.8,579.1 676.8,579.1 677.8,579.0 678.8,578.9 679.8,578.9 680.8,578.8 681.8,578.7 682.8,578.6 683.8,578.6 684.8,578.5 685.8,578.5 686.8,578.4 687.8,578.4 688.8,578.3 689.8,578.3 690.8,578.3 691.8,578.3 692.2,578.3 692.8,578.3 693.8,578.7 694.8,579.2 695.8,579.8 696.8,580.5 697.8,581.1 698.0,581.2 698.8,581.6 699.8,582.2 700.8,582.8 701.8,583.4 702.8,583.9 703.8,584.3 704.8,584.5 704.9,584.6 705.8,584.7 706.8,584.8 707.8,584.9 708.8,585.1 709.8,585.2 710.8,585.3 711.8,585.4 712.8,585.5 713.8,585.6 714.8,585.7 715.8,585.7 716.8,585.8 717.8,585.9 718.8,585.9 719.8,586.0 720.8,586.0 721.8,586.1 722.8,586.1 723.8,586.1 724.8,586.1 725.8,586.1 726.8,586.1 727.7,586.1 727.8,586.1 728.8,586.1 729.8,586.0 730.8,585.9 731.8,585.8 732.8,585.6 733.8,585.5 734.8,585.3 735.8,585.1 736.8,584.9 737.8,584.7 738.8,584.5 739.8,584.3 740.0,584.3 740.8,584.2 741.8,584.0 742.8,583.7 743.8,583.5 744.8,583.3 745.8,583.0 746.8,582.8 747.8,582.6 748.8,582.5 749.8,582.4 750.6,582.4 750.8,582.4 751.8,582.4 752.8,582.5 753.8,582.7 754.8,582.8 755.8,583.0 756.8,583.2 757.8,583.4 758.8,583.5 759.8,583.6 760.0,583.6 760.8,583.6 761.8,583.7 762.8,583.8 763.8,583.8 764.8,583.9 765.8,583.9 766.8,583.9 767.8,583.9 768.3,583.9 768.8,583.9 769.8,583.8 770.8,583.6 771.8,583.3 772.8,583.0 773.8,582.7 774.8,582.3 775.8,582.0 776.8,581.7 777.8,581.5 778.8,581.4 779.7,581.3 779.8,581.3 780.8,581.4 781.8,581.6 782.8,581.8 783.8,582.2 784.8,582.5 785.8,582.9 786.8,583.4 787.8,583.7 788.8,584.1 789.8,584.4 790.0,584.4 790.8,584.6 791.8,584.8 792.8,585.0 793.8,585.3 794.8,585.5 795.8,585.7 796.8,585.9 797.8,586.1 798.8,586.3 799.8,586.4 800.8,586.6 801.8,586.6 802.8,586.7 803.4,586.7 803.8,586.7 804.8,586.7 805.8,586.7 806.8,586.6 807.8,586.6 808.8,586.6 809.8,586.5 810.8,586.4 811.8,586.4 812.8,586.3 813.8,586.2 814.8,586.1 815.8,586.0 816.8,585.9 817.8,585.8 818.8,585.7 819.8,585.6 820.8,585.5 821.8,585.4 822.8,585.3 823.8,585.2 824.8,585.0 825.8,584.9 826.8,584.8 827.8,584.7 828.8,584.5 829.8,584.4 830.8,584.2 831.8,584.1 832.8,583.9 833.8,583.7 834.8,583.5 835.8,583.3 836.8,583.1 837.8,582.9 838.8,582.6 839.8,582.4 840.8,582.2 841.8,581.9 842.8,581.7 843.8,581.4 844.8,581.1 845.8,580.8 846.8,580.6 847.8,580.3 848.8,580.0 849.8,579.7 850.2,579.6 850.8,579.4 851.8,579.1 852.8,578.8 853.8,578.4 854.8,578.0 855.8,577.6 856.8,577.2 857.8,576.8 858.8,576.4 859.8,575.9 860.8,575.5 861.8,575.0 862.8,574.6 863.8,574.1 864.8,573.6 865.8,573.2 866.8,572.7 867.8,572.2 868.8,571.8 869.8,571.3 870.8,570.9 871.8,570.4 872.8,570.0 873.7,569.6 873.8,569.6 874.8,569.2 875.8,568.8 876.8,568.3 877.8,567.9 878.8,567.5 879.8,567.0 880.8,566.6 881.8,566.1 882.8,565.5 883.8,564.9 884.0,564.8 884.8,564.2 885.8,563.4 886.8,562.5 887.8,561.7 888.8,560.9 889.8,560.2 890.8,559.7 891.8,559.4 892.2,559.4 892.8,559.5 893.8,560.0 894.8,560.7 895.8,561.6 896.8,562.4 897.8,563.2 898.0,563.3 898.8,563.7 899.8,564.3 900.8,564.7 901.8,565.1 902.8,565.4 903.8,565.6 904.1,565.7 904.8,565.8 905.8,565.9 906.8,566.0 907.8,566.2 908.8,566.3 909.8,566.4 910.8,566.4 911.8,566.5 912.8,566.6 913.8,566.6 914.8,566.7 915.8,566.7 916.8,566.8 917.8,566.8 918.1,566.8 918.8,566.7 919.8,566.2 920.8,565.4 921.8,564.4 922.8,563.3 923.8,562.2 924.8,561.0 925.0,560.8 925.8,559.8 926.8,558.2 927.8,556.4 928.8,554.5 929.8,552.9 930.8,551.8 931.6,551.5 931.8,551.5 932.8,552.4 933.8,554.4 934.8,556.9 935.8,559.6 936.8,562.0 937.0,562.4 937.8,564.1 938.8,566.2 939.8,568.3 940.8,570.4 941.8,572.2 942.8,573.8 943.8,574.9 943.9,574.9 944.8,575.6 945.8,576.3 946.8,576.9 947.8,577.5 948.8,578.0 949.8,578.4 950.8,578.9 951.8,579.3 952.8,579.7 953.8,580.1 954.8,580.4 955.8,580.8 956.8,581.1 957.8,581.5 958.0,581.6 958.8,581.9 959.8,582.3 960.8,582.7 961.8,583.0 962.8,583.4 963.8,583.8 964.8,584.2 965.8,584.6 966.8,584.9 967.8,585.3 968.8,585.6 969.8,585.9 970.8,586.3 971.8,586.5 972.8,586.8 973.8,587.0 974.8,587.3 975.8,587.4 976.8,587.5 977.8,587.6 978.8,587.6 979.0,587.6 979.8,587.6 980.8,587.6 981.8,587.6 982.8,587.6 983.8,587.6 984.8,587.6 985.8,587.6 986.8,587.5 987.8,587.5 988.8,587.5 989.8,587.4 990.8,587.4 991.8,587.3 992.8,587.1 993.8,587.0 994.8,586.9 995.8,586.7 996.8,586.6 997.8,586.4 998.8,586.2 999.8,586.0 1000.8,585.8 1001.8,585.6 1002.8,585.3 1003.8,585.0 1004.8,584.8 1004.8,587.8 1003.8,588.0 1002.8,588.2 1001.8,588.3 1000.8,588.5 999.8,588.6 998.8,588.7 997.8,588.8 996.8,588.9 995.8,588.9 994.8,589.0 993.8,589.0 992.8,589.0 991.8,589.0 990.8,589.0 989.8,589.0 988.8,589.1 987.8,589.1 986.8,589.1 985.8,589.2 984.8,589.2 983.8,589.2 982.8,589.2 981.8,589.2 980.8,589.2 979.8,589.2 979.0,589.2 978.8,589.2 977.8,589.2 976.8,589.1 975.8,589.0 974.8,588.9 973.8,588.8 972.8,588.6 971.8,588.4 970.8,588.2 969.8,588.0 968.8,587.8 967.8,587.6 966.8,587.3 965.8,587.0 964.8,586.7 963.8,586.4 962.8,586.2 961.8,585.9 960.8,585.6 959.8,585.3 958.8,585.0 958.0,584.8 957.8,584.8 956.8,584.5 955.8,584.3 954.8,584.0 953.8,583.8 952.8,583.6 951.8,583.3 950.8,583.0 949.8,582.7 948.8,582.3 947.8,581.9 946.8,581.5 945.8,581.0 944.8,580.4 943.9,579.9 943.8,579.8 942.8,578.8 941.8,577.4 940.8,575.7 939.8,573.9 938.8,572.0 937.8,570.4 937.0,569.4 936.8,569.2 935.8,568.0 934.8,566.8 933.8,565.8 932.8,565.1 931.8,564.8 931.6,564.7 930.8,564.8 929.8,564.9 928.8,565.1 927.8,565.4 926.8,566.0 925.8,566.6 925.0,567.1 924.8,567.2 923.8,568.0 922.8,569.0 921.8,570.1 920.8,571.0 919.8,571.8 918.8,572.3 918.1,572.4 917.8,572.4 916.8,572.4 915.8,572.4 914.8,572.4 913.8,572.3 912.8,572.3 911.8,572.2 910.8,572.2 909.8,572.1 908.8,572.0 907.8,572.0 906.8,571.9 905.8,571.8 904.8,571.7 904.1,571.7 903.8,571.6 902.8,571.5 901.8,571.4 900.8,571.3 899.8,571.2 898.8,571.0 898.0,570.9 897.8,570.9 896.8,570.6 895.8,570.2 894.8,569.7 893.8,569.3 892.8,569.0 892.2,569.0 891.8,569.0 890.8,569.1 889.8,569.4 888.8,569.8 887.8,570.2 886.8,570.6 885.8,571.1 884.8,571.5 884.0,571.8 883.8,571.9 882.8,572.2 881.8,572.6 880.8,572.9 879.8,573.3 878.8,573.7 877.8,574.1 876.8,574.5 875.8,574.9 874.8,575.3 873.8,575.7 873.7,575.8 872.8,576.2 871.8,576.6 870.8,577.0 869.8,577.5 868.8,578.0 867.8,578.4 866.8,578.9 865.8,579.4 864.8,579.8 863.8,580.3 862.8,580.8 861.8,581.2 860.8,581.7 859.8,582.1 858.8,582.6 857.8,583.0 856.8,583.4 855.8,583.8 854.8,584.2 853.8,584.6 852.8,585.0 851.8,585.3 850.8,585.6 850.2,585.8 849.8,585.9 848.8,586.2 847.8,586.5 846.8,586.8 845.8,587.0 844.8,587.3 843.8,587.6 842.8,587.9 841.8,588.1 840.8,588.4 839.8,588.6 838.8,588.8 837.8,589.1 836.8,589.3 835.8,589.5 834.8,589.7 833.8,589.9 832.8,590.1 831.8,590.3 830.8,590.4 829.8,590.6 828.8,590.7 827.8,590.9 826.8,591.0 825.8,591.1 824.8,591.2 823.8,591.4 822.8,591.5 821.8,591.6 820.8,591.7 819.8,591.8 818.8,591.9 817.8,592.0 816.8,592.1 815.8,592.2 814.8,592.3 813.8,592.4 812.8,592.5 811.8,592.6 810.8,592.6 809.8,592.7 808.8,592.8 807.8,592.8 806.8,592.8 805.8,592.9 804.8,592.9 803.8,592.9 803.4,592.9 802.8,592.9 801.8,592.8 800.8,592.8 799.8,592.6 798.8,592.5 797.8,592.3 796.8,592.1 795.8,591.9 794.8,591.7 793.8,591.5 792.8,591.2 791.8,591.0 790.8,590.8 790.0,590.6 789.8,590.6 788.8,590.3 787.8,589.9 786.8,589.6 785.8,589.1 784.8,588.7 783.8,588.4 782.8,588.0 781.8,587.8 780.8,587.6 779.8,587.5 779.7,587.5 778.8,587.5 777.8,587.7 776.8,587.9 775.8,588.1 774.8,588.4 773.8,588.8 772.8,589.1 771.8,589.4 770.8,589.6 769.8,589.8 768.8,589.9 768.3,589.9 767.8,589.9 766.8,589.8 765.8,589.8 764.8,589.8 763.8,589.7 762.8,589.6 761.8,589.5 760.8,589.5 760.0,589.4 759.8,589.4 758.8,589.3 757.8,589.1 756.8,588.9 755.8,588.7 754.8,588.5 753.8,588.3 752.8,588.2 751.8,588.1 750.8,588.0 750.6,588.0 749.8,588.0 748.8,588.1 747.8,588.2 746.8,588.4 745.8,588.5 744.8,588.8 743.8,589.0 742.8,589.2 741.8,589.4 740.8,589.6 740.0,589.7 739.8,589.7 738.8,589.9 737.8,590.0 736.8,590.2 735.8,590.4 734.8,590.6 733.8,590.7 732.8,590.9 731.8,591.0 730.8,591.1 729.8,591.2 728.8,591.3 727.8,591.3 727.7,591.3 726.8,591.3 725.8,591.2 724.8,591.2 723.8,591.2 722.8,591.1 721.8,591.1 720.8,591.0 719.8,591.0 718.8,590.9 717.8,590.8 716.8,590.8 715.8,590.7 714.8,590.6 713.8,590.5 712.8,590.4 711.8,590.2 710.8,590.1 709.8,590.0 708.8,589.8 707.8,589.7 706.8,589.6 705.8,589.4 704.9,589.2 704.8,589.2 703.8,589.0 702.8,588.5 701.8,588.0 700.8,587.4 699.8,586.8 698.8,586.2 698.0,585.8 697.8,585.7 696.8,585.1 695.8,584.5 694.8,583.8 693.8,583.3 692.8,583.0 692.2,582.9 691.8,582.9 690.8,582.9 689.8,583.0 688.8,583.0 687.8,583.0 686.8,583.1 685.8,583.2 684.8,583.2 683.8,583.3 682.8,583.4 681.8,583.4 680.8,583.5 679.8,583.6 678.8,583.7 677.8,583.8 676.8,583.8 675.8,583.9 674.8,584.0 673.8,584.0 672.8,584.1 671.8,584.2 670.8,584.2 669.8,584.3 668.8,584.3 667.8,584.3 666.8,584.3 665.8,584.3 664.8,584.3 663.8,584.3 662.8,584.3 661.8,584.3 660.8,584.3 659.8,584.3 658.8,584.3 657.8,584.3 656.8,584.3 655.8,584.3 654.8,584.4 653.8,584.4 652.8,584.4 651.8,584.4 650.8,584.4 649.8,584.4 648.8,584.4 647.8,584.4 646.8,584.4 645.8,584.4 644.8,584.4 643.8,584.4 642.8,584.4 641.8,584.4 641.5,584.4 640.8,584.4 639.8,584.2 638.8,583.9 637.8,583.6 636.8,583.1 635.8,582.7 634.8,582.2 633.8,581.7 632.8,581.3 632.0,581.0 631.8,580.9 630.8,580.5 629.8,580.1 628.8,579.6 627.8,579.2 626.8,578.8 625.8,578.5 624.8,578.2 623.8,578.0 623.7,578.0 622.8,577.9 621.8,577.8 620.8,577.7 619.8,577.7 618.8,577.6 617.8,577.6 616.8,577.5 615.8,577.5 614.8,577.4 613.8,577.4 612.8,577.4 611.8,577.3 610.8,577.3 609.8,577.3 608.8,577.3 607.8,577.2 606.8,577.2 605.8,577.2 604.8,577.1 603.8,577.1 602.8,577.0 601.8,577.0 600.8,576.9 599.8,576.8 598.8,576.7 598.3,576.7 597.8,576.6 596.8,576.5 595.8,576.3 594.8,576.0 593.8,575.8 592.8,575.5 591.8,575.2 591.0,575.0 590.8,574.9 589.8,574.6 588.8,574.2 587.8,573.8 586.8,573.4 585.8,573.1 584.8,572.9 584.4,572.9 583.8,573.0 582.8,573.3 581.8,573.8 580.8,574.5 579.8,575.3 578.8,576.2 577.8,576.9 577.0,577.5 576.8,577.6 575.8,578.4 574.8,579.2 573.8,580.1 572.8,580.9 571.8,581.5 570.8,581.8 570.4,581.8 569.8,581.8 568.8,581.8 567.8,581.8 566.8,581.8 565.8,581.8 564.8,581.8 563.8,581.8 562.8,581.8 561.8,581.8 560.8,581.8 559.8,581.8 558.8,581.8 557.8,581.8 556.8,581.8 555.8,581.8 555.2,581.8 554.8,581.8 553.8,581.8 552.8,581.7 551.8,581.7 550.8,581.6 549.8,581.5 548.8,581.4 547.8,581.3 546.8,581.2 545.8,581.1 545.0,581.0 544.8,581.0 543.8,580.8 542.8,580.4 541.8,580.1 540.8,579.8 539.8,579.5 538.8,579.4 538.6,579.4 537.8,579.5 536.8,579.7 535.8,580.1 534.8,580.7 533.8,581.3 532.8,581.9 531.8,582.6 530.8,583.3 529.8,583.9 529.1,584.3 528.8,584.5 527.8,585.0 526.8,585.6 525.8,586.2 524.8,586.8 523.8,587.3 522.8,587.8 521.8,588.2 520.9,588.4 520.8,588.4 519.8,588.6 518.8,588.8 517.8,589.0 516.8,589.1 515.8,589.2 514.8,589.3 513.8,589.5 512.8,589.6 511.8,589.6 510.8,589.7 509.8,589.8 508.8,589.9 508.0,590.0 507.8,590.0 506.8,590.1 505.8,590.2 504.8,590.3 503.8,590.4 502.8,590.5 501.8,590.6 500.8,590.7 499.8,590.8 498.8,590.9 497.8,591.0 496.8,591.0 495.8,591.1 494.8,591.1 493.8,591.1 492.8,591.1 491.8,591.1 490.8,591.1 489.8,591.1 488.8,591.1 487.8,591.1 486.8,591.0 485.8,591.0 484.8,591.0 483.8,591.0 482.8,591.0 481.8,590.9 480.8,590.9 479.8,590.9 478.8,590.8 477.8,590.8 476.8,590.8 475.8,590.7 474.8,590.7 473.8,590.7 472.8,590.6 472.0,590.6 471.8,590.6 470.8,590.5 469.8,590.5 468.8,590.4 467.8,590.3 466.8,590.2 465.8,590.2 464.8,590.1 463.8,589.9 462.8,589.8 461.8,589.7 460.8,589.6 460.0,589.5 459.8,589.5 458.8,589.3 457.8,589.2 456.8,589.0 455.8,588.7 454.8,588.5 453.8,588.2 452.8,587.9 451.8,587.6 450.8,587.3 450.3,587.1 449.8,586.8 448.8,586.3 447.8,585.7 446.8,584.9 445.8,584.0 444.9,583.1 444.8,583.0 444.7,582.8 444.4,582.5 444.2,582.2 443.9,581.9 443.8,581.7 443.7,581.5 443.4,581.2 443.2,580.8 442.9,580.4 442.8,580.1 442.7,580.0 442.4,579.5 442.2,579.1 441.9,578.6 441.8,578.3 441.7,578.0 441.4,577.5 441.2,576.9 440.9,576.3 440.8,575.9 440.7,575.6 440.4,575.0 440.2,574.2 439.9,573.4 439.8,573.0 439.7,572.6 439.4,571.7 439.2,570.8 438.9,569.8 438.8,569.1 438.7,568.7 438.4,567.6 438.2,566.4 437.9,565.1 437.8,564.3 437.7,563.7 437.4,562.3 437.2,560.8 436.9,559.2 436.8,558.3 436.7,557.6 436.4,556.0 436.2,554.3 435.9,552.6 435.8,551.7 435.7,551.0 435.4,549.5 435.2,548.2 434.9,547.1 434.8,546.6 434.7,546.3 434.4,545.9 434.2,545.8 433.9,545.9 433.8,546.1 433.7,546.2 433.4,546.5 433.2,546.6 432.9,546.5 432.8,546.3 432.7,546.1 432.4,545.8 432.2,545.6 431.9,545.7 431.8,545.9 431.7,546.1 431.4,546.9 431.2,548.0 430.9,549.2 430.8,550.1 430.7,550.7 430.4,552.2 430.2,553.9 429.9,555.5 429.8,556.5 429.7,557.1 429.4,558.7 429.2,560.2 428.9,561.7 428.8,562.5 428.7,563.0 428.4,564.3 428.2,565.6 427.9,566.7 427.8,567.4 427.7,567.8 427.4,568.8 427.2,569.8 426.9,570.7 426.8,571.2 426.7,571.5 426.4,572.3 426.2,573.0 425.9,573.6 425.8,574.0 425.7,574.3 425.4,574.9 425.2,575.4 424.9,575.9 424.8,576.2 424.7,576.4 424.4,576.9 424.2,577.3 423.9,577.7 423.8,577.9 423.7,578.1 423.4,578.4 423.2,578.8 422.9,579.1 422.8,579.3 422.7,579.4 422.4,579.7 422.2,579.9 421.9,580.2 421.8,580.3 421.7,580.4 421.4,580.7 421.2,580.9 420.8,581.2 419.8,581.9 418.8,582.5 417.8,583.0 416.8,583.5 415.8,583.8 414.8,584.2 413.8,584.5 412.8,584.7 411.8,584.9 411.0,585.0 410.8,585.1 409.8,585.3 408.8,585.5 407.8,585.8 406.8,586.1 405.8,586.3 404.8,586.6 403.8,586.8 402.8,586.9 401.8,587.0 401.5,587.0 400.8,587.0 399.8,587.0 398.8,587.0 397.8,587.0 396.8,586.9 395.8,586.9 394.8,586.8 393.8,586.8 392.8,586.7 391.8,586.7 390.8,586.6 389.8,586.5 388.8,586.4 387.8,586.4 386.8,586.3 385.8,586.2 384.8,586.1 383.8,586.0 382.8,585.9 381.8,585.8 380.8,585.7 379.8,585.6 378.8,585.5 377.8,585.4 376.8,585.3 375.8,585.2 374.8,585.1 374.3,585.1 373.8,585.1 372.8,584.9 371.8,584.8 370.8,584.7 369.8,584.5 368.8,584.3 367.8,584.2 366.8,584.0 365.8,583.9 364.8,583.8 363.8,583.7 362.8,583.6 361.8,583.5 360.8,583.5 360.7,583.5 359.8,583.5 358.8,583.6 357.8,583.7 356.8,583.9 355.8,584.1 354.8,584.3 353.8,584.6 352.8,584.8 352.0,585.0 351.8,585.0 350.8,585.4 349.8,585.7 348.8,586.1 347.8,586.6 346.8,587.0 345.8,587.4 344.8,587.7 344.4,587.8 343.8,587.9 342.8,588.2 341.8,588.4 340.8,588.6 339.8,588.9 338.8,589.0 337.8,589.2 336.8,589.3 335.8,589.4 335.0,589.4 334.8,589.4 333.8,589.4 332.8,589.4 331.8,589.4 330.8,589.4 329.8,589.4 328.8,589.4 327.8,589.4 326.8,589.4 325.8,589.4 324.8,589.4 323.8,589.3 322.8,589.3 321.8,589.3 320.8,589.3 319.8,589.3 318.8,589.3 317.8,589.3 316.8,589.3 315.8,589.2 314.8,589.2 313.8,589.2 312.8,589.2 311.8,589.2 310.8,589.2 309.8,589.2 308.8,589.2 307.8,589.1 306.8,589.1 305.8,589.1 304.8,589.1 303.8,589.1 302.8,589.1 301.8,589.1 300.8,589.0 299.8,589.0 298.8,589.0 297.8,589.0 296.8,589.0 295.8,589.0 294.8,589.0 293.8,589.0 292.8,589.0 291.8,589.0 290.8,589.0 289.8,589.0 288.8,589.0 287.8,589.0 286.8,589.0 285.8,589.0 284.8,589.0 283.8,589.0 283.0,589.0 282.8,589.0 281.8,589.0 280.8,589.1 279.8,589.1 278.8,589.2 277.8,589.2 276.8,589.3 275.8,589.4 274.8,589.4 273.8,589.5 272.8,589.6 271.8,589.7 270.8,589.8 269.8,589.9 268.8,590.1 267.8,590.2 266.8,590.3 265.8,590.4 264.8,590.5 263.8,590.7 262.8,590.8 262.7,590.8 261.8,590.9 260.8,591.1 259.8,591.2 258.8,591.4 257.8,591.6 256.8,591.8 255.8,592.1 254.8,592.3 253.8,592.5 252.8,592.7 251.8,593.0 250.8,593.2 249.8,593.4 248.8,593.6 247.8,593.7 246.8,593.9 245.8,594.0 244.8,594.1 243.8,594.2 242.8,594.2 242.4,594.2 241.8,594.2 240.8,594.2 239.8,594.1 238.8,594.0 237.8,593.9 236.8,593.8 235.8,593.7 234.8,593.6 233.8,593.4 232.8,593.2 231.8,593.1 230.8,592.9 229.8,592.7 228.8,592.5 227.8,592.3 226.8,592.1 225.8,591.9 224.8,591.8 223.8,591.6 222.8,591.4 222.1,591.3 221.8,591.3 220.8,591.1 219.8,591.0 218.8,590.8 217.8,590.6 216.8,590.5 215.8,590.3 214.8,590.1 213.8,590.0 212.8,589.8 211.8,589.6 210.8,589.5 209.8,589.4 208.8,589.2 207.8,589.1 206.8,589.0 205.8,589.0 204.8,588.9 204.4,588.9 203.8,588.8 202.8,588.8 201.8,588.8 200.8,588.7 199.8,588.7 198.8,588.6 197.8,588.6 196.8,588.6 195.8,588.5 194.8,588.5 193.8,588.5 192.8,588.4 191.8,588.4 190.8,588.4 189.8,588.4 188.8,588.3 187.8,588.3 186.8,588.3 185.8,588.3 184.8,588.3 183.8,588.3 182.8,588.2 181.8,588.2 180.8,588.2 179.8,588.2 178.8,588.2 177.8,588.2 176.8,588.2 176.5,588.2 175.8,588.2 174.8,588.2 173.8,588.3 172.8,588.4 171.8,588.5 170.8,588.6 169.8,588.7 168.8,588.9 167.8,589.0 166.8,589.2 165.8,589.3 164.8,589.5 163.8,589.7 162.8,589.8 161.8,590.0 160.8,590.1 159.8,590.2 158.8,590.4 157.8,590.5 156.8,590.6 155.8,590.6 154.8,590.7 153.8,590.7 153.6,590.7 152.8,590.7 151.8,590.7 150.8,590.7 149.8,590.6 148.8,590.6 147.8,590.5 146.8,590.5 145.8,590.4 144.8,590.3 143.8,590.2 142.8,590.1 141.8,590.0 140.8,589.9 139.8,589.8 138.8,589.7 137.8,589.6 136.8,589.5 135.9,589.4 135.8,589.4 134.8,589.2 133.8,589.1 132.8,588.9 131.8,588.6 130.8,588.4 129.8,588.1 128.8,587.8 127.8,587.5 126.8,587.2 125.8,586.9 124.8,586.6 123.8,586.3 123.2,586.1 122.8,586.0 121.8,585.6 120.8,585.2 119.8,584.7 118.8,584.3 117.8,584.0 116.8,583.7 115.8,583.6 115.6,583.6 114.8,583.8 113.8,584.4 112.8,585.2 111.8,586.0 110.8,586.7 110.5,586.9 109.8,587.2 108.8,587.6 107.8,588.0 106.8,588.3 105.8,588.6 105.4,588.7 104.8,588.9 103.8,589.2 102.8,589.4 101.8,589.7 100.8,589.9 99.8,590.1 98.8,590.3 98.0,590.5 97.8,590.5 96.8,590.7 95.8,590.9 94.8,591.1 93.8,591.3 92.8,591.5 91.8,591.7 90.8,591.8 89.8,591.9 88.8,592.0 87.8,592.0 87.7,592.0 86.8,592.0 85.8,592.0 84.8,592.0 83.8,591.9 82.8,591.9 81.8,591.8 80.8,591.7 79.8,591.6 78.8,591.5" fill="#1512e6" stroke="#1512e6" stroke-width="2.4" stroke-linejoin="round"/>
<polygon points="78.8,668.1 79.8,667.9 80.8,667.8 81.8,667.6 82.8,667.4 83.8,667.3 84.8,667.1 85.8,666.9 86.8,666.7 87.8,666.6 88.8,666.4 89.8,666.2 90.8,666.0 91.8,665.8 92.8,665.6 93.8,665.4 94.8,665.2 95.8,665.0 96.8,664.8 97.8,664.6 98.8,664.3 99.8,664.1 100.4,664.0 100.8,663.9 101.8,663.6 102.8,663.4 103.8,663.1 104.8,662.7 105.8,662.4 106.8,662.1 107.8,661.9 108.0,661.8 108.8,661.6 109.8,661.4 110.8,661.1 111.8,660.9 112.8,660.7 113.8,660.6 114.8,660.5 115.1,660.5 115.8,660.5 116.8,660.7 117.8,661.1 118.8,661.5 119.8,661.9 120.8,662.3 121.8,662.8 122.0,662.8 122.8,663.1 123.8,663.5 124.8,663.9 125.8,664.2 126.8,664.5 127.8,664.7 128.3,664.8 128.8,664.8 129.8,664.9 130.8,665.0 131.8,665.1 132.8,665.2 133.8,665.3 134.8,665.3 135.8,665.4 136.8,665.4 137.8,665.5 138.8,665.5 139.8,665.6 140.8,665.6 141.8,665.7 142.8,665.7 143.8,665.8 144.8,665.8 145.8,665.8 146.8,665.9 147.8,665.9 148.8,665.9 149.8,666.0 150.8,666.0 151.1,666.0 151.8,666.0 152.8,666.1 153.8,666.1 154.8,666.1 155.8,666.2 156.8,666.2 157.8,666.2 158.8,666.3 159.8,666.3 160.8,666.3 161.8,666.3 162.8,666.4 163.8,666.4 164.8,666.4 165.8,666.5 166.8,666.5 167.8,666.5 168.8,666.5 169.8,666.6 170.8,666.6 171.8,666.6 172.8,666.6 173.8,666.7 174.8,666.7 175.8,666.7 176.8,666.7 177.8,666.7 178.8,666.7 179.8,666.8 180.8,666.8 181.8,666.8 182.8,666.8 183.8,666.8 184.8,666.8 185.8,666.8 186.6,666.8 186.8,666.8 187.8,666.8 188.8,666.8 189.8,666.8 190.8,666.8 191.8,666.7 192.8,666.7 193.8,666.7 194.8,666.6 195.8,666.6 196.8,666.6 197.8,666.5 198.8,666.5 199.8,666.4 200.8,666.4 201.8,666.3 202.8,666.3 203.8,666.3 204.8,666.2 205.8,666.2 206.8,666.1 207.8,666.1 208.8,666.1 209.8,666.1 210.8,666.0 211.8,666.0 212.8,666.0 213.8,666.0 214.5,666.0 214.8,666.0 215.8,666.0 216.8,666.0 217.8,666.0 218.8,666.0 219.8,666.1 220.8,666.1 221.8,666.1 222.8,666.1 223.8,666.2 224.8,666.2 225.8,666.2 226.8,666.3 227.8,666.3 228.8,666.3 229.8,666.4 230.8,666.4 231.8,666.4 232.8,666.4 233.8,666.4 234.8,666.4 235.8,666.4 236.8,666.4 237.4,666.4 237.8,666.4 238.8,666.3 239.8,666.1 240.8,665.9 241.8,665.6 242.8,665.2 243.8,664.9 244.8,664.6 245.0,664.5 245.8,664.3 246.8,663.9 247.8,663.6 248.8,663.2 249.8,662.8 250.8,662.5 251.8,662.1 252.6,661.8 252.8,661.7 253.8,661.4 254.8,661.0 255.8,660.6 256.8,660.2 257.8,659.8 258.8,659.4 259.8,659.1 260.8,658.7 261.8,658.5 262.0,658.4 262.8,658.2 263.8,658.0 264.8,657.8 265.8,657.6 266.8,657.4 267.8,657.2 268.8,657.0 269.8,656.9 270.8,656.8 271.8,656.7 272.8,656.7 272.9,656.7 273.8,656.7 274.8,656.9 275.8,657.0 276.8,657.3 277.8,657.6 278.8,657.9 279.8,658.2 280.8,658.5 281.8,658.8 282.0,658.9 282.8,659.1 283.8,659.4 284.8,659.8 285.8,660.1 286.8,660.5 287.8,660.8 288.8,661.2 289.8,661.5 290.6,661.7 290.8,661.8 291.8,662.0 292.8,662.3 293.8,662.6 294.8,662.8 295.8,663.1 296.8,663.4 297.8,663.6 298.8,663.9 299.8,664.1 300.8,664.3 301.8,664.5 302.8,664.7 303.8,664.9 304.8,665.0 305.8,665.1 306.8,665.2 307.8,665.2 308.4,665.2 308.8,665.2 309.8,665.2 310.8,665.2 311.8,665.2 312.8,665.2 313.8,665.2 314.8,665.2 315.8,665.2 316.8,665.2 317.8,665.2 318.8,665.2 319.8,665.2 320.0,665.2 320.8,665.2 321.8,665.2 322.8,665.2 323.8,665.2 324.8,665.2 325.8,665.2 326.8,665.2 327.8,665.2 328.8,665.2 329.8,665.2 330.8,665.2 331.8,665.2 332.8,665.2 333.8,665.2 334.8,665.2 335.8,665.2 336.8,665.2 337.8,665.2 338.8,665.2 339.8,665.2 340.8,665.2 341.8,665.2 342.8,665.2 343.8,665.2 344.8,665.2 345.8,665.2 346.8,665.2 347.2,665.2 347.8,665.2 348.8,665.2 349.8,665.2 350.8,665.2 351.8,665.2 352.8,665.2 353.8,665.2 354.8,665.3 355.8,665.3 356.8,665.3 357.8,665.3 358.8,665.3 359.8,665.3 360.8,665.4 361.8,665.4 362.8,665.4 363.8,665.4 364.8,665.4 365.8,665.4 366.8,665.4 367.8,665.5 368.8,665.5 369.8,665.5 370.8,665.5 371.8,665.5 372.8,665.5 373.8,665.5 374.3,665.5 374.8,665.5 375.8,665.5 376.8,665.5 377.8,665.5 378.8,665.4 379.8,665.4 380.8,665.4 381.8,665.3 382.8,665.3 383.8,665.2 384.8,665.2 385.8,665.1 386.8,665.0 387.8,665.0 388.8,664.9 389.8,664.8 390.8,664.7 391.8,664.7 392.8,664.6 393.8,664.5 394.8,664.4 395.8,664.3 396.8,664.2 397.8,664.1 398.8,664.0 399.8,664.0 400.8,663.9 401.5,663.8 401.8,663.8 402.8,663.7 403.8,663.6 404.8,663.4 405.8,663.3 406.8,663.2 407.8,663.1 408.8,662.9 409.8,662.8 410.8,662.6 411.8,662.4 412.8,662.2 413.8,662.0 414.8,661.7 415.8,661.3 416.8,660.8 417.8,660.2 418.8,659.4 419.8,658.7 420.5,658.3 420.8,658.1 421.8,657.4 422.8,656.8 423.8,656.0 424.4,655.5 424.8,655.2 425.8,654.0 426.8,652.6 427.8,651.1 428.5,649.7 428.8,649.0 429.8,645.6 430.8,641.7 431.8,639.5 431.9,639.5 432.8,641.1 433.8,645.4 434.8,649.6 435.0,650.3 435.8,652.9 436.8,655.9 437.0,656.4 437.8,658.2 438.8,660.3 439.5,661.4 439.8,661.9 440.8,663.2 441.8,664.3 442.8,665.1 443.0,665.2 443.8,665.6 444.8,666.1 445.8,666.5 446.8,666.9 447.8,667.2 448.8,667.5 449.8,667.7 450.8,667.8 451.8,667.9 451.9,667.9 452.8,667.8 453.8,667.8 454.8,667.8 455.8,667.7 456.8,667.7 457.8,667.6 458.8,667.5 459.8,667.5 460.8,667.4 461.8,667.3 462.0,667.3 462.8,667.2 463.8,667.1 464.8,667.0 465.8,666.9 466.8,666.7 467.8,666.5 468.8,666.4 469.8,666.2 470.8,666.0 471.8,665.8 472.8,665.5 473.8,665.3 474.8,665.1 475.8,664.9 476.8,664.6 477.8,664.4 478.8,664.2 479.8,664.0 480.8,663.7 481.8,663.5 482.8,663.3 482.9,663.3 483.8,663.1 484.8,662.9 485.8,662.7 486.8,662.5 487.8,662.3 488.8,662.1 489.8,661.9 490.8,661.7 491.8,661.5 492.8,661.3 493.8,661.1 494.8,660.9 495.8,660.7 496.0,660.7 496.8,660.5 497.8,660.3 498.8,660.1 499.8,659.9 500.8,659.7 501.8,659.5 502.8,659.3 503.8,659.2 504.8,659.0 505.8,658.8 506.8,658.5 507.8,658.3 508.8,658.1 509.8,657.9 510.1,657.8 510.8,657.6 511.8,657.4 512.8,657.1 513.8,656.8 514.8,656.5 515.8,656.2 516.8,655.9 517.8,655.6 518.8,655.2 519.8,654.9 520.8,654.6 521.8,654.3 522.8,653.9 523.8,653.6 524.0,653.5 524.8,653.3 525.8,652.9 526.8,652.5 527.8,652.0 528.8,651.5 529.8,651.1 530.8,650.7 531.8,650.2 532.8,649.9 533.8,649.5 534.8,649.3 535.8,649.1 536.8,649.0 537.2,649.0 537.8,649.0 538.8,649.0 539.8,649.0 540.8,649.0 541.8,649.0 542.8,649.0 543.8,649.0 544.8,649.0 545.8,649.0 546.8,649.0 547.8,648.9 548.1,648.9 548.8,649.0 549.8,649.0 550.8,649.1 551.8,649.2 552.8,649.3 553.8,649.4 554.8,649.6 555.8,649.8 556.8,650.0 557.8,650.1 558.8,650.3 559.8,650.5 560.8,650.7 561.8,650.9 562.8,651.0 563.8,651.1 564.8,651.3 565.4,651.3 565.8,651.3 566.8,651.4 567.8,651.5 568.8,651.5 569.8,651.6 570.8,651.7 571.8,651.7 572.8,651.8 573.8,651.8 574.8,651.9 575.8,651.9 576.8,651.9 577.8,652.0 578.8,652.0 579.8,652.1 580.8,652.1 581.8,652.2 582.8,652.2 583.8,652.2 584.8,652.3 585.8,652.3 586.8,652.4 587.8,652.4 588.8,652.5 589.8,652.6 590.7,652.6 590.8,652.6 591.8,652.7 592.8,652.8 593.8,652.9 594.8,653.0 595.8,653.1 596.8,653.2 597.8,653.4 598.8,653.5 599.8,653.6 600.8,653.7 601.8,653.9 602.8,654.0 603.8,654.1 604.8,654.3 605.8,654.4 606.8,654.5 607.8,654.6 608.8,654.7 609.8,654.8 610.8,654.9 611.8,655.0 612.8,655.0 613.8,655.1 614.8,655.1 615.8,655.1 616.1,655.1 616.8,655.1 617.8,655.1 618.8,655.0 619.8,654.9 620.8,654.7 621.8,654.6 622.8,654.4 623.8,654.2 624.8,654.0 625.8,653.8 626.8,653.6 627.8,653.4 628.8,653.3 629.8,653.1 630.8,653.0 631.0,653.0 631.8,652.9 632.8,652.7 633.8,652.6 634.8,652.4 635.8,652.3 636.8,652.2 637.8,652.0 638.8,651.9 639.8,651.8 640.8,651.7 641.8,651.6 642.8,651.5 643.8,651.4 644.8,651.4 645.8,651.4 646.5,651.4 646.8,651.4 647.8,651.4 648.8,651.4 649.8,651.5 650.8,651.5 651.8,651.6 652.8,651.7 653.8,651.7 654.8,651.8 655.8,652.0 656.8,652.1 657.8,652.2 658.8,652.3 659.8,652.4 660.8,652.5 661.8,652.7 662.8,652.8 663.8,653.0 664.8,653.1 665.8,653.3 666.8,653.5 667.8,653.7 668.8,654.0 669.8,654.2 670.8,654.4 671.8,654.7 672.8,654.9 673.8,655.2 674.8,655.4 675.8,655.7 676.8,655.9 677.0,656.0 677.8,656.2 678.8,656.4 679.8,656.7 680.8,657.0 681.8,657.3 682.8,657.6 683.8,657.9 684.8,658.2 685.8,658.5 686.8,658.8 687.8,659.1 688.8,659.4 689.8,659.6 690.8,659.9 691.8,660.2 692.2,660.3 692.8,660.5 693.8,660.7 694.8,661.0 695.8,661.2 696.8,661.5 697.8,661.7 698.8,661.9 699.8,662.2 700.0,662.2 700.8,662.4 701.8,662.6 702.8,662.8 703.8,663.1 704.8,663.3 705.8,663.6 706.8,663.8 707.8,664.1 708.8,664.3 709.8,664.6 710.8,664.8 711.8,665.0 712.8,665.2 713.8,665.4 714.8,665.5 715.8,665.6 716.8,665.7 717.8,665.8 718.7,665.8 718.8,665.8 719.8,665.9 720.8,665.9 721.8,665.9 722.8,665.9 723.8,665.9 724.8,666.0 725.8,666.0 726.8,666.0 727.8,666.0 728.8,666.0 729.8,666.0 730.8,666.0 731.8,666.0 732.8,666.0 733.8,666.0 734.3,666.0 734.8,666.0 735.8,665.9 736.8,665.8 737.8,665.6 738.8,665.4 739.8,665.2 740.8,664.9 741.8,664.7 742.8,664.5 743.8,664.3 744.8,664.1 745.8,664.0 746.8,664.0 747.8,664.0 748.8,664.1 749.8,664.2 750.8,664.3 751.8,664.4 752.8,664.6 753.8,664.7 754.8,664.9 755.8,665.0 756.0,665.0 756.8,665.1 757.8,665.3 758.8,665.5 759.8,665.6 760.8,665.8 761.8,666.0 762.8,666.1 763.8,666.2 764.8,666.3 765.6,666.3 765.8,666.3 766.8,666.3 767.8,666.2 768.8,666.0 769.8,665.8 770.8,665.6 771.8,665.4 772.8,665.1 773.8,664.8 774.8,664.6 775.8,664.3 776.8,664.0 777.8,663.7 778.8,663.5 779.8,663.3 780.8,663.2 781.2,663.1 781.8,663.0 782.8,662.9 783.8,662.8 784.8,662.7 785.8,662.6 786.8,662.6 787.8,662.5 788.8,662.4 789.8,662.3 790.8,662.3 791.8,662.2 792.8,662.1 793.8,662.1 794.8,662.0 795.8,661.9 796.8,661.8 797.8,661.7 798.8,661.6 799.8,661.5 799.9,661.5 800.8,661.4 801.8,661.2 802.8,661.1 803.8,660.9 804.8,660.7 805.8,660.5 806.8,660.3 807.8,660.0 808.8,659.8 809.8,659.6 810.8,659.4 811.8,659.1 812.8,658.9 813.8,658.7 814.8,658.5 815.8,658.3 816.8,658.1 817.8,657.9 818.6,657.8 818.8,657.8 819.8,657.6 820.8,657.5 821.8,657.4 822.8,657.2 823.8,657.1 824.8,657.0 825.8,656.9 826.8,656.8 827.8,656.7 828.8,656.6 829.8,656.5 830.8,656.4 831.8,656.2 832.8,656.1 833.8,656.0 834.8,655.9 835.8,655.8 836.8,655.7 837.8,655.6 838.8,655.5 839.8,655.4 840.5,655.3 840.8,655.3 841.8,655.1 842.8,655.0 843.8,654.9 844.8,654.8 845.8,654.6 846.8,654.5 847.8,654.4 848.8,654.2 849.8,654.1 850.8,654.0 851.8,653.9 852.8,653.7 853.8,653.6 854.8,653.5 855.8,653.3 856.8,653.2 857.8,653.1 858.8,652.9 859.8,652.8 860.8,652.7 861.8,652.6 862.8,652.4 863.8,652.3 864.8,652.2 865.5,652.1 865.8,652.1 866.8,651.9 867.8,651.8 868.8,651.7 869.8,651.5 870.8,651.4 871.8,651.3 872.8,651.1 873.8,651.0 874.8,650.8 875.8,650.7 876.8,650.5 877.8,650.4 878.8,650.2 879.8,650.1 880.8,650.0 881.8,649.8 882.8,649.7 883.8,649.6 884.8,649.5 885.8,649.4 886.8,649.3 887.8,649.2 888.8,649.2 889.8,649.1 890.8,649.1 891.8,649.0 892.8,649.0 893.6,649.0 893.8,649.0 894.8,649.0 895.8,649.0 896.8,649.1 897.8,649.1 898.8,649.1 899.8,649.2 900.8,649.3 901.8,649.4 902.8,649.5 903.8,649.6 904.8,649.8 905.8,649.9 906.8,650.0 907.8,650.2 908.8,650.3 909.8,650.5 910.8,650.6 911.8,650.8 912.3,650.8 912.8,650.9 913.8,651.1 914.8,651.3 915.8,651.5 916.8,651.8 917.8,652.0 918.8,652.3 919.8,652.6 920.8,652.9 921.8,653.2 922.8,653.6 923.8,653.9 924.8,654.3 925.8,654.6 926.8,655.0 927.8,655.4 928.8,655.8 929.8,656.2 930.8,656.5 931.0,656.6 931.8,656.9 932.8,657.3 933.8,657.8 934.8,658.3 935.8,658.9 936.8,659.5 937.8,660.1 938.8,660.7 939.8,661.3 940.8,661.8 941.8,662.4 942.8,662.9 943.8,663.4 944.8,663.8 945.8,664.2 946.6,664.5 946.8,664.5 947.8,664.8 948.8,665.1 949.8,665.4 950.8,665.7 951.8,665.9 952.8,666.2 953.8,666.4 954.8,666.7 955.8,666.9 956.8,667.1 957.8,667.2 958.8,667.4 959.8,667.5 960.8,667.6 961.8,667.6 962.3,667.6 962.8,667.6 963.8,667.6 964.8,667.5 965.8,667.4 966.8,667.2 967.8,667.1 968.8,666.9 969.8,666.6 970.8,666.4 971.8,666.1 972.8,665.8 973.8,665.5 974.8,665.2 975.8,664.8 976.8,664.5 977.8,664.1 978.8,663.8 979.8,663.4 980.8,663.1 981.0,663.0 981.8,662.7 982.8,662.2 983.8,661.8 984.8,661.2 985.8,660.6 986.8,660.0 987.8,659.3 988.8,658.6 989.8,657.8 990.8,657.1 991.8,656.4 992.8,655.6 993.8,654.9 994.8,654.2 995.8,653.5 996.6,653.0 996.8,652.9 997.8,652.2 998.8,651.6 999.8,650.9 1000.8,650.3 1001.8,649.6 1002.8,649.0 1003.8,648.3 1004.8,647.7 1005.8,647.0 1006.0,646.9 1006.0,650.5 1005.8,650.6 1004.8,651.1 1003.8,651.7 1002.8,652.2 1001.8,652.8 1000.8,653.3 999.8,653.9 998.8,654.4 997.8,655.0 996.8,655.5 996.6,655.6 995.8,656.1 994.8,656.6 993.8,657.2 992.8,657.9 991.8,658.5 990.8,659.1 989.8,659.7 988.8,660.4 987.8,661.0 986.8,661.6 985.8,662.1 984.8,662.6 983.8,663.2 982.8,663.7 981.8,664.1 981.0,664.4 980.8,664.5 979.8,664.9 978.8,665.2 977.8,665.6 976.8,665.9 975.8,666.3 974.8,666.6 973.8,667.0 972.8,667.3 971.8,667.6 970.8,667.9 969.8,668.1 968.8,668.4 967.8,668.6 966.8,668.8 965.8,668.9 964.8,669.0 963.8,669.1 962.8,669.2 962.3,669.2 961.8,669.2 960.8,669.1 959.8,669.1 958.8,669.0 957.8,668.8 956.8,668.7 955.8,668.5 954.8,668.3 953.8,668.1 952.8,667.8 951.8,667.6 950.8,667.3 949.8,667.0 948.8,666.8 947.8,666.5 946.8,666.2 946.6,666.1 945.8,665.9 944.8,665.5 943.8,665.1 942.8,664.6 941.8,664.1 940.8,663.6 939.8,663.0 938.8,662.4 937.8,661.8 936.8,661.2 935.8,660.7 934.8,660.1 933.8,659.6 932.8,659.1 931.8,658.7 931.0,658.4 930.8,658.3 929.8,658.0 928.8,657.7 927.8,657.4 926.8,657.1 925.8,656.8 924.8,656.5 923.8,656.2 922.8,656.0 921.8,655.7 920.8,655.5 919.8,655.3 918.8,655.1 917.8,654.9 916.8,654.7 915.8,654.5 914.8,654.4 913.8,654.3 912.8,654.2 912.3,654.2 911.8,654.1 910.8,654.1 909.8,654.0 908.8,653.9 907.8,653.9 906.8,653.8 905.8,653.8 904.8,653.7 903.8,653.7 902.8,653.7 901.8,653.6 900.8,653.6 899.8,653.6 898.8,653.5 897.8,653.5 896.8,653.5 895.8,653.4 894.8,653.4 893.8,653.4 893.6,653.4 892.8,653.4 891.8,653.4 890.8,653.5 889.8,653.5 888.8,653.6 887.8,653.6 886.8,653.7 885.8,653.8 884.8,653.9 883.8,654.0 882.8,654.1 881.8,654.2 880.8,654.4 879.8,654.5 878.8,654.6 877.8,654.8 876.8,654.9 875.8,655.1 874.8,655.2 873.8,655.4 872.8,655.5 871.8,655.7 870.8,655.8 869.8,655.9 868.8,656.1 867.8,656.2 866.8,656.3 865.8,656.5 865.5,656.5 864.8,656.6 863.8,656.7 862.8,656.8 861.8,657.0 860.8,657.1 859.8,657.2 858.8,657.3 857.8,657.5 856.8,657.6 855.8,657.7 854.8,657.9 853.8,658.0 852.8,658.1 851.8,658.3 850.8,658.4 849.8,658.5 848.8,658.6 847.8,658.8 846.8,658.9 845.8,659.0 844.8,659.2 843.8,659.3 842.8,659.4 841.8,659.5 840.8,659.7 840.5,659.7 839.8,659.8 838.8,659.9 837.8,660.0 836.8,660.1 835.8,660.2 834.8,660.3 833.8,660.4 832.8,660.5 831.8,660.6 830.8,660.8 829.8,660.9 828.8,661.0 827.8,661.1 826.8,661.2 825.8,661.3 824.8,661.4 823.8,661.5 822.8,661.6 821.8,661.8 820.8,661.9 819.8,662.0 818.8,662.2 818.6,662.2 817.8,662.3 816.8,662.5 815.8,662.7 814.8,662.9 813.8,663.1 812.8,663.3 811.8,663.5 810.8,663.8 809.8,664.0 808.8,664.2 807.8,664.4 806.8,664.7 805.8,664.9 804.8,665.1 803.8,665.3 802.8,665.5 801.8,665.6 800.8,665.8 799.9,665.9 799.8,665.9 798.8,666.0 797.8,666.1 796.8,666.2 795.8,666.3 794.8,666.4 793.8,666.5 792.8,666.5 791.8,666.6 790.8,666.7 789.8,666.7 788.8,666.8 787.8,666.9 786.8,667.0 785.8,667.0 784.8,667.1 783.8,667.2 782.8,667.3 781.8,667.4 781.2,667.5 780.8,667.6 779.8,667.7 778.8,667.9 777.8,668.1 776.8,668.3 775.8,668.6 774.8,668.9 773.8,669.1 772.8,669.4 771.8,669.6 770.8,669.9 769.8,670.1 768.8,670.2 767.8,670.4 766.8,670.4 765.8,670.5 765.6,670.5 764.8,670.4 763.8,670.4 762.8,670.2 761.8,670.1 760.8,669.9 759.8,669.7 758.8,669.5 757.8,669.3 756.8,669.1 756.0,669.0 755.8,669.0 754.8,668.8 753.8,668.6 752.8,668.5 751.8,668.3 750.8,668.2 749.8,668.0 748.8,667.9 747.8,667.8 746.8,667.8 745.8,667.8 744.8,667.9 743.8,668.1 742.8,668.2 741.8,668.4 740.8,668.7 739.8,668.9 738.8,669.1 737.8,669.3 736.8,669.4 735.8,669.5 734.8,669.6 734.3,669.6 733.8,669.6 732.8,669.6 731.8,669.6 730.8,669.6 729.8,669.5 728.8,669.5 727.8,669.5 726.8,669.5 725.8,669.4 724.8,669.4 723.8,669.4 722.8,669.3 721.8,669.3 720.8,669.3 719.8,669.2 718.8,669.2 718.7,669.2 717.8,669.1 716.8,669.0 715.8,668.9 714.8,668.8 713.8,668.6 712.8,668.4 711.8,668.2 710.8,668.0 709.8,667.7 708.8,667.5 707.8,667.2 706.8,667.0 705.8,666.7 704.8,666.4 703.8,666.2 702.8,665.9 701.8,665.6 700.8,665.4 700.0,665.2 699.8,665.2 698.8,664.9 697.8,664.7 696.8,664.5 695.8,664.2 694.8,664.0 693.8,663.7 692.8,663.5 692.2,663.3 691.8,663.2 690.8,662.9 689.8,662.7 688.8,662.4 687.8,662.1 686.8,661.8 685.8,661.5 684.8,661.2 683.8,660.9 682.8,660.6 681.8,660.3 680.8,660.0 679.8,659.7 678.8,659.5 677.8,659.2 677.0,659.0 676.8,659.0 675.8,658.7 674.8,658.5 673.8,658.2 672.8,658.0 671.8,657.7 670.8,657.5 669.8,657.2 668.8,657.0 667.8,656.8 666.8,656.6 665.8,656.4 664.8,656.2 663.8,656.0 662.8,655.9 661.8,655.7 660.8,655.6 659.8,655.5 658.8,655.4 657.8,655.2 656.8,655.1 655.8,655.0 654.8,654.9 653.8,654.8 652.8,654.7 651.8,654.6 650.8,654.6 649.8,654.5 648.8,654.5 647.8,654.5 646.8,654.4 646.5,654.4 645.8,654.4 644.8,654.5 643.8,654.5 642.8,654.6 641.8,654.7 640.8,654.8 639.8,654.9 638.8,655.0 637.8,655.1 636.8,655.3 635.8,655.4 634.8,655.5 633.8,655.7 632.8,655.8 631.8,655.9 631.0,656.0 630.8,656.1 629.8,656.2 628.8,656.4 627.8,656.6 626.8,656.7 625.8,656.9 624.8,657.1 623.8,657.3 622.8,657.5 621.8,657.7 620.8,657.9 619.8,658.0 618.8,658.1 617.8,658.2 616.8,658.2 616.1,658.3 615.8,658.3 614.8,658.2 613.8,658.2 612.8,658.2 611.8,658.1 610.8,658.0 609.8,658.0 608.8,657.9 607.8,657.8 606.8,657.7 605.8,657.5 604.8,657.4 603.8,657.3 602.8,657.2 601.8,657.0 600.8,656.9 599.8,656.8 598.8,656.6 597.8,656.5 596.8,656.4 595.8,656.3 594.8,656.1 593.8,656.0 592.8,655.9 591.8,655.9 590.8,655.8 590.7,655.8 589.8,655.7 588.8,655.7 587.8,655.6 586.8,655.5 585.8,655.5 584.8,655.5 583.8,655.4 582.8,655.4 581.8,655.3 580.8,655.3 579.8,655.2 578.8,655.2 577.8,655.2 576.8,655.1 575.8,655.1 574.8,655.0 573.8,655.0 572.8,654.9 571.8,654.9 570.8,654.8 569.8,654.8 568.8,654.7 567.8,654.7 566.8,654.6 565.8,654.5 565.4,654.5 564.8,654.4 563.8,654.3 562.8,654.2 561.8,654.1 560.8,653.9 559.8,653.7 558.8,653.5 557.8,653.3 556.8,653.1 555.8,652.9 554.8,652.8 553.8,652.6 552.8,652.4 551.8,652.3 550.8,652.2 549.8,652.1 548.8,652.1 548.1,652.1 547.8,652.1 546.8,652.0 545.8,652.0 544.8,652.0 543.8,652.0 542.8,652.0 541.8,652.0 540.8,652.0 539.8,652.0 538.8,652.0 537.8,652.0 537.2,652.0 536.8,652.0 535.8,652.1 534.8,652.3 533.8,652.5 532.8,652.8 531.8,653.2 530.8,653.6 529.8,654.1 528.8,654.5 527.8,654.9 526.8,655.4 525.8,655.8 524.8,656.2 524.0,656.5 523.8,656.5 522.8,656.8 521.8,657.2 520.8,657.5 519.8,657.8 518.8,658.1 517.8,658.4 516.8,658.7 515.8,659.0 514.8,659.3 513.8,659.6 512.8,659.9 511.8,660.2 510.8,660.4 510.1,660.6 509.8,660.7 508.8,660.9 507.8,661.1 506.8,661.3 505.8,661.5 504.8,661.7 503.8,661.9 502.8,662.1 501.8,662.3 500.8,662.5 499.8,662.6 498.8,662.8 497.8,663.0 496.8,663.2 496.0,663.3 495.8,663.4 494.8,663.6 493.8,663.8 492.8,664.0 491.8,664.2 490.8,664.4 489.8,664.6 488.8,664.8 487.8,664.9 486.8,665.1 485.8,665.3 484.8,665.5 483.8,665.7 482.9,665.9 482.8,665.9 481.8,666.1 480.8,666.3 479.8,666.5 478.8,666.7 477.8,666.9 476.8,667.2 475.8,667.4 474.8,667.6 473.8,667.8 472.8,668.0 471.8,668.2 470.8,668.4 469.8,668.6 468.8,668.8 467.8,669.0 466.8,669.2 465.8,669.3 464.8,669.4 463.8,669.6 462.8,669.6 462.0,669.7 461.8,669.7 460.8,669.8 459.8,669.9 458.8,669.9 457.8,670.0 456.8,670.0 455.8,670.1 454.8,670.1 453.8,670.1 452.8,670.1 451.9,670.1 451.8,670.1 450.8,670.1 449.8,669.9 448.8,669.7 447.8,669.5 446.8,669.1 445.8,668.7 444.8,668.3 443.8,667.8 443.0,667.4 442.8,667.3 441.8,666.5 440.8,665.3 439.8,664.0 439.5,663.6 438.8,662.4 437.8,660.3 437.0,658.6 436.8,658.1 435.8,655.7 435.0,654.4 434.8,654.2 433.8,653.9 432.8,654.3 431.9,654.5 431.8,654.5 430.8,653.9 429.8,653.1 428.8,653.0 428.5,653.1 427.8,653.5 426.8,654.7 425.8,655.9 424.8,657.1 424.4,657.5 423.8,658.0 422.8,658.7 421.8,659.3 420.8,659.9 420.5,660.1 419.8,660.6 418.8,661.3 417.8,662.0 416.8,662.6 415.8,663.1 414.8,663.5 413.8,663.7 412.8,664.0 411.8,664.2 410.8,664.3 409.8,664.5 408.8,664.6 407.8,664.8 406.8,664.9 405.8,665.0 404.8,665.1 403.8,665.2 402.8,665.3 401.8,665.4 401.5,665.4 400.8,665.5 399.8,665.6 398.8,665.6 397.8,665.7 396.8,665.8 395.8,665.9 394.8,666.0 393.8,666.1 392.8,666.2 391.8,666.3 390.8,666.3 389.8,666.4 388.8,666.5 387.8,666.6 386.8,666.6 385.8,666.7 384.8,666.8 383.8,666.8 382.8,666.9 381.8,666.9 380.8,667.0 379.8,667.0 378.8,667.0 377.8,667.1 376.8,667.1 375.8,667.1 374.8,667.1 374.3,667.1 373.8,667.1 372.8,667.1 371.8,667.1 370.8,667.1 369.8,667.1 368.8,667.1 367.8,667.1 366.8,667.0 365.8,667.0 364.8,667.0 363.8,667.0 362.8,667.0 361.8,667.0 360.8,667.0 359.8,666.9 358.8,666.9 357.8,666.9 356.8,666.9 355.8,666.9 354.8,666.9 353.8,666.8 352.8,666.8 351.8,666.8 350.8,666.8 349.8,666.8 348.8,666.8 347.8,666.8 347.2,666.8 346.8,666.8 345.8,666.8 344.8,666.8 343.8,666.8 342.8,666.8 341.8,666.8 340.8,666.8 339.8,666.8 338.8,666.8 337.8,666.8 336.8,666.8 335.8,666.8 334.8,666.8 333.8,666.8 332.8,666.8 331.8,666.8 330.8,666.8 329.8,666.8 328.8,666.8 327.8,666.8 326.8,666.8 325.8,666.8 324.8,666.8 323.8,666.8 322.8,666.8 321.8,666.8 320.8,666.8 320.0,666.8 319.8,666.8 318.8,666.8 317.8,666.8 316.8,666.8 315.8,666.8 314.8,666.8 313.8,666.9 312.8,666.9 311.8,666.9 310.8,666.9 309.8,666.9 308.8,666.9 308.4,666.9 307.8,666.9 306.8,666.9 305.8,666.8 304.8,666.7 303.8,666.6 302.8,666.4 301.8,666.3 300.8,666.1 299.8,665.9 298.8,665.7 297.8,665.5 296.8,665.3 295.8,665.0 294.8,664.8 293.8,664.5 292.8,664.3 291.8,664.1 290.8,663.8 290.6,663.8 289.8,663.6 288.8,663.3 287.8,663.0 286.8,662.7 285.8,662.4 284.8,662.1 283.8,661.8 282.8,661.5 282.0,661.3 281.8,661.2 280.8,661.0 279.8,660.7 278.8,660.4 277.8,660.1 276.8,659.8 275.8,659.6 274.8,659.4 273.8,659.3 272.9,659.3 272.8,659.3 271.8,659.3 270.8,659.4 269.8,659.5 268.8,659.6 267.8,659.7 266.8,659.9 265.8,660.1 264.8,660.3 263.8,660.4 262.8,660.6 262.0,660.8 261.8,660.8 260.8,661.1 259.8,661.3 258.8,661.6 257.8,662.0 256.8,662.3 255.8,662.7 254.8,663.0 253.8,663.4 252.8,663.7 252.6,663.8 251.8,664.1 250.8,664.4 249.8,664.8 248.8,665.1 247.8,665.4 246.8,665.8 245.8,666.1 245.0,666.3 244.8,666.4 243.8,666.7 242.8,667.0 241.8,667.3 240.8,667.6 239.8,667.8 238.8,668.0 237.8,668.1 237.4,668.1 236.8,668.1 235.8,668.1 234.8,668.1 233.8,668.1 232.8,668.0 231.8,668.0 230.8,668.0 229.8,668.0 228.8,667.9 227.8,667.9 226.8,667.9 225.8,667.8 224.8,667.8 223.8,667.8 222.8,667.7 221.8,667.7 220.8,667.7 219.8,667.7 218.8,667.6 217.8,667.6 216.8,667.6 215.8,667.6 214.8,667.6 214.5,667.6 213.8,667.6 212.8,667.6 211.8,667.6 210.8,667.6 209.8,667.7 208.8,667.7 207.8,667.7 206.8,667.7 205.8,667.8 204.8,667.8 203.8,667.9 202.8,667.9 201.8,667.9 200.8,668.0 199.8,668.0 198.8,668.1 197.8,668.1 196.8,668.2 195.8,668.2 194.8,668.2 193.8,668.3 192.8,668.3 191.8,668.3 190.8,668.4 189.8,668.4 188.8,668.4 187.8,668.4 186.8,668.4 186.6,668.4 185.8,668.4 184.8,668.4 183.8,668.4 182.8,668.4 181.8,668.4 180.8,668.4 179.8,668.4 178.8,668.3 177.8,668.3 176.8,668.3 175.8,668.3 174.8,668.3 173.8,668.3 172.8,668.2 171.8,668.2 170.8,668.2 169.8,668.2 168.8,668.1 167.8,668.1 166.8,668.1 165.8,668.1 164.8,668.0 163.8,668.0 162.8,668.0 161.8,667.9 160.8,667.9 159.8,667.9 158.8,667.9 157.8,667.8 156.8,667.8 155.8,667.8 154.8,667.7 153.8,667.7 152.8,667.7 151.8,667.6 151.1,667.6 150.8,667.6 149.8,667.6 148.8,667.5 147.8,667.5 146.8,667.5 145.8,667.4 144.8,667.4 143.8,667.4 142.8,667.3 141.8,667.3 140.8,667.2 139.8,667.2 138.8,667.1 137.8,667.1 136.8,667.0 135.8,667.0 134.8,666.9 133.8,666.9 132.8,666.8 131.8,666.7 130.8,666.6 129.8,666.5 128.8,666.4 128.3,666.4 127.8,666.3 126.8,666.2 125.8,665.9 124.8,665.6 123.8,665.3 122.8,665.0 122.0,664.8 121.8,664.7 120.8,664.5 119.8,664.1 118.8,663.8 117.8,663.5 116.8,663.3 115.8,663.1 115.1,663.1 114.8,663.1 113.8,663.1 112.8,663.2 111.8,663.3 110.8,663.4 109.8,663.5 108.8,663.7 108.0,663.8 107.8,663.8 106.8,664.0 105.8,664.2 104.8,664.5 103.8,664.7 102.8,665.0 101.8,665.3 100.8,665.5 100.4,665.6 99.8,665.7 98.8,665.9 97.8,666.2 96.8,666.4 95.8,666.6 94.8,666.8 93.8,667.0 92.8,667.2 91.8,667.4 90.8,667.6 89.8,667.8 88.8,668.0 87.8,668.2 86.8,668.3 85.8,668.5 84.8,668.7 83.8,668.9 82.8,669.0 81.8,669.2 80.8,669.4 79.8,669.5 78.8,669.7" fill="#1512e6" stroke="#1512e6" stroke-width="2.4" stroke-linejoin="round"/>
<polyline points="79.8,239.0 80.8,238.8 81.8,238.6 82.8,238.4 83.8,238.2 84.8,238.0 85.8,237.7 86.8,237.5 87.8,237.3 88.8,237.0 89.8,236.8 90.8,236.5 91.8,236.3 92.0,236.2 92.8,236.0 93.8,235.7 94.8,235.4 95.8,235.2 96.8,234.9 97.8,234.6 98.8,234.2 99.8,233.9 100.8,233.6 101.8,233.2 102.3,233.0 102.8,232.8 103.8,232.4 104.8,232.0 105.8,231.5 106.8,231.0 107.8,230.4 108.8,229.8 109.2,229.5 109.8,229.0 110.8,227.8 111.8,226.5 112.6,225.5 112.8,225.3 113.8,223.8 114.8,222.6 115.3,222.4 115.8,222.5 116.8,223.3 117.8,224.5 118.7,225.5 118.8,225.6 119.8,226.6 120.8,227.7 121.8,228.7 122.8,229.8 123.8,230.7 124.2,231.0 124.8,231.5 125.8,232.2 126.8,232.9 127.8,233.6 128.8,234.3 129.8,234.8 130.8,235.3 131.8,235.8 132.4,236.0 132.8,236.1 133.8,236.5 134.8,236.8 135.8,237.1 136.8,237.3 137.8,237.5 138.8,237.6 139.2,237.6 139.8,237.6 140.8,237.6 141.8,237.6 142.8,237.6 143.8,237.6 144.8,237.5 145.8,237.5 146.8,237.5 147.8,237.5 148.8,237.4 149.8,237.4 150.8,237.4 151.8,237.3 152.8,237.3 153.8,237.3 154.8,237.2 155.8,237.2 156.8,237.1 157.8,237.1 158.7,237.0 158.8,237.0 159.8,236.9 160.8,236.7 161.8,236.5 162.8,236.2 163.8,235.9 164.8,235.6 165.8,235.2 166.8,234.9 167.8,234.6 168.8,234.3 169.8,234.0 170.0,234.0 170.8,233.8 171.8,233.6 172.8,233.4 173.8,233.1 174.8,232.9 175.8,232.7 176.8,232.5 177.8,232.3 178.8,232.2 179.8,232.1 180.8,232.0 181.5,232.0 181.8,232.0 182.8,232.1 183.8,232.3 184.8,232.5 185.8,232.9 186.8,233.2 187.8,233.6 188.8,234.0 189.8,234.3 190.8,234.7 191.8,235.0 192.0,235.0 192.8,235.2 193.8,235.5 194.8,235.7 195.8,236.0 196.8,236.3 197.8,236.5 198.8,236.7 199.8,236.9 200.8,237.0 201.8,237.0 202.8,237.0 203.8,236.9 204.8,236.9 205.8,236.8 206.8,236.7 207.8,236.6 208.8,236.4 209.8,236.3 210.8,236.2 211.8,236.0 212.0,236.0 212.8,235.9 213.8,235.6 214.8,235.3 215.8,234.9 216.8,234.6 217.8,234.3 218.8,234.1 219.8,234.0 220.1,234.0 220.8,234.0 221.8,234.2 222.8,234.6 223.8,235.0 224.8,235.5 225.8,236.0 226.8,236.5 227.8,236.9 228.0,237.0 228.8,237.3 229.8,237.8 230.8,238.4 231.8,238.9 232.8,239.5 233.8,240.0 234.8,240.4 235.8,240.7 236.8,240.9 237.4,240.9 237.8,240.9 238.8,240.8 239.8,240.6 240.8,240.3 241.8,240.0 242.8,239.7 243.8,239.3 244.8,238.9 245.8,238.6 246.0,238.5 246.8,238.2 247.8,237.7 248.8,237.2 249.8,236.6 250.8,236.1 251.8,235.7 252.8,235.4 253.8,235.3 254.8,235.3 255.8,235.3 256.8,235.4 257.8,235.4 258.8,235.5 259.8,235.6 260.8,235.6 261.8,235.7 262.8,235.8 263.8,235.9 264.8,236.0 265.8,236.1 266.8,236.2 267.8,236.3 268.8,236.4 269.8,236.5 270.8,236.6 271.8,236.7 272.8,236.8 273.8,236.9 274.8,236.9 275.8,237.0 276.8,237.0 277.8,237.0 278.0,237.0 278.8,237.0 279.8,236.9 280.8,236.9 281.8,236.7 282.8,236.6 283.8,236.4 284.8,236.3 285.8,236.1 286.8,235.9 287.8,235.7 288.8,235.5 289.8,235.3 290.8,235.2 291.8,235.0 292.0,235.0 292.8,234.9 293.8,234.7 294.8,234.6 295.8,234.4 296.8,234.2 297.8,234.0 298.8,233.8 299.8,233.7 300.8,233.6 301.8,233.4 302.8,233.4 303.8,233.3 304.6,233.3 304.8,233.3 305.8,233.3 306.8,233.4 307.8,233.4 308.8,233.5 309.8,233.6 310.8,233.7 311.8,233.8 312.8,234.0 313.8,234.1 314.8,234.2 315.8,234.3 316.8,234.4 317.8,234.5 318.8,234.6 319.8,234.7 320.0,234.7 320.8,234.7 321.8,234.8 322.8,234.8 323.8,234.9 324.8,234.9 325.8,235.0 326.8,235.0 327.8,235.1 328.8,235.1 329.8,235.1 330.8,235.2 331.8,235.2 332.8,235.2 333.8,235.3 334.8,235.3 335.8,235.3 336.8,235.3 337.8,235.4 338.8,235.4 339.8,235.4 340.8,235.4 341.8,235.4 342.5,235.4 342.8,235.4 343.8,235.0 344.8,234.4 345.8,233.4 346.8,232.2 347.8,231.0 348.8,229.6 349.8,228.3 350.8,227.2 351.8,226.2 352.0,226.0 352.8,225.3 353.8,224.4 354.8,223.5 355.8,222.6 356.8,221.7 357.8,220.8 358.8,219.9 359.8,219.2 360.8,218.5 361.8,217.9 362.8,217.5 363.8,217.2 364.8,217.1 364.9,217.1 365.8,217.1 366.8,217.2 367.8,217.3 368.8,217.5 369.8,217.7 370.8,218.0 371.8,218.3 372.8,218.6 373.8,219.0 374.8,219.4 375.8,219.8 376.8,220.2 377.8,220.7 378.8,221.1 379.8,221.6 380.8,222.0 381.8,222.5 382.8,222.9 383.8,223.3 384.2,223.5 384.8,223.8 385.8,224.3 386.8,224.8 387.8,225.5 388.8,226.2 389.8,226.9 390.8,227.6 391.8,228.4 392.8,229.1 393.8,229.9 394.8,230.6 395.8,231.3 396.8,231.9 397.8,232.5 398.8,233.0 399.8,233.4 400.8,233.8 401.8,234.0 402.8,234.1 403.4,234.1 403.8,234.1 404.8,234.0 405.8,233.9 406.8,233.7 407.8,233.5 408.0,233.5 408.8,233.3 409.8,232.9 410.8,232.5 411.8,232.1 412.0,232.0 412.8,231.6 413.8,231.1 414.8,230.4 415.8,229.7 416.8,228.8 417.8,227.8 418.8,226.6 419.8,225.1 420.1,224.7 420.3,224.3 420.6,223.8 420.8,223.3 421.1,222.8 421.3,222.3 421.6,221.7 421.8,221.1 422.1,220.5 422.3,219.8 422.6,219.1 422.8,218.3 423.1,217.5 423.3,216.6 423.6,215.7 423.8,214.7 424.1,213.6 424.3,212.4 424.6,211.2 424.8,209.8 425.1,208.4 425.3,206.8 425.6,205.1 425.8,203.3 426.1,201.3 426.3,199.2 426.6,196.9 426.8,194.4 427.1,191.7 427.3,188.8 427.6,185.6 427.8,182.2 428.1,178.6 428.3,174.7 428.6,170.5 428.8,166.1 429.1,161.5 429.3,156.7 429.6,151.7 429.8,146.8 430.1,141.8 430.3,137.1 430.6,132.7 430.8,128.9 431.1,125.6 431.3,123.2 431.6,121.7 431.8,121.2 432.1,121.7 432.3,123.3 432.6,125.8 432.8,129.0 433.1,133.0 433.3,137.4 433.6,142.2 433.8,147.2 434.1,152.2 434.3,157.2 434.6,162.0 434.8,166.7 435.1,171.2 435.3,175.4 435.6,179.4 435.8,183.2 436.1,186.6 436.3,189.9 436.6,192.9 436.8,195.7 437.1,198.2 437.3,200.6 437.6,202.9 437.8,204.9 438.1,206.8 438.3,208.6 438.6,210.3 438.8,211.8 439.1,213.3 439.3,214.6 439.6,215.9 439.8,217.1 440.1,218.2 440.3,219.2 440.6,220.2 440.8,221.2 441.1,222.0 441.3,222.9 441.6,223.7 441.8,224.4 442.1,225.1 442.3,225.8 442.6,226.4 442.8,227.1 443.1,227.7 443.3,228.2 443.6,228.7 443.8,229.3 444.8,231.1 445.8,232.6 446.8,233.9 447.8,234.9 448.8,235.8 449.8,236.4 450.8,237.0 451.8,237.4 452.8,237.7 453.8,238.0 454.0,238.0 454.8,238.2 455.8,238.6 456.8,239.0 457.8,239.4 458.8,239.9 459.8,240.2 460.8,240.4 461.2,240.5 461.8,240.6 462.8,240.7 463.8,240.7 464.8,240.8 465.8,240.9 466.8,241.0 467.8,241.0 468.8,241.1 469.8,241.1 470.8,241.2 471.8,241.2 472.8,241.2 473.8,241.2 474.0,241.2 474.8,241.2 475.8,241.1 476.8,241.0 477.8,240.8 478.8,240.6 479.8,240.3 480.8,240.1 481.8,239.8 482.8,239.5 483.8,239.3 484.8,239.0 485.0,239.0 485.8,238.8 486.8,238.5 487.8,238.3 488.8,237.9 489.8,237.6 490.8,237.3 491.8,237.0 492.8,236.8 493.8,236.6 494.8,236.4 495.8,236.3 496.5,236.3 496.8,236.3 497.8,236.3 498.8,236.3 499.8,236.3 500.8,236.4 501.8,236.4 502.8,236.4 503.8,236.4 504.8,236.5 505.8,236.5 506.8,236.5 507.8,236.5 508.0,236.5 508.8,236.5 509.8,236.5 510.8,236.5 511.8,236.5 512.8,236.5 513.8,236.4 514.8,236.4 515.8,236.4 516.8,236.4 517.8,236.3 518.8,236.3 518.9,236.3 519.8,236.1 520.8,235.6 521.8,234.9 522.8,234.0 523.8,233.0 524.8,232.0 525.3,231.5 525.8,231.0 526.8,229.7 527.8,228.3 528.8,226.8 529.8,225.4 530.8,224.2 531.0,224.0 531.8,223.1 532.8,222.0 533.8,220.9 534.8,219.9 535.8,219.0 536.8,218.4 537.8,218.0 538.2,218.0 538.8,218.0 539.8,218.3 540.8,218.6 541.8,219.1 542.8,219.7 543.8,220.3 544.8,220.9 545.8,221.4 546.0,221.5 546.8,221.9 547.8,222.5 548.8,223.0 549.8,223.6 550.8,224.1 551.8,224.4 552.8,224.6 553.0,224.6 553.8,224.6 554.8,224.5 555.8,224.3 556.8,224.2 557.8,224.0 558.8,223.9 559.4,223.9 559.8,223.9 560.8,224.3 561.8,225.0 562.8,226.0 563.8,227.2 564.8,228.4 565.8,229.6 566.8,230.7 567.8,231.6 568.8,232.2 569.8,232.4 570.8,232.3 571.8,231.9 572.8,231.4 573.8,230.8 574.8,230.2 575.8,229.6 576.8,229.1 577.0,229.0 577.8,228.6 578.8,228.1 579.8,227.6 580.8,227.1 581.8,226.6 582.8,226.2 583.8,225.9 584.8,225.7 585.4,225.7 585.8,225.7 586.8,226.1 587.8,226.7 588.8,227.4 589.8,228.2 590.8,228.9 591.0,229.0 591.8,229.4 592.8,230.1 593.8,230.7 594.8,231.3 595.8,231.8 596.8,232.2 597.8,232.4 598.3,232.4 598.8,232.4 599.8,232.4 600.8,232.4 601.8,232.4 602.8,232.4 603.8,232.3 604.8,232.3 605.8,232.3 606.8,232.3 607.8,232.2 608.8,232.2 609.8,232.2 610.8,232.1 611.8,232.1 612.8,232.1 613.8,232.1 614.8,232.0 615.8,232.0 616.8,232.0 617.8,232.0 618.8,231.9 619.8,231.9 620.8,231.9 621.8,231.9 622.8,231.9 622.9,231.9 623.8,231.9 624.8,232.0 625.8,232.1 626.8,232.3 627.8,232.5 628.8,232.7 629.8,232.9 630.8,233.1 631.8,233.4 632.8,233.7 633.8,233.9 634.8,234.1 635.8,234.4 636.8,234.6 637.8,234.7 638.8,234.9 639.8,235.0 640.8,235.0 641.1,235.0 641.8,235.0 642.8,235.0 643.8,235.0 644.8,235.0 645.8,234.9 646.8,234.9 647.8,234.9 648.8,234.8 649.8,234.8 650.8,234.7 651.8,234.7 652.8,234.6 653.8,234.5 654.8,234.5 655.8,234.4 656.8,234.4 657.8,234.3 658.8,234.2 659.2,234.2 659.8,234.2 660.8,234.1 661.8,234.0 662.8,233.8 663.8,233.7 664.8,233.5 665.8,233.4 666.8,233.2 667.8,233.1 668.8,232.9 669.8,232.7 670.8,232.6 671.8,232.5 672.8,232.4 673.8,232.3 674.8,232.2 675.8,232.1 676.8,232.1 677.8,232.0 678.8,232.0 679.8,231.9 680.8,231.9 681.8,231.8 682.8,231.8 683.8,231.7 684.8,231.7 685.8,231.7 686.8,231.6 687.8,231.6 688.8,231.6 689.8,231.6 690.3,231.6 690.8,231.6 691.8,231.8 692.8,232.1 693.8,232.5 694.8,232.9 695.8,233.4 696.8,233.9 697.8,234.4 698.8,234.9 699.0,235.0 699.8,235.4 700.8,235.9 701.8,236.4 702.8,237.0 703.8,237.6 704.8,238.1 705.8,238.6 706.8,239.0 707.8,239.3 708.5,239.4 708.8,239.4 709.8,239.5 710.8,239.6 711.8,239.7 712.8,239.7 713.8,239.8 714.8,239.8 715.8,239.9 716.8,239.9 717.8,239.9 718.8,240.0 719.8,240.1 720.8,240.1 721.4,240.2 721.8,240.2 722.8,240.4 723.8,240.6 724.8,240.9 725.8,241.2 726.8,241.4 727.8,241.7 728.8,241.9 729.8,242.0 730.5,242.0 730.8,242.0 731.8,241.9 732.8,241.6 733.8,241.3 734.8,240.9 735.8,240.4 736.8,239.8 737.8,239.2 738.8,238.6 739.6,238.1 739.8,238.0 740.8,237.2 741.8,236.2 742.8,235.2 743.8,234.1 744.8,233.1 745.8,232.2 746.0,232.0 746.8,231.4 747.8,230.5 748.8,229.6 749.8,228.9 750.8,228.3 751.8,227.9 752.5,227.8 752.8,227.8 753.8,227.9 754.8,228.1 755.8,228.5 756.8,228.8 757.8,229.1 758.8,229.4 759.0,229.5 759.8,229.7 760.8,230.1 761.8,230.4 762.8,230.8 763.8,231.1 764.8,231.4 765.8,231.5 766.8,231.6 767.8,231.5 768.8,231.2 769.8,230.8 770.8,230.4 771.8,229.9 772.8,229.6 773.0,229.5 773.8,229.3 774.8,228.9 775.8,228.6 776.8,228.3 777.8,228.0 778.8,227.9 779.8,227.8 780.8,228.0 781.8,228.4 782.8,229.0 783.8,229.6 784.8,230.3 785.8,230.9 786.0,231.0 786.8,231.4 787.8,231.9 788.8,232.5 789.8,233.0 790.8,233.5 791.8,233.9 792.7,234.2 792.8,234.2 793.8,234.6 794.8,234.9 795.8,235.2 796.8,235.5 797.8,235.7 798.8,235.9 799.8,236.1 800.7,236.1 800.8,236.1 801.8,235.9 802.8,235.5 803.8,235.0 804.8,234.5 805.8,234.1 806.0,234.0 806.8,233.7 807.8,233.4 808.8,233.1 809.8,232.8 810.8,232.6 811.8,232.4 812.4,232.4 812.8,232.4 813.8,232.6 814.8,232.9 815.8,233.2 816.8,233.6 817.8,233.9 818.0,234.0 818.8,234.2 819.8,234.5 820.8,234.7 821.8,234.9 822.8,235.2 823.8,235.4 824.1,235.5 824.8,235.7 825.8,236.0 826.8,236.3 827.8,236.6 828.8,236.9 829.8,237.2 830.8,237.5 831.8,237.7 832.8,238.0 833.0,238.0 833.8,238.2 834.8,238.4 835.8,238.6 836.8,238.8 837.8,239.0 838.8,239.1 839.8,239.3 840.8,239.3 841.8,239.4 842.2,239.4 842.8,239.4 843.8,239.4 844.8,239.3 845.8,239.3 846.8,239.2 847.8,239.1 848.8,239.0 849.8,238.9 850.8,238.8 851.8,238.6 852.8,238.5 853.8,238.3 854.8,238.2 855.2,238.1 855.8,238.0 856.8,237.7 857.8,237.4 858.8,237.1 859.8,236.6 860.8,236.2 861.8,235.7 862.8,235.2 863.8,234.6 864.8,234.1 865.8,233.6 866.8,233.0 867.8,232.5 868.1,232.4 868.8,232.1 869.8,231.6 870.8,231.2 871.8,230.8 872.8,230.4 873.8,230.1 874.8,229.6 875.8,229.2 876.8,228.8 877.8,228.3 878.8,227.7 879.8,227.1 880.8,226.4 881.8,225.7 882.4,225.2 882.8,224.8 883.8,223.5 884.8,221.9 885.8,220.1 886.8,218.3 887.0,218.0 887.8,216.5 888.8,214.4 889.8,212.6 890.8,211.7 890.9,211.7 891.8,212.1 892.8,213.4 893.8,214.9 894.8,216.3 895.0,216.5 895.8,217.3 896.8,218.3 897.8,219.2 898.8,219.8 899.2,220.0 899.8,220.2 900.8,220.6 901.8,220.9 902.8,221.2 903.8,221.4 904.8,221.7 905.8,221.9 906.8,222.1 907.8,222.3 908.8,222.4 909.8,222.5 910.8,222.6 911.8,222.6 912.2,222.6 912.8,222.6 913.8,222.5 914.8,222.5 915.8,222.3 916.8,222.2 917.8,222.0 918.8,221.7 919.8,221.5 920.8,221.2 921.8,220.8 922.8,220.4 923.8,220.0 923.9,220.0 924.8,219.3 925.8,218.1 926.8,216.5 927.8,214.9 928.5,214.0 928.8,213.6 929.8,212.2 930.8,210.8 931.8,209.6 932.8,209.1 932.9,209.1 933.8,209.6 934.8,211.0 935.8,212.9 936.8,214.7 937.0,215.0 937.8,216.3 938.8,218.2 939.8,220.1 940.8,222.0 941.8,223.6 942.8,224.8 943.3,225.2 943.8,225.5 944.8,226.0 945.8,226.5 946.8,226.9 947.8,227.3 948.8,227.6 949.8,227.9 950.8,228.2 951.8,228.5 952.8,228.7 953.8,228.9 954.8,229.2 955.8,229.5 956.8,229.7 957.8,230.0 958.8,230.4 959.8,230.8 960.8,231.2 961.8,231.7 962.8,232.2 963.8,232.8 964.8,233.3 965.8,233.9 966.8,234.4 967.8,235.0 968.8,235.5 969.8,236.1 970.8,236.6 971.8,237.0 972.8,237.4 973.8,237.8 974.8,238.1 975.8,238.3 976.8,238.5 977.8,238.6 978.3,238.6 978.8,238.6 979.8,238.6 980.8,238.6 981.8,238.6 982.8,238.5 983.8,238.5 984.8,238.5 985.8,238.4 986.8,238.4 987.8,238.4 988.8,238.3 989.8,238.3 990.8,238.2 991.8,238.1 992.5,238.1 992.8,238.1 993.8,238.0 994.8,237.9 995.8,237.7 996.8,237.6 997.8,237.4 998.8,237.1 999.8,236.9 1000.8,236.6 1001.8,236.4 1002.8,236.1 1003.8,235.8 1004.8,235.4 1005.8,235.1 1006.8,234.8" fill="none" stroke="#e2111f" stroke-width="3.2" stroke-linejoin="round" stroke-linecap="round"/>
<polyline points="79.8,340.2 80.8,340.0 81.8,339.8 82.8,339.5 83.8,339.3 84.8,339.0 85.8,338.8 86.8,338.5 87.8,338.2 88.8,337.9 89.8,337.6 90.8,337.3 91.8,337.0 92.8,336.6 93.8,336.3 94.8,335.9 95.5,335.7 95.8,335.6 96.8,335.2 97.8,334.9 98.8,334.5 99.8,334.2 100.8,333.8 101.8,333.4 102.8,332.9 103.8,332.4 104.8,331.9 105.8,331.4 106.4,331.0 106.8,330.7 107.8,329.9 108.8,328.9 109.8,327.9 110.8,326.8 111.8,325.9 111.9,325.8 112.8,324.9 113.8,324.0 114.8,323.3 115.3,323.2 115.8,323.3 116.8,323.9 117.8,325.0 118.8,326.1 119.8,327.2 120.1,327.5 120.8,328.1 121.8,329.0 122.8,329.9 123.8,330.7 124.8,331.5 125.8,332.3 126.8,332.9 126.9,333.0 127.8,333.5 128.8,334.1 129.8,334.6 130.8,335.1 131.8,335.6 132.8,336.0 133.8,336.4 134.8,336.6 135.1,336.7 135.8,336.8 136.8,337.0 137.8,337.2 138.8,337.4 139.8,337.5 140.8,337.7 141.8,337.7 142.8,337.8 143.3,337.8 143.8,337.8 144.8,337.8 145.8,337.8 146.8,337.8 147.8,337.8 148.8,337.8 149.8,337.8 150.8,337.8 151.8,337.8 152.8,337.8 153.8,337.8 154.8,337.8 155.8,337.8 156.8,337.8 157.0,337.8 157.8,337.8 158.8,337.7 159.8,337.6 160.8,337.5 161.8,337.3 162.8,337.1 163.8,336.9 164.8,336.7 165.8,336.4 166.8,336.2 167.8,336.0 168.0,336.0 168.8,335.8 169.8,335.6 170.8,335.4 171.8,335.1 172.8,334.9 173.8,334.6 174.8,334.4 175.8,334.1 176.8,333.9 177.8,333.8 178.8,333.7 179.8,333.6 180.2,333.6 180.8,333.6 181.8,333.7 182.8,333.9 183.8,334.1 184.8,334.3 185.8,334.6 186.8,334.9 187.8,335.2 188.8,335.5 189.8,335.7 190.8,336.0 191.0,336.0 191.8,336.2 192.8,336.3 193.8,336.5 194.8,336.7 195.8,336.9 196.8,337.0 197.8,337.1 198.0,337.1 198.8,337.1 199.8,337.2 200.8,337.2 201.8,337.2 202.8,337.3 203.8,337.3 204.8,337.3 205.8,337.3 206.8,337.3 207.8,337.3 208.8,337.4 209.8,337.4 210.8,337.4 211.8,337.4 212.8,337.4 213.8,337.5 214.3,337.5 214.8,337.5 215.8,337.6 216.8,337.6 217.8,337.7 218.8,337.8 219.8,337.9 220.8,338.0 221.8,338.1 222.8,338.2 223.8,338.4 224.8,338.5 225.8,338.6 226.8,338.8 227.8,339.0 228.0,339.0 228.8,339.2 229.8,339.5 230.8,339.9 231.8,340.3 232.8,340.7 233.8,340.9 234.8,341.0 235.8,340.9 236.8,340.7 237.8,340.5 238.8,340.1 239.8,339.8 240.8,339.4 241.8,339.1 242.0,339.0 242.8,338.8 243.8,338.4 244.8,338.1 245.8,337.8 246.8,337.4 247.8,337.1 248.8,336.8 249.8,336.5 250.8,336.3 251.8,336.0 252.0,336.0 252.8,335.9 253.8,335.7 254.8,335.5 255.8,335.3 256.8,335.2 257.8,335.0 258.8,334.8 259.8,334.7 260.8,334.6 261.8,334.5 262.8,334.4 263.8,334.3 264.8,334.2 265.8,334.2 266.5,334.2 266.8,334.2 267.8,334.3 268.8,334.3 269.8,334.5 270.8,334.7 271.8,334.9 272.8,335.1 273.8,335.3 274.8,335.5 275.8,335.7 276.8,335.8 277.8,336.0 278.0,336.0 278.8,336.1 279.8,336.2 280.8,336.3 281.8,336.4 282.8,336.5 283.8,336.6 284.8,336.7 285.8,336.8 286.8,336.8 287.8,336.9 288.8,336.9 289.8,337.0 290.6,337.0 290.8,337.0 291.8,337.0 292.8,337.0 293.8,337.1 294.8,337.1 295.8,337.1 296.8,337.1 297.8,337.2 298.8,337.2 299.8,337.2 300.8,337.2 301.8,337.2 302.8,337.2 303.8,337.3 304.8,337.3 305.8,337.3 306.8,337.3 307.8,337.3 308.8,337.3 309.8,337.3 310.8,337.4 311.8,337.4 312.8,337.4 313.8,337.4 314.8,337.4 315.8,337.4 316.8,337.4 317.8,337.4 318.8,337.4 319.8,337.4 320.8,337.5 321.8,337.5 322.8,337.5 323.8,337.5 324.8,337.5 325.8,337.5 326.8,337.5 327.8,337.5 328.8,337.5 329.8,337.5 330.8,337.5 331.8,337.5 332.8,337.5 333.8,337.5 334.8,337.5 335.0,337.5 335.8,337.5 336.8,337.5 337.8,337.5 338.8,337.5 339.8,337.5 340.8,337.4 341.8,337.4 342.5,337.4 342.8,337.4 343.8,337.1 344.8,336.4 345.8,335.6 346.8,334.5 347.8,333.4 348.8,332.2 349.8,331.1 350.8,330.0 351.8,329.1 352.0,329.0 352.8,328.4 353.8,327.7 354.8,326.9 355.8,326.1 356.8,325.3 357.8,324.5 358.8,323.8 359.8,323.2 360.8,322.6 361.8,322.1 362.8,321.8 363.8,321.5 364.8,321.4 365.0,321.4 365.8,321.4 366.8,321.5 367.8,321.6 368.8,321.7 369.8,321.9 370.8,322.1 371.8,322.4 372.8,322.7 373.8,323.0 374.8,323.3 375.8,323.6 376.8,324.0 377.8,324.3 378.8,324.7 379.8,325.0 380.8,325.4 381.8,325.8 382.8,326.1 383.8,326.4 384.0,326.5 384.8,326.8 385.8,327.2 386.8,327.6 387.8,328.1 388.8,328.6 389.8,329.1 390.8,329.6 391.8,330.2 392.8,330.7 393.8,331.2 394.8,331.7 395.8,332.2 396.8,332.7 397.8,333.1 398.8,333.4 399.8,333.7 400.8,334.0 401.8,334.1 402.8,334.2 403.4,334.2 403.8,334.2 404.8,334.1 405.8,334.0 406.8,333.9 407.8,333.7 408.8,333.5 409.0,333.5 409.8,333.3 410.8,332.9 411.8,332.5 412.8,332.1 413.0,332.0 413.8,331.6 414.8,331.1 415.8,330.5 416.8,329.7 417.8,328.9 418.8,327.9 419.8,326.7 420.1,326.3 420.4,326.0 420.6,325.6 420.8,325.3 420.9,325.2 421.1,324.8 421.4,324.4 421.6,323.9 421.8,323.5 421.9,323.4 422.1,322.9 422.4,322.4 422.6,321.8 422.8,321.3 422.9,321.2 423.1,320.5 423.4,319.8 423.6,319.1 423.8,318.4 423.9,318.3 424.1,317.4 424.4,316.5 424.6,315.5 424.8,314.7 424.9,314.5 425.1,313.4 425.4,312.2 425.6,310.8 425.8,309.7 425.9,309.4 426.1,307.9 426.4,306.3 426.6,304.5 426.8,303.0 426.9,302.6 427.1,300.6 427.4,298.4 427.6,296.0 427.8,294.0 427.9,293.5 428.1,290.8 428.4,287.9 428.6,284.8 428.8,282.2 428.9,281.5 429.1,278.1 429.4,274.5 429.6,270.8 429.8,267.8 429.9,267.1 430.1,263.4 430.4,259.7 430.6,256.2 430.8,253.6 430.9,253.0 431.1,250.2 431.4,247.8 431.6,246.1 431.8,245.2 431.9,245.0 432.1,244.7 432.4,245.1 432.6,246.2 432.8,247.6 432.9,248.0 433.1,250.4 433.4,253.3 433.6,256.5 433.8,259.4 433.9,260.1 434.1,263.8 434.4,267.6 434.6,271.4 434.8,274.4 434.9,275.2 435.1,278.8 435.4,282.3 435.6,285.6 435.8,288.2 435.9,288.8 436.1,291.8 436.4,294.6 436.6,297.2 436.8,299.2 436.9,299.6 437.1,301.9 437.4,304.1 437.6,306.0 437.8,307.5 437.9,307.9 438.1,309.6 438.4,311.2 438.6,312.7 438.8,313.8 438.9,314.1 439.1,315.4 439.4,316.7 439.6,317.8 439.8,318.7 439.9,318.9 440.1,319.9 440.4,320.9 440.6,321.8 440.8,322.4 440.9,322.6 441.1,323.4 441.4,324.2 441.6,324.9 441.8,325.4 441.9,325.6 442.1,326.2 442.4,326.8 442.6,327.4 442.8,327.9 442.9,328.0 443.1,328.5 443.4,329.0 443.6,329.5 443.8,329.9 443.9,330.0 444.8,331.6 445.8,333.0 446.8,334.1 447.8,335.1 448.8,335.9 449.8,336.5 450.8,336.9 451.8,337.3 452.8,337.5 453.8,337.7 454.8,337.9 455.8,338.0 456.0,338.0 456.8,338.1 457.8,338.2 458.8,338.3 459.8,338.4 460.8,338.5 461.8,338.6 462.8,338.7 463.8,338.8 464.8,338.9 465.8,339.0 466.8,339.0 467.6,339.0 467.8,339.0 468.8,339.0 469.8,338.9 470.8,338.9 471.8,338.8 472.8,338.7 473.8,338.6 474.8,338.5 475.8,338.4 476.8,338.3 477.8,338.2 478.8,338.1 479.8,338.0 480.0,338.0 480.8,337.9 481.8,337.8 482.8,337.7 483.8,337.6 484.8,337.5 485.8,337.5 486.8,337.4 487.8,337.2 488.8,337.1 489.8,337.0 490.8,336.9 491.8,336.8 492.8,336.7 493.8,336.6 494.8,336.5 495.8,336.4 496.8,336.3 497.8,336.2 498.8,336.1 499.8,336.0 500.0,336.0 500.8,335.9 501.8,335.8 502.8,335.8 503.8,335.7 504.8,335.6 505.8,335.6 506.8,335.5 507.8,335.4 508.8,335.4 509.8,335.3 510.8,335.2 511.8,335.1 512.8,335.0 513.8,334.9 514.8,334.8 515.8,334.7 516.8,334.5 517.8,334.4 518.8,334.2 518.9,334.2 519.8,334.0 520.8,333.5 521.8,333.0 522.8,332.4 523.8,331.7 524.8,330.9 525.8,330.2 526.0,330.0 526.8,329.3 527.8,328.3 528.8,327.3 529.8,326.2 530.8,325.1 531.8,324.2 532.0,324.0 532.8,323.3 533.8,322.4 534.8,321.5 535.8,320.7 536.8,320.1 537.8,319.8 538.2,319.8 538.8,319.8 539.8,320.0 540.8,320.2 541.8,320.5 542.8,320.9 543.8,321.2 544.8,321.6 545.8,321.9 546.0,322.0 546.8,322.2 547.8,322.5 548.8,322.9 549.8,323.2 550.8,323.5 551.8,323.8 552.8,324.1 553.8,324.4 554.8,324.7 555.6,325.0 555.8,325.1 556.8,325.4 557.8,325.7 558.8,326.0 559.8,326.3 560.8,326.6 561.8,326.9 562.0,327.0 562.8,327.3 563.8,327.9 564.8,328.5 565.8,329.1 566.8,329.8 567.8,330.4 568.8,330.9 569.8,331.2 570.8,331.4 571.1,331.4 571.8,331.3 572.8,331.1 573.8,330.6 574.8,330.1 575.8,329.6 576.8,329.0 577.8,328.6 578.0,328.5 578.8,328.2 579.8,327.8 580.8,327.4 581.8,327.0 582.8,326.7 583.8,326.5 584.8,326.3 585.4,326.3 585.8,326.3 586.8,326.5 587.8,326.9 588.8,327.4 589.8,327.9 590.8,328.4 591.0,328.5 591.8,328.8 592.8,329.3 593.8,329.9 594.8,330.4 595.8,330.8 596.8,331.2 597.8,331.4 598.3,331.4 598.8,331.4 599.8,331.4 600.8,331.3 601.8,331.3 602.8,331.2 603.8,331.2 604.8,331.1 605.8,331.0 606.8,330.9 607.8,330.8 608.8,330.8 609.8,330.7 610.8,330.6 611.8,330.5 612.0,330.5 612.8,330.4 613.8,330.4 614.8,330.3 615.8,330.2 616.8,330.1 617.8,330.0 618.8,329.9 619.8,329.8 620.8,329.8 621.8,329.7 622.8,329.6 623.8,329.5 624.8,329.5 625.8,329.4 626.8,329.4 627.8,329.4 628.1,329.4 628.8,329.4 629.8,329.5 630.8,329.5 631.8,329.6 632.8,329.7 633.8,329.9 634.8,330.0 635.8,330.1 636.8,330.2 637.8,330.3 638.8,330.4 639.8,330.5 640.0,330.5 640.8,330.5 641.8,330.6 642.8,330.6 643.8,330.6 644.8,330.7 645.8,330.7 646.8,330.7 647.8,330.7 648.8,330.8 649.8,330.8 650.8,330.8 651.8,330.8 652.8,330.9 653.8,330.9 654.0,330.9 654.8,330.9 655.8,331.0 656.8,331.0 657.8,331.0 658.8,331.0 659.8,331.1 660.8,331.1 661.8,331.1 662.8,331.2 663.8,331.2 664.8,331.2 665.8,331.3 666.8,331.3 667.8,331.3 668.8,331.4 669.8,331.4 670.8,331.4 671.8,331.5 672.0,331.5 672.8,331.5 673.8,331.6 674.8,331.6 675.8,331.7 676.8,331.7 677.8,331.8 678.8,331.8 679.8,331.9 680.8,331.9 681.8,332.0 682.8,332.0 683.8,332.1 684.8,332.2 685.8,332.3 686.8,332.3 687.8,332.4 688.8,332.5 689.8,332.6 690.3,332.7 690.8,332.8 691.8,333.0 692.8,333.2 693.8,333.5 694.8,333.9 695.8,334.3 696.8,334.7 697.8,335.1 698.8,335.5 699.8,335.9 700.0,336.0 700.8,336.3 701.8,336.7 702.8,337.2 703.8,337.7 704.8,338.2 705.8,338.7 706.8,339.1 707.8,339.5 708.8,339.9 709.8,340.2 710.8,340.4 711.1,340.5 711.8,340.6 712.8,340.8 713.8,340.9 714.8,341.0 715.8,341.2 716.8,341.3 717.8,341.4 718.8,341.5 719.8,341.6 720.8,341.7 721.8,341.8 722.8,341.9 723.8,342.0 724.8,342.1 725.8,342.1 726.8,342.2 727.8,342.2 728.8,342.3 729.8,342.3 730.8,342.3 731.8,342.3 732.8,342.2 733.8,342.1 734.8,341.8 735.8,341.5 736.8,341.1 737.8,340.6 738.8,340.1 739.8,339.6 740.0,339.5 740.8,339.0 741.8,338.1 742.8,337.1 743.8,336.0 744.8,335.1 745.0,335.0 745.8,334.4 746.8,333.6 747.8,332.9 748.8,332.2 749.8,331.7 750.8,331.4 751.2,331.4 751.8,331.4 752.8,331.6 753.8,331.9 754.8,332.3 755.8,332.7 756.8,333.1 757.8,333.4 758.0,333.5 758.8,333.7 759.8,334.0 760.8,334.4 761.8,334.7 762.8,334.9 763.8,335.1 764.8,335.3 765.5,335.3 765.8,335.3 766.8,335.1 767.8,334.8 768.8,334.3 769.8,333.9 770.8,333.4 771.8,333.1 772.0,333.0 772.8,332.8 773.8,332.5 774.8,332.2 775.8,332.0 776.8,331.7 777.8,331.6 778.8,331.4 779.8,331.4 780.8,331.5 781.8,331.8 782.8,332.3 783.8,332.8 784.8,333.4 785.8,333.9 786.0,334.0 786.8,334.4 787.8,335.1 788.8,335.8 789.8,336.5 790.8,337.2 791.8,337.6 792.7,337.9 792.8,337.9 793.8,338.1 794.8,338.2 795.8,338.4 796.8,338.5 797.8,338.6 798.8,338.6 799.8,338.7 800.7,338.7 800.8,338.7 801.8,338.6 802.8,338.2 803.8,337.8 804.8,337.4 805.8,337.1 806.0,337.0 806.8,336.8 807.8,336.5 808.8,336.2 809.8,335.9 810.8,335.7 811.8,335.5 812.8,335.3 813.7,335.3 813.8,335.3 814.8,335.3 815.8,335.4 816.8,335.5 817.8,335.6 818.8,335.7 819.8,335.9 820.8,336.0 821.8,336.2 822.8,336.3 823.8,336.4 824.8,336.5 825.8,336.5 826.0,336.5 826.8,336.5 827.8,336.5 828.8,336.5 829.8,336.5 830.8,336.6 831.8,336.6 832.8,336.6 833.8,336.6 834.8,336.6 835.8,336.6 836.8,336.6 837.8,336.6 838.8,336.6 839.6,336.6 839.8,336.6 840.8,336.6 841.8,336.5 842.8,336.4 843.8,336.3 844.8,336.1 845.8,335.9 846.8,335.7 847.8,335.5 848.8,335.2 849.8,335.0 850.8,334.7 851.8,334.4 852.8,334.1 853.8,333.8 854.8,333.5 855.8,333.3 856.8,333.0 857.8,332.7 858.8,332.4 859.8,332.1 860.8,331.8 861.8,331.5 862.8,331.2 863.8,330.8 864.8,330.5 865.8,330.1 866.8,329.7 867.8,329.3 868.8,329.0 869.8,328.6 870.0,328.5 870.8,328.2 871.8,327.8 872.8,327.5 873.8,327.1 874.8,326.7 875.8,326.3 876.8,325.9 877.8,325.5 878.8,325.0 879.8,324.5 880.8,323.9 881.1,323.7 881.8,323.2 882.8,322.3 883.8,321.2 884.8,320.2 885.8,319.2 886.0,319.0 886.8,318.2 887.8,317.2 888.8,316.2 889.8,315.3 890.8,314.7 891.5,314.6 891.8,314.6 892.8,315.0 893.8,315.7 894.8,316.5 895.8,317.3 896.8,317.9 897.0,318.0 897.8,318.3 898.8,318.6 899.8,318.9 900.8,319.1 901.8,319.4 902.8,319.6 903.8,319.7 904.4,319.8 904.8,319.9 905.8,320.0 906.8,320.1 907.8,320.2 908.8,320.4 909.8,320.5 910.8,320.6 911.8,320.7 912.8,320.8 913.8,320.8 914.8,320.9 915.8,321.0 916.8,321.0 917.8,321.1 918.8,321.1 919.8,321.1 920.0,321.1 920.8,321.0 921.8,320.6 922.8,320.1 923.8,319.4 924.8,318.7 925.8,318.1 926.0,318.0 926.8,317.6 927.8,316.9 928.8,316.3 929.8,315.7 930.8,315.1 931.8,314.8 932.8,314.6 932.9,314.6 933.8,314.8 934.8,315.4 935.8,316.4 936.8,317.5 937.8,318.7 938.8,319.8 939.0,320.0 939.8,320.8 940.8,322.0 941.8,323.2 942.8,324.5 943.8,325.6 944.8,326.7 945.8,327.5 945.9,327.6 946.8,328.2 947.8,328.9 948.8,329.5 949.8,330.1 950.8,330.7 951.8,331.3 952.8,331.8 953.8,332.3 954.8,332.7 955.8,333.2 956.8,333.6 957.8,334.0 958.8,334.4 959.8,334.7 960.8,335.1 961.4,335.3 961.8,335.4 962.8,335.8 963.8,336.1 964.8,336.5 965.8,336.8 966.8,337.1 967.8,337.5 968.8,337.8 969.8,338.1 970.8,338.3 971.8,338.6 972.8,338.8 973.8,338.9 974.8,339.1 975.8,339.2 976.8,339.2 977.0,339.2 977.8,339.2 978.8,339.1 979.8,339.1 980.8,339.0 981.8,338.8 982.8,338.7 983.8,338.5 984.8,338.3 985.8,338.1 986.8,337.9 987.8,337.7 988.8,337.5 989.8,337.2 990.8,337.0 991.8,336.8 992.5,336.6 992.8,336.5 993.8,336.3 994.8,336.0 995.8,335.7 996.8,335.4 997.8,335.1 998.8,334.7 999.8,334.3 1000.8,334.0 1001.8,333.6 1002.8,333.2 1003.8,332.7 1004.8,332.3 1005.8,331.9 1006.8,331.4" fill="none" stroke="#e2111f" stroke-width="3.2" stroke-linejoin="round" stroke-linecap="round"/>
<polyline points="79.8,433.4 80.8,433.3 81.8,433.2 82.8,433.0 83.8,432.9 84.8,432.7 85.8,432.6 86.8,432.4 87.8,432.2 88.8,431.9 89.8,431.7 90.8,431.5 91.8,431.2 92.8,431.0 93.8,430.7 94.8,430.5 95.5,430.3 95.8,430.2 96.8,429.9 97.8,429.7 98.8,429.4 99.8,429.1 100.8,428.7 101.8,428.3 102.8,427.9 103.8,427.5 104.8,427.0 105.8,426.5 106.4,426.2 106.8,425.9 107.8,425.1 108.8,424.2 109.8,423.1 110.8,422.0 111.8,421.1 111.9,421.0 112.8,420.2 113.8,419.2 114.8,418.4 115.6,418.2 115.8,418.2 116.8,418.5 117.8,419.2 118.8,420.0 119.8,420.8 120.1,421.0 120.8,421.5 121.8,422.4 122.8,423.3 123.8,424.2 124.8,425.1 125.8,426.0 126.8,426.7 126.9,426.8 127.8,427.4 128.8,428.1 129.8,428.8 130.8,429.5 131.8,430.1 132.8,430.6 133.8,431.0 134.8,431.3 135.1,431.4 135.8,431.5 136.8,431.7 137.8,431.8 138.8,432.0 139.8,432.1 140.8,432.2 141.8,432.3 142.8,432.4 143.8,432.4 144.8,432.5 145.8,432.5 146.0,432.5 146.8,432.5 147.8,432.5 148.8,432.5 149.8,432.5 150.8,432.5 151.8,432.5 152.8,432.5 153.8,432.5 154.8,432.5 155.8,432.5 156.8,432.5 157.8,432.5 158.8,432.5 159.7,432.5 159.8,432.5 160.8,432.4 161.8,432.3 162.8,432.1 163.8,431.8 164.8,431.5 165.8,431.2 166.8,430.9 167.8,430.6 168.8,430.3 169.8,430.0 170.0,430.0 170.8,429.8 171.8,429.6 172.8,429.3 173.8,429.1 174.8,428.9 175.8,428.6 176.8,428.4 177.8,428.3 178.8,428.1 179.8,428.0 180.8,428.0 180.9,428.0 181.8,428.0 182.8,428.2 183.8,428.4 184.8,428.6 185.8,428.9 186.8,429.3 187.8,429.6 188.8,429.9 189.8,430.2 190.8,430.5 191.0,430.5 191.8,430.7 192.8,430.9 193.8,431.1 194.8,431.3 195.8,431.5 196.8,431.6 197.8,431.7 198.0,431.7 198.8,431.7 199.8,431.7 200.8,431.7 201.8,431.7 202.8,431.7 203.8,431.7 204.8,431.7 205.8,431.7 206.8,431.7 207.8,431.7 208.8,431.7 209.8,431.7 210.0,431.7 210.8,431.7 211.8,431.6 212.8,431.4 213.8,431.3 214.8,431.0 215.8,430.8 216.8,430.7 217.8,430.5 218.8,430.4 219.6,430.4 219.8,430.4 220.8,430.5 221.8,430.7 222.8,431.0 223.8,431.4 224.8,431.8 225.8,432.3 226.8,432.7 227.8,433.1 228.8,433.4 229.0,433.5 229.8,433.7 230.8,434.0 231.8,434.3 232.8,434.6 233.8,434.9 234.8,435.2 235.8,435.5 236.8,435.7 237.8,435.8 238.8,436.0 239.8,436.0 239.9,436.0 240.8,435.9 241.8,435.6 242.8,435.2 243.8,434.7 244.8,434.2 245.8,433.6 246.8,433.0 247.8,432.6 248.0,432.5 248.8,432.2 249.8,431.7 250.8,431.3 251.8,430.8 252.8,430.4 253.8,430.0 254.8,429.8 255.8,429.6 256.4,429.6 256.8,429.6 257.8,429.6 258.8,429.7 259.8,429.7 260.8,429.8 261.8,429.9 262.8,430.0 263.8,430.1 264.8,430.2 265.8,430.4 266.8,430.5 267.0,430.5 267.8,430.6 268.8,430.8 269.8,430.9 270.8,431.1 271.8,431.4 272.8,431.6 273.8,431.8 274.8,431.9 275.8,432.1 276.8,432.2 277.8,432.2 278.0,432.2 278.8,432.2 279.8,432.2 280.8,432.1 281.8,432.1 282.8,432.0 283.8,431.9 284.8,431.8 285.8,431.7 286.8,431.6 287.8,431.5 288.8,431.3 289.8,431.2 290.8,431.1 291.8,431.0 292.0,431.0 292.8,430.9 293.8,430.8 294.8,430.7 295.8,430.6 296.8,430.4 297.8,430.3 298.8,430.2 299.8,430.0 300.8,429.9 301.8,429.8 302.8,429.7 303.8,429.7 304.8,429.6 305.8,429.6 306.8,429.6 307.8,429.7 308.8,429.8 309.8,429.9 310.8,430.0 311.8,430.1 312.8,430.3 313.8,430.4 314.8,430.6 315.8,430.7 316.8,430.8 317.8,430.9 318.8,431.0 319.8,431.0 320.0,431.0 320.8,431.0 321.8,431.0 322.8,431.0 323.8,431.0 324.8,431.0 325.8,431.0 326.8,431.0 327.8,431.0 328.8,430.9 329.8,430.9 330.8,430.9 331.8,430.9 332.8,430.9 333.8,430.9 334.8,430.8 335.8,430.8 336.8,430.8 337.8,430.8 338.8,430.7 339.8,430.7 340.8,430.7 341.8,430.6 342.7,430.6 342.8,430.6 343.8,430.4 344.8,429.9 345.8,429.3 346.8,428.5 347.8,427.6 348.8,426.7 349.8,425.7 350.8,424.8 351.8,423.9 352.8,423.1 353.0,423.0 353.8,422.5 354.8,421.7 355.8,421.0 356.8,420.2 357.8,419.5 358.8,418.7 359.8,418.0 360.8,417.4 361.8,416.9 362.8,416.4 363.8,416.1 364.8,415.9 365.4,415.9 365.8,415.9 366.8,416.0 367.8,416.1 368.8,416.2 369.8,416.4 370.8,416.7 371.8,416.9 372.8,417.2 373.8,417.6 374.8,417.9 375.8,418.3 376.8,418.7 377.8,419.0 378.8,419.4 379.8,419.8 380.8,420.1 381.8,420.5 382.5,420.7 382.8,420.8 383.8,421.1 384.8,421.5 385.8,421.9 386.8,422.4 387.8,422.8 388.8,423.3 389.8,423.8 390.8,424.3 391.8,424.7 392.8,425.2 393.8,425.6 394.8,426.1 395.8,426.4 396.8,426.8 397.8,427.1 398.8,427.4 399.8,427.6 400.8,427.7 401.8,427.8 402.4,427.8 402.8,427.8 403.8,427.7 404.8,427.6 405.8,427.5 406.8,427.3 407.8,427.1 408.0,427.0 408.8,426.8 409.8,426.6 410.8,426.4 411.8,426.0 412.8,425.6 413.7,425.0 413.8,424.9 414.8,424.1 415.8,423.0 416.8,421.9 417.8,420.5 418.8,418.8 419.8,416.8 420.4,415.5 420.6,414.9 420.8,414.5 420.9,414.3 421.1,413.6 421.4,412.9 421.6,412.2 421.8,411.7 421.9,411.4 422.1,410.6 422.4,409.7 422.6,408.8 422.8,408.3 422.9,407.9 423.1,406.9 423.4,405.9 423.6,404.8 423.8,404.1 423.9,403.6 424.1,402.4 424.4,401.1 424.6,399.7 424.8,398.9 424.9,398.3 425.1,396.8 425.4,395.2 425.6,393.5 425.8,392.4 425.9,391.7 426.1,389.8 426.4,387.8 426.6,385.7 426.8,384.4 426.9,383.5 427.1,381.1 427.4,378.7 427.6,376.2 427.8,374.6 427.9,373.5 428.1,370.7 428.4,367.9 428.6,364.9 428.8,363.1 428.9,361.9 429.1,358.8 429.4,355.7 429.6,352.6 429.8,350.7 429.9,349.5 430.1,346.5 430.4,343.7 430.6,341.0 430.8,339.5 430.9,338.5 431.1,336.3 431.4,334.4 431.6,332.9 431.8,332.2 431.9,331.8 432.1,331.1 432.4,330.9 432.6,331.1 432.8,331.5 432.9,331.8 433.1,333.0 433.4,334.5 433.6,336.4 433.8,337.7 433.9,338.6 434.1,341.1 434.4,343.9 434.6,346.8 434.8,348.6 434.9,349.8 435.1,352.9 435.4,356.1 435.6,359.2 435.8,361.1 435.9,362.3 436.1,365.4 436.4,368.4 436.6,371.4 436.8,373.1 436.9,374.2 437.1,376.9 437.4,379.6 437.6,382.1 437.8,383.6 437.9,384.5 438.1,386.8 438.4,389.0 438.6,391.1 438.8,392.3 438.9,393.1 439.1,395.0 439.4,396.8 439.6,398.5 439.8,399.5 439.9,400.2 440.1,401.8 440.4,403.2 440.6,404.7 440.8,405.5 440.9,406.0 441.1,407.3 441.4,408.6 441.6,409.7 441.8,410.4 441.9,410.9 442.1,411.9 442.4,413.0 442.6,414.0 442.8,414.5 442.9,414.9 443.1,415.8 443.4,416.7 443.6,417.5 443.8,418.0 443.9,418.3 444.1,419.1 444.8,421.0 445.8,423.5 446.8,425.6 447.8,427.3 448.8,428.7 449.8,429.8 450.6,430.5 450.8,430.7 451.8,431.3 452.8,431.8 453.8,432.2 454.8,432.5 455.8,432.7 456.8,433.0 457.8,433.1 458.8,433.3 459.8,433.5 460.0,433.5 460.8,433.6 461.8,433.7 462.8,433.9 463.8,434.0 464.8,434.2 465.8,434.3 466.8,434.4 467.8,434.5 468.8,434.7 469.8,434.7 470.8,434.8 471.8,434.9 472.8,434.9 473.4,434.9 473.8,434.9 474.8,434.9 475.8,434.8 476.8,434.7 477.8,434.7 478.8,434.5 479.8,434.4 480.8,434.3 481.8,434.2 482.8,434.0 483.8,433.9 484.8,433.8 485.8,433.6 486.8,433.5 487.0,433.5 487.8,433.4 488.8,433.3 489.8,433.2 490.8,433.2 491.8,433.1 492.8,433.0 493.8,432.9 494.8,432.8 495.8,432.7 496.8,432.6 497.8,432.5 498.8,432.4 499.8,432.3 500.8,432.2 501.8,432.1 502.8,432.0 503.8,431.8 504.8,431.7 505.8,431.5 506.8,431.3 507.8,431.2 508.8,431.0 509.8,430.8 510.8,430.6 511.8,430.4 512.8,430.2 513.8,430.0 514.0,430.0 514.8,429.9 515.8,429.7 516.8,429.5 517.8,429.4 518.8,429.2 519.8,429.0 520.8,428.9 521.8,428.6 522.8,428.4 523.8,428.1 524.5,427.8 524.8,427.7 525.8,426.9 526.8,425.7 527.8,424.3 528.8,422.8 529.8,421.4 530.8,420.2 531.0,420.0 531.8,419.2 532.8,418.1 533.8,417.1 534.8,416.2 535.8,415.5 536.8,415.1 537.3,415.0 537.8,415.0 538.8,415.2 539.8,415.5 540.8,416.0 541.8,416.5 542.8,417.1 543.8,417.7 544.8,418.3 545.8,418.8 546.8,419.2 547.2,419.3 547.8,419.5 548.8,419.8 549.8,420.1 550.8,420.4 551.8,420.5 552.7,420.6 552.8,420.6 553.8,420.5 554.8,420.2 555.8,419.9 556.8,419.5 557.8,419.1 558.8,418.8 559.8,418.6 560.3,418.6 560.8,418.6 561.8,419.0 562.8,419.6 563.8,420.4 564.8,421.4 565.8,422.3 566.8,423.3 567.8,424.1 568.8,424.8 569.8,425.1 570.4,425.2 570.8,425.2 571.8,425.0 572.8,424.6 573.8,424.2 574.8,423.6 575.8,423.1 576.8,422.5 577.8,422.1 578.0,422.0 578.8,421.7 579.8,421.2 580.8,420.8 581.8,420.3 582.8,419.9 583.8,419.6 584.8,419.4 585.7,419.3 585.8,419.3 586.8,419.5 587.8,419.9 588.8,420.4 589.8,421.1 590.8,421.8 591.8,422.4 592.0,422.5 592.8,423.0 593.8,423.7 594.8,424.5 595.8,425.2 596.8,425.8 597.8,426.2 598.3,426.2 598.8,426.2 599.8,426.2 600.8,426.2 601.8,426.1 602.8,426.1 603.8,426.0 604.8,425.9 605.8,425.8 606.8,425.7 607.8,425.6 608.8,425.5 609.8,425.4 610.8,425.3 611.8,425.2 612.8,425.1 613.8,425.0 614.8,424.9 615.8,424.8 616.8,424.7 617.8,424.6 618.8,424.6 619.8,424.5 620.8,424.5 621.8,424.4 622.8,424.4 623.7,424.4 623.8,424.4 624.8,424.4 625.8,424.5 626.8,424.7 627.8,424.8 628.8,425.1 629.8,425.3 630.8,425.6 631.8,425.8 632.8,426.1 633.8,426.4 634.8,426.6 635.8,426.9 636.8,427.1 637.8,427.3 638.8,427.5 639.8,427.6 640.8,427.7 641.5,427.7 641.8,427.7 642.8,427.7 643.8,427.7 644.8,427.6 645.8,427.6 646.8,427.5 647.8,427.5 648.8,427.4 649.8,427.3 650.8,427.3 651.8,427.2 652.8,427.1 653.8,427.1 654.8,427.0 655.0,427.0 655.8,427.0 656.8,426.9 657.8,426.8 658.8,426.8 659.8,426.7 660.8,426.6 661.8,426.5 662.8,426.5 663.8,426.4 664.8,426.3 665.8,426.3 666.8,426.2 667.8,426.2 668.8,426.2 669.4,426.2 669.8,426.2 670.8,426.2 671.8,426.2 672.8,426.2 673.8,426.2 674.8,426.2 675.8,426.2 676.8,426.2 677.8,426.2 678.8,426.2 679.8,426.2 680.8,426.3 681.8,426.3 682.8,426.3 683.8,426.3 684.8,426.3 685.8,426.3 686.8,426.3 687.8,426.4 688.8,426.4 689.7,426.4 689.8,426.4 690.8,426.5 691.8,426.6 692.8,426.9 693.8,427.2 694.8,427.5 695.8,427.9 696.8,428.3 697.8,428.7 698.8,429.1 699.8,429.4 700.0,429.5 700.8,429.8 701.8,430.2 702.8,430.6 703.8,431.1 704.8,431.5 705.8,432.0 706.8,432.4 707.8,432.7 708.8,433.0 709.8,433.3 710.0,433.3 710.8,433.4 711.8,433.6 712.8,433.7 713.8,433.8 714.8,433.9 715.8,434.0 716.8,434.0 717.8,434.1 718.8,434.2 719.8,434.3 720.8,434.4 721.8,434.5 722.0,434.5 722.8,434.6 723.8,434.7 724.8,434.9 725.8,435.0 726.8,435.2 727.8,435.4 728.8,435.5 729.8,435.6 730.8,435.7 731.8,435.8 732.8,435.8 733.8,435.7 734.8,435.3 735.8,434.8 736.8,434.1 737.8,433.3 738.8,432.6 739.8,431.8 740.8,431.1 741.0,431.0 741.8,430.5 742.8,429.8 743.8,429.0 744.8,428.2 745.8,427.4 746.8,426.7 747.8,426.0 748.8,425.6 749.8,425.3 750.6,425.2 750.8,425.2 751.8,425.3 752.8,425.5 753.8,425.8 754.8,426.1 755.8,426.4 756.8,426.7 757.8,427.0 758.0,427.0 758.8,427.1 759.8,427.3 760.8,427.5 761.8,427.7 762.8,427.8 763.8,428.0 764.8,428.1 765.8,428.2 766.8,428.2 767.0,428.2 767.8,428.1 768.8,427.9 769.8,427.6 770.8,427.2 771.8,426.8 772.8,426.5 773.0,426.5 773.8,426.4 774.8,426.2 775.8,426.0 776.8,425.9 777.8,425.8 778.8,425.7 779.7,425.7 779.8,425.7 780.8,425.8 781.8,426.0 782.8,426.3 783.8,426.7 784.8,427.1 785.8,427.6 786.8,428.0 787.8,428.5 788.8,429.0 789.8,429.4 790.0,429.5 790.8,429.8 791.8,430.3 792.8,430.8 793.8,431.3 794.8,431.8 795.8,432.4 796.8,432.8 797.8,433.2 798.8,433.6 799.8,433.8 800.8,433.9 801.1,433.9 801.8,433.9 802.8,433.8 803.8,433.6 804.8,433.3 805.8,433.0 806.8,432.7 807.8,432.4 808.8,432.0 809.8,431.7 810.8,431.4 811.8,431.2 812.8,431.1 813.8,431.0 814.0,431.0 814.8,431.0 815.8,431.0 816.8,431.0 817.8,431.1 818.8,431.1 819.8,431.1 820.8,431.2 821.8,431.2 822.8,431.2 823.8,431.3 824.8,431.3 825.8,431.4 826.8,431.4 827.8,431.5 828.8,431.5 829.0,431.5 829.8,431.5 830.8,431.6 831.8,431.6 832.8,431.7 833.8,431.7 834.8,431.8 835.8,431.8 836.8,431.8 837.8,431.9 838.8,431.9 839.8,431.9 840.8,432.0 841.8,432.0 842.8,432.0 843.2,432.0 843.8,432.0 844.8,431.9 845.8,431.8 846.8,431.7 847.8,431.5 848.8,431.3 849.8,431.0 850.8,430.7 851.8,430.4 852.8,430.1 853.8,429.7 854.8,429.4 855.8,429.0 856.8,428.6 857.8,428.3 858.8,427.9 859.8,427.5 860.8,427.2 861.8,426.9 862.0,426.8 862.8,426.5 863.8,426.2 864.8,426.0 865.8,425.7 866.8,425.4 867.8,425.1 868.8,424.8 869.8,424.5 870.8,424.2 871.8,423.8 872.8,423.5 873.8,423.1 874.8,422.7 875.8,422.3 876.8,421.9 877.8,421.4 878.8,420.9 879.8,420.3 880.7,419.8 880.8,419.7 881.8,418.9 882.8,417.9 883.8,416.6 884.8,415.4 885.8,414.2 886.0,414.0 886.8,413.0 887.8,411.7 888.8,410.4 889.8,409.3 890.8,408.7 891.2,408.6 891.8,408.7 892.8,409.2 893.8,409.9 894.8,410.8 895.8,411.7 896.8,412.4 897.0,412.5 897.8,412.9 898.8,413.4 899.8,413.8 900.8,414.3 901.8,414.6 902.8,414.9 903.8,415.1 904.1,415.1 904.8,415.1 905.8,415.2 906.8,415.3 907.8,415.3 908.8,415.4 909.8,415.4 910.8,415.4 911.8,415.5 912.8,415.5 913.8,415.5 914.8,415.5 915.8,415.6 916.8,415.6 917.8,415.6 918.8,415.6 919.8,415.6 920.5,415.6 920.8,415.6 921.8,415.2 922.8,414.4 923.8,413.4 924.8,412.3 925.8,411.2 926.8,410.2 927.0,410.0 927.8,409.3 928.8,408.2 929.8,407.1 930.8,406.2 931.8,405.5 932.7,405.3 932.8,405.3 933.8,405.8 934.8,407.0 935.8,408.5 936.8,410.2 937.8,411.7 938.0,412.0 938.8,413.1 939.8,414.7 940.8,416.4 941.8,417.9 942.8,419.2 943.8,420.2 943.9,420.3 944.8,420.9 945.8,421.5 946.8,422.1 947.8,422.6 948.8,423.0 949.8,423.5 950.8,423.8 951.8,424.2 952.8,424.6 953.8,424.9 954.8,425.2 955.8,425.6 956.8,425.9 957.8,426.3 958.0,426.4 958.8,426.7 959.8,427.2 960.8,427.6 961.8,428.1 962.8,428.6 963.8,429.1 964.8,429.6 965.8,430.1 966.8,430.6 967.8,431.0 968.8,431.5 969.8,431.9 970.8,432.3 971.8,432.6 972.8,432.9 973.8,433.1 974.8,433.3 975.8,433.4 976.7,433.4 976.8,433.4 977.8,433.4 978.8,433.4 979.8,433.4 980.8,433.3 981.8,433.3 982.8,433.2 983.8,433.2 984.8,433.1 985.8,433.1 986.8,433.0 987.8,432.9 988.8,432.8 989.8,432.8 990.7,432.7 990.8,432.7 991.8,432.6 992.8,432.5 993.8,432.4 994.8,432.2 995.8,432.1 996.8,431.9 997.8,431.7 998.8,431.6 999.8,431.3 1000.8,431.1 1001.8,430.9 1002.8,430.7 1003.8,430.4 1004.8,430.2 1005.8,429.9 1006.8,429.7 1007.1,429.6" fill="none" stroke="#e2111f" stroke-width="3.2" stroke-linejoin="round" stroke-linecap="round"/>
<polyline points="79.8,510.2 80.8,510.0 81.8,509.8 82.8,509.6 83.8,509.4 84.8,509.2 85.8,509.0 86.8,508.8 87.8,508.6 88.8,508.3 89.8,508.1 90.8,507.8 91.8,507.6 92.8,507.3 93.8,507.1 94.8,506.8 95.5,506.6 95.8,506.5 96.8,506.3 97.8,506.0 98.8,505.7 99.8,505.5 100.8,505.2 101.8,504.9 102.8,504.5 103.8,504.2 104.8,503.7 105.8,503.3 106.4,503.0 106.8,502.8 107.8,502.0 108.8,501.1 109.8,500.0 110.8,499.0 111.8,498.1 111.9,498.0 112.8,497.2 113.8,496.3 114.8,495.8 114.9,495.8 115.8,496.0 116.8,496.5 117.8,497.2 118.8,498.1 119.8,498.9 120.1,499.1 120.8,499.6 121.8,500.4 122.8,501.3 123.8,502.2 124.8,503.1 125.8,503.9 126.8,504.5 126.9,504.6 127.8,505.1 128.8,505.7 129.8,506.3 130.8,506.8 131.8,507.3 132.8,507.7 133.8,508.1 134.8,508.3 135.1,508.4 135.8,508.5 136.8,508.7 137.8,508.9 138.8,509.1 139.8,509.2 140.8,509.4 141.8,509.5 142.8,509.6 143.8,509.7 144.8,509.8 145.8,509.8 146.0,509.8 146.8,509.8 147.8,509.8 148.8,509.9 149.8,509.9 150.8,509.9 151.8,509.9 152.8,509.9 153.8,510.0 154.8,510.0 155.8,510.0 156.8,510.0 157.8,510.0 158.8,510.0 159.7,510.0 159.8,510.0 160.8,509.9 161.8,509.8 162.8,509.6 163.8,509.3 164.8,509.0 165.8,508.7 166.8,508.4 167.8,508.1 168.8,507.8 169.8,507.5 170.0,507.5 170.8,507.3 171.8,507.1 172.8,506.8 173.8,506.6 174.8,506.3 175.8,506.1 176.8,505.9 177.8,505.7 178.8,505.5 179.8,505.4 180.8,505.3 181.6,505.3 181.8,505.3 182.8,505.4 183.8,505.5 184.8,505.8 185.8,506.0 186.8,506.3 187.8,506.6 188.8,506.9 189.8,507.2 190.8,507.5 191.0,507.5 191.8,507.7 192.8,507.9 193.8,508.1 194.8,508.3 195.8,508.5 196.8,508.6 197.8,508.7 198.0,508.7 198.8,508.7 199.8,508.8 200.8,508.8 201.8,508.9 202.8,508.9 203.8,508.9 204.8,508.9 205.8,509.0 206.8,509.0 207.8,509.0 208.8,509.0 209.8,509.0 210.0,509.0 210.8,509.0 211.8,508.9 212.8,508.9 213.8,508.8 214.8,508.7 215.8,508.6 216.8,508.5 217.8,508.4 218.8,508.4 219.8,508.3 220.8,508.3 220.9,508.3 221.8,508.3 222.8,508.5 223.8,508.7 224.8,508.9 225.8,509.3 226.8,509.6 227.8,509.9 228.8,510.2 229.8,510.5 230.0,510.5 230.8,510.7 231.8,511.0 232.8,511.2 233.8,511.5 234.8,511.8 235.8,512.0 236.8,512.3 237.8,512.4 238.8,512.6 239.8,512.6 239.9,512.6 240.8,512.5 241.8,512.2 242.8,511.8 243.8,511.2 244.8,510.7 245.8,510.1 246.8,509.5 247.8,509.1 248.0,509.0 248.8,508.7 249.8,508.3 250.8,507.9 251.8,507.5 252.8,507.2 253.8,506.8 254.8,506.6 255.8,506.4 256.8,506.2 257.6,506.2 257.8,506.2 258.8,506.2 259.8,506.2 260.8,506.2 261.8,506.3 262.8,506.3 263.8,506.3 264.8,506.4 265.8,506.4 266.8,506.5 267.8,506.5 268.8,506.5 269.8,506.6 270.8,506.7 271.8,506.8 272.8,506.8 273.8,506.9 274.8,507.0 275.8,507.1 276.8,507.3 277.8,507.4 278.8,507.5 279.8,507.6 280.8,507.7 281.8,507.8 282.8,507.9 283.8,508.0 284.8,508.1 285.8,508.1 286.8,508.2 287.8,508.2 288.8,508.3 289.8,508.3 290.6,508.3 290.8,508.3 291.8,508.3 292.8,508.3 293.8,508.3 294.8,508.3 295.8,508.3 296.8,508.2 297.8,508.2 298.8,508.2 299.8,508.2 300.8,508.2 301.8,508.1 302.8,508.1 303.8,508.1 304.8,508.1 305.8,508.1 306.8,508.0 307.8,508.0 308.8,508.0 309.8,508.0 310.8,508.0 311.8,508.0 312.0,508.0 312.8,508.0 313.8,508.1 314.8,508.2 315.8,508.3 316.8,508.5 317.8,508.6 318.8,508.7 319.8,508.7 320.0,508.7 320.8,508.7 321.8,508.7 322.8,508.7 323.8,508.6 324.8,508.6 325.8,508.6 326.8,508.5 327.8,508.5 328.8,508.4 329.8,508.3 330.8,508.3 331.8,508.2 332.8,508.1 333.8,508.0 334.8,507.9 335.8,507.8 336.8,507.7 337.8,507.5 338.8,507.4 339.8,507.2 340.8,507.1 341.8,506.9 342.7,506.8 342.8,506.8 343.8,506.5 344.8,506.0 345.8,505.4 346.8,504.7 347.8,504.0 348.8,503.1 349.8,502.3 350.8,501.5 351.8,500.8 352.8,500.1 353.0,500.0 353.8,499.5 354.8,498.9 355.8,498.2 356.8,497.6 357.8,496.9 358.8,496.3 359.8,495.7 360.8,495.2 361.8,494.9 362.8,494.6 363.8,494.5 364.0,494.5 364.8,494.5 365.8,494.6 366.8,494.8 367.8,495.0 368.8,495.2 369.8,495.5 370.8,495.8 371.8,496.2 372.8,496.6 373.8,497.0 374.8,497.4 375.8,497.8 376.8,498.2 377.8,498.6 378.8,499.0 379.8,499.3 380.8,499.7 381.8,500.0 382.5,500.2 382.8,500.3 383.8,500.6 384.8,500.9 385.8,501.2 386.8,501.5 387.8,501.8 388.8,502.1 389.8,502.4 390.8,502.7 391.8,503.0 392.8,503.3 393.8,503.5 394.8,503.8 395.8,504.0 396.8,504.2 397.8,504.3 398.8,504.4 399.8,504.5 400.8,504.5 400.9,504.5 401.8,504.5 402.8,504.4 403.8,504.3 404.8,504.1 405.8,503.9 406.8,503.7 407.8,503.5 408.0,503.5 408.8,503.3 409.8,503.1 410.8,502.8 411.8,502.4 412.8,502.0 413.7,501.6 413.8,501.5 414.8,501.0 415.8,500.4 416.8,499.7 417.8,498.9 418.8,497.9 419.8,496.7 420.1,496.4 420.4,496.0 420.6,495.7 420.8,495.4 420.9,495.3 421.1,494.9 421.4,494.5 421.6,494.0 421.8,493.7 421.9,493.6 422.1,493.1 422.4,492.5 422.6,492.0 422.8,491.5 422.9,491.4 423.1,490.8 423.4,490.1 423.6,489.4 423.8,488.8 423.9,488.7 424.1,487.8 424.4,487.0 424.6,486.1 424.8,485.3 424.9,485.1 425.1,484.0 425.4,482.9 425.6,481.7 425.8,480.6 425.9,480.4 426.1,479.0 426.4,477.5 426.6,475.9 426.8,474.5 426.9,474.2 427.1,472.3 427.4,470.4 427.6,468.2 427.8,466.5 427.9,466.0 428.1,463.6 428.4,461.1 428.6,458.5 428.8,456.2 428.9,455.7 429.1,452.8 429.4,449.8 429.6,446.8 429.8,444.4 429.9,443.8 430.1,440.8 430.4,437.9 430.6,435.1 430.8,433.1 430.9,432.7 431.1,430.5 431.4,428.7 431.6,427.4 431.8,426.7 431.9,426.6 432.1,426.4 432.4,426.7 432.6,427.6 432.8,428.7 432.9,429.0 433.1,430.9 433.4,433.1 433.6,435.7 433.8,437.9 433.9,438.5 434.1,441.5 434.4,444.6 434.6,447.7 434.8,450.2 434.9,450.9 435.1,453.9 435.4,456.9 435.6,459.8 435.8,462.0 435.9,462.6 436.1,465.2 436.4,467.7 436.6,470.0 436.8,471.8 436.9,472.3 437.1,474.4 437.4,476.3 437.6,478.2 437.8,479.6 437.9,479.9 438.1,481.5 438.4,483.0 438.6,484.5 438.8,485.5 438.9,485.8 439.1,487.1 439.4,488.2 439.6,489.4 439.8,490.2 439.9,490.4 440.1,491.4 440.4,492.4 440.6,493.2 440.8,493.9 440.9,494.1 441.1,494.9 441.4,495.7 441.6,496.4 441.8,496.9 441.9,497.1 442.1,497.7 442.4,498.3 442.6,498.9 442.8,499.4 442.9,499.5 443.1,500.1 443.4,500.6 443.6,501.1 443.8,501.5 443.9,501.6 444.8,503.2 445.8,504.7 446.8,505.9 447.8,506.9 448.8,507.7 449.8,508.4 450.8,508.9 451.8,509.3 452.8,509.6 453.8,509.8 454.8,510.0 455.8,510.1 456.3,510.2 456.8,510.3 457.8,510.4 458.8,510.5 459.8,510.6 460.8,510.7 461.8,510.8 462.8,510.9 463.8,511.0 464.8,511.1 465.8,511.2 466.8,511.3 467.8,511.3 468.8,511.4 469.8,511.4 470.8,511.5 471.8,511.5 472.0,511.5 472.8,511.5 473.8,511.5 474.8,511.5 475.8,511.5 476.8,511.5 477.8,511.6 478.8,511.6 479.8,511.6 480.8,511.6 481.8,511.6 482.8,511.6 483.8,511.6 484.8,511.6 485.8,511.6 486.8,511.6 487.8,511.6 488.8,511.6 489.8,511.6 490.4,511.6 490.8,511.6 491.8,511.6 492.8,511.5 493.8,511.4 494.8,511.3 495.8,511.2 496.8,511.1 497.8,510.9 498.8,510.7 499.8,510.6 500.8,510.4 501.8,510.2 502.8,510.0 503.8,509.8 504.8,509.6 505.8,509.4 506.8,509.2 507.8,509.0 508.0,509.0 508.8,508.9 509.8,508.7 510.8,508.6 511.8,508.4 512.8,508.3 513.8,508.2 514.8,508.1 515.8,507.9 516.8,507.8 517.8,507.6 518.8,507.4 519.8,507.2 520.8,507.0 521.8,506.7 522.8,506.5 523.8,506.1 524.5,505.9 524.8,505.8 525.8,505.1 526.8,504.0 527.8,502.8 528.8,501.5 529.8,500.2 530.8,499.2 531.0,499.0 531.8,498.3 532.8,497.3 533.8,496.4 534.8,495.6 535.8,494.9 536.8,494.5 537.3,494.5 537.8,494.5 538.8,494.8 539.8,495.2 540.8,495.7 541.8,496.4 542.8,497.0 543.8,497.6 544.8,498.2 545.8,498.6 546.8,498.8 547.2,498.8 547.8,498.8 548.8,498.8 549.8,498.8 550.8,498.8 551.8,498.8 552.8,498.7 553.8,498.7 554.0,498.7 554.8,498.7 555.8,498.5 556.8,498.4 557.8,498.2 558.8,498.1 559.8,498.0 560.3,498.0 560.8,498.0 561.8,498.3 562.8,498.8 563.8,499.4 564.8,500.1 565.8,500.8 566.8,501.5 567.8,502.2 568.8,502.7 569.8,502.9 570.4,503.0 570.8,503.0 571.8,502.8 572.8,502.5 573.8,502.0 574.8,501.5 575.8,501.0 576.8,500.5 577.8,500.1 578.0,500.0 578.8,499.7 579.8,499.3 580.8,498.8 581.8,498.4 582.8,498.1 583.8,497.8 584.8,497.6 585.7,497.5 585.8,497.5 586.8,497.6 587.8,498.0 588.8,498.4 589.8,498.9 590.8,499.5 591.8,499.9 592.0,500.0 592.8,500.3 593.8,500.8 594.8,501.3 595.8,501.7 596.8,502.1 597.8,502.3 598.3,502.3 598.8,502.3 599.8,502.3 600.8,502.2 601.8,502.1 602.8,502.0 603.8,501.9 604.8,501.8 605.8,501.6 606.8,501.5 607.8,501.3 608.8,501.1 609.8,501.0 610.8,500.8 611.8,500.6 612.8,500.4 613.8,500.2 614.8,500.1 615.8,499.9 616.8,499.8 617.8,499.6 618.8,499.5 619.8,499.4 620.8,499.3 621.8,499.2 622.8,499.2 623.7,499.2 623.8,499.2 624.8,499.2 625.8,499.3 626.8,499.4 627.8,499.6 628.8,499.7 629.8,500.0 630.8,500.2 631.8,500.4 632.8,500.7 633.8,501.0 634.8,501.3 635.8,501.5 636.8,501.8 637.8,502.1 638.8,502.4 639.8,502.6 640.8,502.8 641.8,503.0 642.8,503.2 643.8,503.3 644.8,503.4 645.8,503.5 646.5,503.5 646.8,503.5 647.8,503.5 648.8,503.5 649.8,503.5 650.8,503.5 651.8,503.5 652.8,503.5 653.8,503.5 654.8,503.5 655.8,503.5 656.8,503.5 657.8,503.5 658.8,503.5 659.8,503.5 660.8,503.5 661.8,503.5 662.8,503.5 663.8,503.5 664.8,503.5 665.8,503.5 666.8,503.5 667.8,503.5 668.0,503.5 668.8,503.5 669.8,503.5 670.8,503.5 671.8,503.5 672.8,503.4 673.8,503.4 674.8,503.4 675.8,503.4 676.8,503.3 677.8,503.3 678.8,503.3 679.8,503.2 680.8,503.2 681.8,503.2 682.8,503.1 683.8,503.1 684.8,503.1 685.8,503.0 686.8,503.0 687.8,503.0 688.8,503.0 689.7,503.0 689.8,503.0 690.8,503.1 691.8,503.2 692.8,503.5 693.8,503.8 694.8,504.1 695.8,504.5 696.8,504.9 697.8,505.2 698.8,505.6 699.8,505.9 700.0,506.0 700.8,506.3 701.8,506.6 702.8,506.9 703.8,507.3 704.8,507.7 705.8,508.1 706.8,508.4 707.8,508.8 708.8,509.1 709.8,509.4 710.8,509.6 711.8,509.8 712.5,509.9 712.8,509.9 713.8,510.1 714.8,510.2 715.8,510.3 716.8,510.4 717.8,510.5 718.8,510.6 719.8,510.7 720.8,510.8 721.8,510.9 722.8,511.0 723.8,511.1 724.8,511.1 725.8,511.2 726.8,511.2 727.8,511.3 728.8,511.3 729.8,511.4 730.8,511.4 731.8,511.4 732.8,511.4 733.8,511.3 734.8,510.9 735.8,510.3 736.8,509.6 737.8,508.8 738.8,508.0 739.8,507.3 740.8,506.6 741.0,506.5 741.8,506.0 742.8,505.3 743.8,504.6 744.8,503.9 745.8,503.2 746.8,502.6 747.8,502.0 748.8,501.6 749.8,501.4 750.6,501.3 750.8,501.3 751.8,501.4 752.8,501.6 753.8,502.0 754.8,502.4 755.8,502.7 756.8,503.1 757.8,503.4 758.0,503.5 758.8,503.7 759.8,504.0 760.8,504.3 761.8,504.6 762.8,504.9 763.8,505.2 764.8,505.4 765.8,505.5 766.8,505.6 767.0,505.6 767.8,505.6 768.8,505.4 769.8,505.2 770.8,505.0 771.8,504.7 772.8,504.5 773.0,504.5 773.8,504.4 774.8,504.2 775.8,504.0 776.8,503.8 777.8,503.6 778.8,503.5 779.7,503.5 779.8,503.5 780.8,503.6 781.8,503.8 782.8,504.1 783.8,504.6 784.8,505.0 785.8,505.5 786.8,506.1 787.8,506.6 788.8,507.0 789.8,507.4 790.0,507.5 790.8,507.8 791.8,508.2 792.8,508.6 793.8,509.0 794.8,509.4 795.8,509.8 796.8,510.2 797.8,510.5 798.8,510.8 799.8,511.1 800.8,511.3 801.8,511.5 802.8,511.6 803.4,511.6 803.8,511.6 804.8,511.6 805.8,511.5 806.8,511.4 807.8,511.2 808.8,511.1 809.8,510.9 810.8,510.7 811.8,510.5 812.8,510.3 813.8,510.1 814.8,509.9 815.8,509.7 816.8,509.5 817.8,509.4 818.8,509.3 819.8,509.2 820.8,509.1 821.8,509.1 822.8,509.0 823.8,509.0 824.8,509.0 825.8,508.9 826.8,508.9 827.8,508.9 828.8,508.9 829.8,508.8 830.8,508.8 831.8,508.8 832.8,508.8 833.8,508.7 834.8,508.7 835.8,508.7 836.8,508.7 837.8,508.6 838.8,508.6 839.8,508.6 840.8,508.5 841.8,508.5 842.8,508.5 843.8,508.4 844.8,508.3 845.6,508.3 845.8,508.3 846.8,508.2 847.8,508.1 848.8,507.9 849.8,507.7 850.8,507.5 851.8,507.2 852.8,506.9 853.8,506.6 854.8,506.3 855.8,506.0 856.8,505.6 857.8,505.2 858.8,504.9 859.8,504.5 860.8,504.1 861.8,503.8 862.8,503.4 863.8,503.1 864.3,502.9 864.8,502.7 865.8,502.4 866.8,502.1 867.8,501.7 868.8,501.4 869.8,501.1 870.8,500.7 871.8,500.4 872.8,500.0 873.8,499.7 874.8,499.3 875.8,498.9 876.8,498.4 877.8,498.0 878.8,497.5 879.8,497.0 880.8,496.5 881.8,495.9 882.8,495.3 883.0,495.2 883.8,494.6 884.8,493.6 885.8,492.6 886.8,491.7 887.0,491.5 887.8,490.8 888.8,489.9 889.8,489.1 890.8,488.5 891.8,488.2 891.9,488.2 892.8,488.4 893.8,489.0 894.8,489.9 895.8,490.7 896.8,491.4 897.0,491.5 897.8,491.9 898.8,492.4 899.8,492.8 900.8,493.2 901.8,493.6 902.8,493.8 903.8,494.0 904.1,494.0 904.8,494.0 905.8,494.1 906.8,494.1 907.8,494.1 908.8,494.2 909.8,494.2 910.8,494.2 911.8,494.2 912.8,494.2 913.8,494.3 914.8,494.3 915.8,494.3 916.8,494.3 917.8,494.3 918.8,494.3 919.8,494.3 920.5,494.3 920.8,494.3 921.8,494.0 922.8,493.4 923.8,492.6 924.8,491.8 925.8,490.9 926.8,490.1 927.0,490.0 927.8,489.4 928.8,488.6 929.8,487.8 930.8,487.1 931.8,486.7 932.7,486.5 932.8,486.5 933.8,486.9 934.8,487.9 935.8,489.2 936.8,490.5 937.8,491.8 938.0,492.0 938.8,492.9 939.8,494.0 940.8,495.2 941.8,496.4 942.8,497.3 943.8,498.1 943.9,498.2 944.8,498.8 945.8,499.3 946.8,499.8 947.8,500.3 948.8,500.8 949.8,501.2 950.8,501.6 951.8,501.9 952.8,502.3 953.8,502.6 954.8,503.0 955.8,503.3 956.8,503.7 957.8,504.0 958.0,504.1 958.8,504.4 959.8,504.8 960.8,505.2 961.8,505.6 962.8,506.1 963.8,506.5 964.8,506.9 965.8,507.4 966.8,507.8 967.8,508.2 968.8,508.6 969.8,508.9 970.8,509.2 971.8,509.5 972.8,509.8 973.8,509.9 974.8,510.1 975.8,510.2 976.7,510.2 976.8,510.2 977.8,510.2 978.8,510.2 979.8,510.2 980.8,510.2 981.8,510.2 982.8,510.2 983.8,510.1 984.8,510.1 985.8,510.1 986.8,510.1 987.8,510.1 988.8,510.0 989.8,510.0 990.7,510.0 990.8,510.0 991.8,510.0 992.8,509.9 993.8,509.8 994.8,509.7 995.8,509.5 996.8,509.3 997.8,509.1 998.8,508.9 999.8,508.7 1000.8,508.5 1001.8,508.2 1002.8,508.0 1003.8,507.7 1004.8,507.4 1005.8,507.1 1005.9,507.1" fill="none" stroke="#e2111f" stroke-width="3.2" stroke-linejoin="round" stroke-linecap="round"/>
<polyline points="78.8,589.0 79.8,589.1 80.8,589.2 81.8,589.3 82.8,589.4 83.8,589.4 84.8,589.5 85.8,589.5 86.8,589.5 87.7,589.5 87.8,589.5 88.8,589.5 89.8,589.4 90.8,589.3 91.8,589.2 92.8,589.0 93.8,588.8 94.8,588.6 95.8,588.4 96.8,588.2 97.8,588.0 98.0,588.0 98.8,587.8 99.8,587.6 100.8,587.4 101.8,587.2 102.8,586.9 103.8,586.7 104.8,586.4 105.4,586.2 105.8,586.1 106.8,585.8 107.8,585.5 108.8,585.1 109.8,584.7 110.5,584.4 110.8,584.2 111.8,583.5 112.8,582.7 113.8,581.9 114.8,581.3 115.6,581.1 115.8,581.1 116.8,581.2 117.8,581.5 118.8,581.8 119.8,582.2 120.8,582.7 121.8,583.1 122.8,583.5 123.2,583.6 123.8,583.8 124.8,584.1 125.8,584.4 126.8,584.7 127.8,585.0 128.8,585.3 129.8,585.6 130.8,585.9 131.8,586.1 132.8,586.4 133.8,586.6 134.8,586.7 135.8,586.9 135.9,586.9 136.8,587.0 137.8,587.1 138.8,587.2 139.8,587.3 140.8,587.4 141.8,587.5 142.8,587.6 143.8,587.7 144.8,587.8 145.8,587.9 146.8,588.0 147.8,588.0 148.8,588.1 149.8,588.1 150.8,588.2 151.8,588.2 152.8,588.2 153.6,588.2 153.8,588.2 154.8,588.2 155.8,588.1 156.8,588.1 157.8,588.0 158.8,587.9 159.8,587.7 160.8,587.6 161.8,587.5 162.8,587.3 163.8,587.2 164.8,587.0 165.8,586.8 166.8,586.7 167.8,586.5 168.8,586.4 169.8,586.2 170.8,586.1 171.8,586.0 172.8,585.9 173.8,585.8 174.8,585.7 175.8,585.7 176.5,585.7 176.8,585.7 177.8,585.7 178.8,585.7 179.8,585.7 180.8,585.7 181.8,585.7 182.8,585.7 183.8,585.7 184.8,585.7 185.8,585.8 186.8,585.8 187.8,585.8 188.8,585.8 189.8,585.8 190.8,585.8 191.8,585.9 192.8,585.9 193.8,585.9 194.8,585.9 195.8,586.0 196.8,586.0 197.8,586.0 198.8,586.0 199.8,586.1 200.8,586.1 201.8,586.1 202.8,586.1 203.8,586.2 204.4,586.2 204.8,586.2 205.8,586.3 206.8,586.3 207.8,586.4 208.8,586.5 209.8,586.6 210.8,586.7 211.8,586.8 212.8,587.0 213.8,587.1 214.8,587.2 215.8,587.4 216.8,587.5 217.8,587.6 218.8,587.8 219.8,587.9 220.8,588.0 221.8,588.2 222.1,588.2 222.8,588.3 223.8,588.4 224.8,588.6 225.8,588.7 226.8,588.9 227.8,589.0 228.8,589.2 229.8,589.4 230.8,589.5 231.8,589.7 232.8,589.8 233.8,590.0 234.8,590.1 235.8,590.2 236.8,590.4 237.8,590.5 238.8,590.6 239.8,590.6 240.8,590.7 241.8,590.7 242.4,590.7 242.8,590.7 243.8,590.7 244.8,590.6 245.8,590.5 246.8,590.4 247.8,590.3 248.8,590.1 249.8,589.9 250.8,589.8 251.8,589.6 252.8,589.4 253.8,589.2 254.8,589.0 255.8,588.8 256.8,588.6 257.8,588.4 258.8,588.2 259.8,588.1 260.8,587.9 261.8,587.8 262.7,587.7 262.8,587.7 263.8,587.6 264.8,587.5 265.8,587.4 266.8,587.3 267.8,587.2 268.8,587.2 269.8,587.1 270.8,587.0 271.8,586.9 272.8,586.8 273.8,586.8 274.8,586.7 275.8,586.6 276.8,586.6 277.8,586.5 278.8,586.5 279.8,586.4 280.8,586.4 281.8,586.4 282.8,586.4 283.0,586.4 283.8,586.4 284.8,586.4 285.8,586.4 286.8,586.4 287.8,586.4 288.8,586.4 289.8,586.4 290.8,586.4 291.8,586.4 292.8,586.4 293.8,586.5 294.8,586.5 295.8,586.5 296.8,586.5 297.8,586.5 298.8,586.5 299.8,586.5 300.8,586.5 301.8,586.5 302.8,586.6 303.8,586.6 304.8,586.6 305.8,586.6 306.8,586.6 307.8,586.6 308.8,586.6 309.8,586.7 310.8,586.7 311.8,586.7 312.8,586.7 313.8,586.7 314.8,586.7 315.8,586.7 316.8,586.8 317.8,586.8 318.8,586.8 319.8,586.8 320.8,586.8 321.8,586.8 322.8,586.8 323.8,586.8 324.8,586.8 325.8,586.9 326.8,586.9 327.8,586.9 328.8,586.9 329.8,586.9 330.8,586.9 331.8,586.9 332.8,586.9 333.8,586.9 334.8,586.9 335.0,586.9 335.8,586.9 336.8,586.8 337.8,586.7 338.8,586.5 339.8,586.4 340.8,586.1 341.8,585.9 342.8,585.7 343.8,585.4 344.4,585.3 344.8,585.2 345.8,584.9 346.8,584.5 347.8,584.1 348.8,583.6 349.8,583.2 350.8,582.9 351.8,582.5 352.0,582.5 352.8,582.3 353.8,582.1 354.8,581.8 355.8,581.6 356.8,581.4 357.8,581.2 358.8,581.1 359.8,581.0 360.7,581.0 360.8,581.0 361.8,581.0 362.8,581.1 363.8,581.2 364.8,581.3 365.8,581.4 366.8,581.5 367.8,581.7 368.8,581.8 369.8,582.0 370.8,582.2 371.8,582.3 372.8,582.4 373.8,582.6 374.3,582.6 374.8,582.6 375.8,582.7 376.8,582.8 377.8,582.9 378.8,583.0 379.8,583.1 380.8,583.2 381.8,583.3 382.8,583.4 383.8,583.5 384.8,583.6 385.8,583.7 386.8,583.8 387.8,583.9 388.8,583.9 389.8,584.0 390.8,584.1 391.8,584.2 392.8,584.2 393.8,584.3 394.8,584.3 395.8,584.4 396.8,584.4 397.8,584.5 398.8,584.5 399.8,584.5 400.8,584.5 401.5,584.5 401.8,584.5 402.8,584.4 403.8,584.3 404.8,584.1 405.8,583.8 406.8,583.5 407.8,583.3 408.8,583.0 409.8,582.7 410.8,582.5 411.0,582.5 411.8,582.3 412.8,582.1 413.8,581.9 414.8,581.6 415.8,581.2 416.8,580.8 417.8,580.3 418.8,579.8 419.8,579.1 420.8,578.4 421.2,578.0 421.4,577.8 421.7,577.5 421.8,577.4 421.9,577.3 422.2,577.0 422.4,576.7 422.7,576.4 422.8,576.2 422.9,576.1 423.2,575.7 423.4,575.3 423.7,575.0 423.8,574.8 423.9,574.5 424.2,574.1 424.4,573.6 424.7,573.1 424.8,572.9 424.9,572.6 425.2,572.0 425.4,571.4 425.7,570.8 425.8,570.5 425.9,570.1 426.2,569.3 426.4,568.5 426.7,567.7 426.8,567.3 426.9,566.8 427.2,565.8 427.4,564.7 427.7,563.5 427.8,563.1 427.9,562.3 428.2,561.0 428.4,559.5 428.7,558.0 428.8,557.4 428.9,556.4 429.2,554.6 429.4,552.7 429.7,550.8 429.8,549.9 429.9,548.7 430.2,546.5 430.4,544.2 430.7,541.9 430.8,541.0 430.9,539.6 431.2,537.2 431.4,534.9 431.7,532.8 431.8,532.0 431.9,530.8 432.2,529.1 432.4,527.6 432.7,526.6 432.8,526.3 432.9,525.9 433.2,525.7 433.4,525.9 433.7,526.6 433.8,527.0 433.9,527.7 434.2,529.2 434.4,531.0 434.7,533.0 434.8,533.8 434.9,535.2 435.2,537.5 435.4,539.9 435.7,542.3 435.8,543.2 435.9,544.6 436.2,546.9 436.4,549.1 436.7,551.3 436.8,552.1 436.9,553.3 437.2,555.2 437.4,557.0 437.7,558.7 437.8,559.4 437.9,560.3 438.2,561.8 438.4,563.2 438.7,564.5 438.8,565.0 438.9,565.7 439.2,566.8 439.4,567.9 439.7,568.8 439.8,569.2 439.9,569.8 440.2,570.6 440.4,571.4 440.7,572.2 440.8,572.5 440.9,572.9 441.2,573.6 441.4,574.2 441.7,574.8 441.8,575.0 441.9,575.4 442.2,575.9 442.4,576.4 442.7,576.9 442.8,577.1 442.9,577.4 443.2,577.8 443.4,578.2 443.7,578.6 443.8,578.8 443.9,579.0 444.2,579.3 444.4,579.7 444.7,580.0 444.8,580.1 444.9,580.3 445.8,581.3 446.8,582.2 447.8,583.1 448.8,583.7 449.8,584.3 450.3,584.5 450.8,584.7 451.8,585.1 452.8,585.4 453.8,585.7 454.8,586.0 455.8,586.2 456.8,586.5 457.8,586.7 458.8,586.8 459.8,587.0 460.0,587.0 460.8,587.1 461.8,587.2 462.8,587.3 463.8,587.4 464.8,587.6 465.8,587.7 466.8,587.7 467.8,587.8 468.8,587.9 469.8,588.0 470.8,588.0 471.8,588.1 472.0,588.1 472.8,588.1 473.8,588.2 474.8,588.2 475.8,588.2 476.8,588.3 477.8,588.3 478.8,588.3 479.8,588.4 480.8,588.4 481.8,588.4 482.8,588.5 483.8,588.5 484.8,588.5 485.8,588.5 486.8,588.5 487.8,588.6 488.8,588.6 489.8,588.6 490.8,588.6 491.8,588.6 492.8,588.6 493.8,588.6 494.8,588.6 495.8,588.6 496.8,588.5 497.8,588.5 498.8,588.4 499.8,588.3 500.8,588.2 501.8,588.1 502.8,588.0 503.8,587.9 504.8,587.8 505.8,587.7 506.8,587.6 507.8,587.5 508.0,587.5 508.8,587.4 509.8,587.3 510.8,587.2 511.8,587.1 512.8,587.1 513.8,587.0 514.8,586.8 515.8,586.7 516.8,586.6 517.8,586.5 518.8,586.3 519.8,586.1 520.8,585.9 520.9,585.9 521.8,585.7 522.8,585.3 523.8,584.8 524.8,584.3 525.8,583.7 526.8,583.1 527.8,582.5 528.8,582.0 529.1,581.8 529.8,581.4 530.8,580.8 531.8,580.1 532.8,579.4 533.8,578.8 534.8,578.2 535.8,577.6 536.8,577.2 537.8,577.0 538.6,576.9 538.8,576.9 539.8,577.0 540.8,577.3 541.8,577.6 542.8,577.9 543.8,578.3 544.8,578.5 545.0,578.5 545.8,578.6 546.8,578.7 547.8,578.8 548.8,578.9 549.8,579.0 550.8,579.1 551.8,579.2 552.8,579.2 553.8,579.3 554.8,579.3 555.2,579.3 555.8,579.3 556.8,579.3 557.8,579.3 558.8,579.3 559.8,579.3 560.8,579.3 561.8,579.3 562.8,579.3 563.8,579.3 564.8,579.3 565.8,579.3 566.8,579.3 567.8,579.3 568.8,579.3 569.8,579.3 570.4,579.3 570.8,579.3 571.8,579.0 572.8,578.4 573.8,577.6 574.8,576.7 575.8,575.9 576.8,575.1 577.0,575.0 577.8,574.4 578.8,573.7 579.8,572.8 580.8,572.0 581.8,571.3 582.8,570.8 583.8,570.5 584.4,570.4 584.8,570.4 585.8,570.6 586.8,570.9 587.8,571.3 588.8,571.7 589.8,572.1 590.8,572.4 591.0,572.5 591.8,572.7 592.8,573.0 593.8,573.3 594.8,573.5 595.8,573.8 596.8,574.0 597.8,574.1 598.3,574.2 598.8,574.2 599.8,574.3 600.8,574.4 601.8,574.5 602.8,574.5 603.8,574.6 604.8,574.6 605.8,574.7 606.8,574.7 607.8,574.7 608.8,574.8 609.8,574.8 610.8,574.8 611.8,574.8 612.8,574.9 613.8,574.9 614.8,574.9 615.8,575.0 616.8,575.0 617.8,575.1 618.8,575.1 619.8,575.2 620.8,575.2 621.8,575.3 622.8,575.4 623.7,575.5 623.8,575.5 624.8,575.7 625.8,576.0 626.8,576.3 627.8,576.7 628.8,577.1 629.8,577.6 630.8,578.0 631.8,578.4 632.0,578.5 632.8,578.8 633.8,579.2 634.8,579.7 635.8,580.2 636.8,580.6 637.8,581.1 638.8,581.4 639.8,581.7 640.8,581.9 641.5,581.9 641.8,581.9 642.8,581.9 643.8,581.9 644.8,581.9 645.8,581.9 646.8,581.9 647.8,581.9 648.8,581.9 649.8,581.9 650.8,581.9 651.8,581.9 652.8,581.9 653.8,581.9 654.8,581.9 655.8,581.9 656.8,581.9 657.8,581.9 658.8,581.9 659.8,581.9 660.8,581.9 661.8,581.9 662.8,581.9 663.8,581.9 664.8,581.9 665.8,581.9 666.8,581.9 667.8,581.9 668.8,581.9 669.8,581.8 670.8,581.8 671.8,581.8 672.8,581.7 673.8,581.7 674.8,581.6 675.8,581.5 676.8,581.5 677.8,581.4 678.8,581.3 679.8,581.2 680.8,581.2 681.8,581.1 682.8,581.0 683.8,580.9 684.8,580.9 685.8,580.8 686.8,580.8 687.8,580.7 688.8,580.7 689.8,580.6 690.8,580.6 691.8,580.6 692.2,580.6 692.8,580.7 693.8,581.0 694.8,581.5 695.8,582.1 696.8,582.8 697.8,583.4 698.0,583.5 698.8,583.9 699.8,584.5 700.8,585.1 701.8,585.7 702.8,586.2 703.8,586.6 704.8,586.9 704.9,586.9 705.8,587.0 706.8,587.2 707.8,587.3 708.8,587.5 709.8,587.6 710.8,587.7 711.8,587.8 712.8,587.9 713.8,588.0 714.8,588.1 715.8,588.2 716.8,588.3 717.8,588.4 718.8,588.4 719.8,588.5 720.8,588.5 721.8,588.6 722.8,588.6 723.8,588.6 724.8,588.7 725.8,588.7 726.8,588.7 727.7,588.7 727.8,588.7 728.8,588.7 729.8,588.6 730.8,588.5 731.8,588.4 732.8,588.3 733.8,588.1 734.8,587.9 735.8,587.7 736.8,587.6 737.8,587.4 738.8,587.2 739.8,587.0 740.0,587.0 740.8,586.9 741.8,586.7 742.8,586.5 743.8,586.2 744.8,586.0 745.8,585.8 746.8,585.6 747.8,585.4 748.8,585.3 749.8,585.2 750.6,585.2 750.8,585.2 751.8,585.2 752.8,585.4 753.8,585.5 754.8,585.7 755.8,585.9 756.8,586.1 757.8,586.2 758.8,586.4 759.8,586.5 760.0,586.5 760.8,586.6 761.8,586.6 762.8,586.7 763.8,586.8 764.8,586.8 765.8,586.9 766.8,586.9 767.8,586.9 768.3,586.9 768.8,586.9 769.8,586.8 770.8,586.6 771.8,586.3 772.8,586.0 773.8,585.7 774.8,585.4 775.8,585.1 776.8,584.8 777.8,584.6 778.8,584.4 779.7,584.4 779.8,584.4 780.8,584.5 781.8,584.7 782.8,584.9 783.8,585.3 784.8,585.6 785.8,586.0 786.8,586.5 787.8,586.8 788.8,587.2 789.8,587.5 790.0,587.5 790.8,587.7 791.8,587.9 792.8,588.1 793.8,588.4 794.8,588.6 795.8,588.8 796.8,589.0 797.8,589.2 798.8,589.4 799.8,589.5 800.8,589.7 801.8,589.7 802.8,589.8 803.4,589.8 803.8,589.8 804.8,589.8 805.8,589.8 806.8,589.7 807.8,589.7 808.8,589.7 809.8,589.6 810.8,589.5 811.8,589.5 812.8,589.4 813.8,589.3 814.8,589.2 815.8,589.1 816.8,589.0 817.8,588.9 818.8,588.8 819.8,588.7 820.8,588.6 821.8,588.5 822.8,588.4 823.8,588.3 824.8,588.1 825.8,588.0 826.8,587.9 827.8,587.8 828.8,587.6 829.8,587.5 830.8,587.3 831.8,587.2 832.8,587.0 833.8,586.8 834.8,586.6 835.8,586.4 836.8,586.2 837.8,586.0 838.8,585.7 839.8,585.5 840.8,585.3 841.8,585.0 842.8,584.8 843.8,584.5 844.8,584.2 845.8,583.9 846.8,583.7 847.8,583.4 848.8,583.1 849.8,582.8 850.2,582.7 850.8,582.5 851.8,582.2 852.8,581.9 853.8,581.5 854.8,581.1 855.8,580.7 856.8,580.3 857.8,579.9 858.8,579.5 859.8,579.0 860.8,578.6 861.8,578.1 862.8,577.7 863.8,577.2 864.8,576.7 865.8,576.3 866.8,575.8 867.8,575.3 868.8,574.9 869.8,574.4 870.8,574.0 871.8,573.5 872.8,573.1 873.7,572.7 873.8,572.7 874.8,572.2 875.8,571.8 876.8,571.4 877.8,571.0 878.8,570.6 879.8,570.2 880.8,569.8 881.8,569.4 882.8,569.0 883.8,568.6 884.0,568.5 884.8,568.1 885.8,567.6 886.8,567.0 887.8,566.5 888.8,566.0 889.8,565.5 890.8,565.2 891.8,565.0 892.2,565.0 892.8,565.1 893.8,565.4 894.8,565.9 895.8,566.5 896.8,567.0 897.8,567.4 898.0,567.5 898.8,567.7 899.8,568.0 900.8,568.2 901.8,568.4 902.8,568.5 903.8,568.7 904.1,568.7 904.8,568.8 905.8,568.9 906.8,569.0 907.8,569.1 908.8,569.2 909.8,569.2 910.8,569.3 911.8,569.4 912.8,569.4 913.8,569.5 914.8,569.5 915.8,569.6 916.8,569.6 917.8,569.6 918.1,569.6 918.8,569.5 919.8,569.0 920.8,568.2 921.8,567.2 922.8,566.2 923.8,565.1 924.8,564.2 925.0,564.0 925.8,563.3 926.8,562.2 927.8,561.2 928.8,560.1 929.8,559.3 930.8,558.7 931.6,558.6 931.8,558.6 932.8,559.2 933.8,560.5 934.8,562.2 935.8,564.0 936.8,565.7 937.0,566.0 937.8,567.3 938.8,569.1 939.8,571.1 940.8,573.0 941.8,574.8 942.8,576.3 943.8,577.3 943.9,577.4 944.8,578.0 945.8,578.6 946.8,579.2 947.8,579.7 948.8,580.1 949.8,580.6 950.8,580.9 951.8,581.3 952.8,581.6 953.8,581.9 954.8,582.2 955.8,582.5 956.8,582.8 957.8,583.1 958.0,583.2 958.8,583.5 959.8,583.8 960.8,584.1 961.8,584.5 962.8,584.8 963.8,585.1 964.8,585.5 965.8,585.8 966.8,586.1 967.8,586.4 968.8,586.7 969.8,587.0 970.8,587.3 971.8,587.5 972.8,587.7 973.8,587.9 974.8,588.1 975.8,588.2 976.8,588.3 977.8,588.4 978.8,588.4 979.0,588.4 979.8,588.4 980.8,588.4 981.8,588.4 982.8,588.4 983.8,588.4 984.8,588.4 985.8,588.4 986.8,588.3 987.8,588.3 988.8,588.3 989.8,588.2 990.8,588.2 991.8,588.1 992.8,588.1 993.8,588.0 994.8,587.9 995.8,587.8 996.8,587.7 997.8,587.6 998.8,587.5 999.8,587.3 1000.8,587.1 1001.8,587.0 1002.8,586.8 1003.8,586.5 1004.8,586.3" fill="none" stroke="#e2111f" stroke-width="3.2" stroke-linejoin="round" stroke-linecap="round"/>
<polyline points="78.8,668.9 79.8,668.7 80.8,668.6 81.8,668.4 82.8,668.2 83.8,668.1 84.8,667.9 85.8,667.7 86.8,667.5 87.8,667.4 88.8,667.2 89.8,667.0 90.8,666.8 91.8,666.6 92.8,666.4 93.8,666.2 94.8,666.0 95.8,665.8 96.8,665.6 97.8,665.4 98.8,665.1 99.8,664.9 100.4,664.8 100.8,664.7 101.8,664.5 102.8,664.2 103.8,663.9 104.8,663.7 105.8,663.4 106.8,663.2 107.8,663.0 108.0,663.0 108.8,662.9 109.8,662.7 110.8,662.6 111.8,662.5 112.8,662.4 113.8,662.3 114.8,662.3 115.1,662.3 115.8,662.3 116.8,662.5 117.8,662.7 118.8,663.0 119.8,663.3 120.8,663.7 121.8,663.9 122.0,664.0 122.8,664.2 123.8,664.5 124.8,664.8 125.8,665.1 126.8,665.4 127.8,665.5 128.3,665.6 128.8,665.6 129.8,665.7 130.8,665.8 131.8,665.9 132.8,666.0 133.8,666.1 134.8,666.1 135.8,666.2 136.8,666.2 137.8,666.3 138.8,666.3 139.8,666.4 140.8,666.4 141.8,666.5 142.8,666.5 143.8,666.6 144.8,666.6 145.8,666.6 146.8,666.7 147.8,666.7 148.8,666.7 149.8,666.8 150.8,666.8 151.1,666.8 151.8,666.8 152.8,666.9 153.8,666.9 154.8,666.9 155.8,667.0 156.8,667.0 157.8,667.0 158.8,667.1 159.8,667.1 160.8,667.1 161.8,667.1 162.8,667.2 163.8,667.2 164.8,667.2 165.8,667.3 166.8,667.3 167.8,667.3 168.8,667.3 169.8,667.4 170.8,667.4 171.8,667.4 172.8,667.4 173.8,667.5 174.8,667.5 175.8,667.5 176.8,667.5 177.8,667.5 178.8,667.5 179.8,667.6 180.8,667.6 181.8,667.6 182.8,667.6 183.8,667.6 184.8,667.6 185.8,667.6 186.6,667.6 186.8,667.6 187.8,667.6 188.8,667.6 189.8,667.6 190.8,667.6 191.8,667.5 192.8,667.5 193.8,667.5 194.8,667.4 195.8,667.4 196.8,667.4 197.8,667.3 198.8,667.3 199.8,667.2 200.8,667.2 201.8,667.1 202.8,667.1 203.8,667.1 204.8,667.0 205.8,667.0 206.8,666.9 207.8,666.9 208.8,666.9 209.8,666.9 210.8,666.8 211.8,666.8 212.8,666.8 213.8,666.8 214.5,666.8 214.8,666.8 215.8,666.8 216.8,666.8 217.8,666.8 218.8,666.8 219.8,666.9 220.8,666.9 221.8,666.9 222.8,666.9 223.8,667.0 224.8,667.0 225.8,667.0 226.8,667.1 227.8,667.1 228.8,667.1 229.8,667.2 230.8,667.2 231.8,667.2 232.8,667.2 233.8,667.3 234.8,667.3 235.8,667.3 236.8,667.3 237.4,667.3 237.8,667.3 238.8,667.2 239.8,667.0 240.8,666.8 241.8,666.5 242.8,666.2 243.8,665.9 244.8,665.6 245.0,665.5 245.8,665.3 246.8,665.0 247.8,664.6 248.8,664.3 249.8,664.0 250.8,663.6 251.8,663.3 252.6,663.0 252.8,662.9 253.8,662.6 254.8,662.2 255.8,661.9 256.8,661.5 257.8,661.2 258.8,660.8 259.8,660.5 260.8,660.3 261.8,660.0 262.0,660.0 262.8,659.8 263.8,659.6 264.8,659.5 265.8,659.3 266.8,659.1 267.8,658.9 268.8,658.8 269.8,658.7 270.8,658.6 271.8,658.5 272.8,658.5 272.9,658.5 273.8,658.5 274.8,658.6 275.8,658.8 276.8,659.0 277.8,659.3 278.8,659.6 279.8,659.9 280.8,660.2 281.8,660.4 282.0,660.5 282.8,660.7 283.8,661.0 284.8,661.3 285.8,661.6 286.8,661.9 287.8,662.2 288.8,662.5 289.8,662.8 290.6,663.0 290.8,663.0 291.8,663.3 292.8,663.5 293.8,663.7 294.8,664.0 295.8,664.2 296.8,664.5 297.8,664.7 298.8,664.9 299.8,665.1 300.8,665.3 301.8,665.5 302.8,665.6 303.8,665.8 304.8,665.9 305.8,666.0 306.8,666.1 307.8,666.1 308.4,666.1 308.8,666.1 309.8,666.1 310.8,666.1 311.8,666.1 312.8,666.1 313.8,666.1 314.8,666.0 315.8,666.0 316.8,666.0 317.8,666.0 318.8,666.0 319.8,666.0 320.0,666.0 320.8,666.0 321.8,666.0 322.8,666.0 323.8,666.0 324.8,666.0 325.8,666.0 326.8,666.0 327.8,666.0 328.8,666.0 329.8,666.0 330.8,666.0 331.8,666.0 332.8,666.0 333.8,666.0 334.8,666.0 335.8,666.0 336.8,666.0 337.8,666.0 338.8,666.0 339.8,666.0 340.8,666.0 341.8,666.0 342.8,666.0 343.8,666.0 344.8,666.0 345.8,666.0 346.8,666.0 347.2,666.0 347.8,666.0 348.8,666.0 349.8,666.0 350.8,666.0 351.8,666.0 352.8,666.0 353.8,666.0 354.8,666.1 355.8,666.1 356.8,666.1 357.8,666.1 358.8,666.1 359.8,666.1 360.8,666.2 361.8,666.2 362.8,666.2 363.8,666.2 364.8,666.2 365.8,666.2 366.8,666.2 367.8,666.3 368.8,666.3 369.8,666.3 370.8,666.3 371.8,666.3 372.8,666.3 373.8,666.3 374.3,666.3 374.8,666.3 375.8,666.3 376.8,666.3 377.8,666.3 378.8,666.2 379.8,666.2 380.8,666.2 381.8,666.1 382.8,666.1 383.8,666.0 384.8,666.0 385.8,665.9 386.8,665.8 387.8,665.8 388.8,665.7 389.8,665.6 390.8,665.5 391.8,665.5 392.8,665.4 393.8,665.3 394.8,665.2 395.8,665.1 396.8,665.0 397.8,664.9 398.8,664.8 399.8,664.8 400.8,664.7 401.5,664.6 401.8,664.6 402.8,664.5 403.8,664.4 404.8,664.3 405.8,664.2 406.8,664.1 407.8,663.9 408.8,663.8 409.8,663.6 410.8,663.5 411.8,663.3 412.8,663.1 413.8,662.8 414.8,662.6 415.8,662.2 416.8,661.7 417.8,661.1 418.8,660.4 419.8,659.7 420.5,659.2 420.8,659.0 421.8,658.4 422.8,657.7 423.8,657.0 424.4,656.5 424.8,656.1 425.8,655.0 426.8,653.7 427.8,652.3 428.5,651.5 428.8,651.1 429.8,649.8 430.8,648.6 431.8,648.0 431.9,648.0 432.8,648.6 433.8,650.2 434.8,652.1 435.0,652.5 435.8,654.4 436.8,657.0 437.0,657.5 437.8,659.3 438.8,661.3 439.5,662.5 439.8,662.9 440.8,664.3 441.8,665.4 442.8,666.2 443.0,666.3 443.8,666.7 444.8,667.2 445.8,667.6 446.8,668.0 447.8,668.3 448.8,668.6 449.8,668.8 450.8,668.9 451.8,669.0 451.9,669.0 452.8,669.0 453.8,669.0 454.8,668.9 455.8,668.9 456.8,668.9 457.8,668.8 458.8,668.7 459.8,668.7 460.8,668.6 461.8,668.5 462.0,668.5 462.8,668.4 463.8,668.3 464.8,668.2 465.8,668.1 466.8,667.9 467.8,667.8 468.8,667.6 469.8,667.4 470.8,667.2 471.8,667.0 472.8,666.8 473.8,666.6 474.8,666.3 475.8,666.1 476.8,665.9 477.8,665.7 478.8,665.5 479.8,665.2 480.8,665.0 481.8,664.8 482.8,664.6 482.9,664.6 483.8,664.4 484.8,664.2 485.8,664.0 486.8,663.8 487.8,663.6 488.8,663.4 489.8,663.2 490.8,663.0 491.8,662.8 492.8,662.6 493.8,662.4 494.8,662.2 495.8,662.0 496.0,662.0 496.8,661.8 497.8,661.7 498.8,661.5 499.8,661.3 500.8,661.1 501.8,660.9 502.8,660.7 503.8,660.5 504.8,660.3 505.8,660.1 506.8,659.9 507.8,659.7 508.8,659.5 509.8,659.3 510.1,659.2 510.8,659.0 511.8,658.8 512.8,658.5 513.8,658.2 514.8,657.9 515.8,657.6 516.8,657.3 517.8,657.0 518.8,656.7 519.8,656.4 520.8,656.0 521.8,655.7 522.8,655.4 523.8,655.1 524.0,655.0 524.8,654.7 525.8,654.3 526.8,653.9 527.8,653.5 528.8,653.0 529.8,652.6 530.8,652.1 531.8,651.7 532.8,651.4 533.8,651.0 534.8,650.8 535.8,650.6 536.8,650.5 537.2,650.5 537.8,650.5 538.8,650.5 539.8,650.5 540.8,650.5 541.8,650.5 542.8,650.5 543.8,650.5 544.8,650.5 545.8,650.5 546.8,650.5 547.8,650.5 548.1,650.5 548.8,650.5 549.8,650.6 550.8,650.6 551.8,650.7 552.8,650.9 553.8,651.0 554.8,651.2 555.8,651.4 556.8,651.5 557.8,651.7 558.8,651.9 559.8,652.1 560.8,652.3 561.8,652.5 562.8,652.6 563.8,652.7 564.8,652.8 565.4,652.9 565.8,652.9 566.8,653.0 567.8,653.1 568.8,653.1 569.8,653.2 570.8,653.2 571.8,653.3 572.8,653.4 573.8,653.4 574.8,653.4 575.8,653.5 576.8,653.5 577.8,653.6 578.8,653.6 579.8,653.7 580.8,653.7 581.8,653.7 582.8,653.8 583.8,653.8 584.8,653.9 585.8,653.9 586.8,654.0 587.8,654.0 588.8,654.1 589.8,654.1 590.7,654.2 590.8,654.2 591.8,654.3 592.8,654.4 593.8,654.5 594.8,654.6 595.8,654.7 596.8,654.8 597.8,654.9 598.8,655.1 599.8,655.2 600.8,655.3 601.8,655.5 602.8,655.6 603.8,655.7 604.8,655.8 605.8,656.0 606.8,656.1 607.8,656.2 608.8,656.3 609.8,656.4 610.8,656.5 611.8,656.6 612.8,656.6 613.8,656.7 614.8,656.7 615.8,656.7 616.1,656.7 616.8,656.7 617.8,656.6 618.8,656.6 619.8,656.4 620.8,656.3 621.8,656.1 622.8,656.0 623.8,655.8 624.8,655.6 625.8,655.4 626.8,655.2 627.8,655.0 628.8,654.8 629.8,654.7 630.8,654.5 631.0,654.5 631.8,654.4 632.8,654.3 633.8,654.1 634.8,654.0 635.8,653.9 636.8,653.7 637.8,653.6 638.8,653.5 639.8,653.3 640.8,653.2 641.8,653.1 642.8,653.0 643.8,653.0 644.8,652.9 645.8,652.9 646.5,652.9 646.8,652.9 647.8,652.9 648.8,652.9 649.8,653.0 650.8,653.0 651.8,653.1 652.8,653.2 653.8,653.3 654.8,653.4 655.8,653.5 656.8,653.6 657.8,653.7 658.8,653.8 659.8,654.0 660.8,654.1 661.8,654.2 662.8,654.3 663.8,654.5 664.8,654.7 665.8,654.8 666.8,655.0 667.8,655.3 668.8,655.5 669.8,655.7 670.8,655.9 671.8,656.2 672.8,656.4 673.8,656.7 674.8,657.0 675.8,657.2 676.8,657.5 677.0,657.5 677.8,657.7 678.8,658.0 679.8,658.2 680.8,658.5 681.8,658.8 682.8,659.1 683.8,659.4 684.8,659.7 685.8,660.0 686.8,660.3 687.8,660.6 688.8,660.9 689.8,661.1 690.8,661.4 691.8,661.7 692.2,661.8 692.8,662.0 693.8,662.2 694.8,662.5 695.8,662.7 696.8,663.0 697.8,663.2 698.8,663.4 699.8,663.7 700.0,663.7 700.8,663.9 701.8,664.1 702.8,664.4 703.8,664.6 704.8,664.9 705.8,665.1 706.8,665.4 707.8,665.7 708.8,665.9 709.8,666.2 710.8,666.4 711.8,666.6 712.8,666.8 713.8,667.0 714.8,667.1 715.8,667.3 716.8,667.4 717.8,667.5 718.7,667.5 718.8,667.5 719.8,667.5 720.8,667.6 721.8,667.6 722.8,667.6 723.8,667.7 724.8,667.7 725.8,667.7 726.8,667.7 727.8,667.7 728.8,667.8 729.8,667.8 730.8,667.8 731.8,667.8 732.8,667.8 733.8,667.8 734.3,667.8 734.8,667.8 735.8,667.7 736.8,667.6 737.8,667.4 738.8,667.2 739.8,667.0 740.8,666.8 741.8,666.6 742.8,666.4 743.8,666.2 744.8,666.0 745.8,665.9 746.8,665.9 747.8,665.9 748.8,666.0 749.8,666.1 750.8,666.2 751.8,666.4 752.8,666.5 753.8,666.7 754.8,666.8 755.8,667.0 756.0,667.0 756.8,667.1 757.8,667.3 758.8,667.5 759.8,667.7 760.8,667.9 761.8,668.0 762.8,668.2 763.8,668.3 764.8,668.4 765.6,668.4 765.8,668.4 766.8,668.4 767.8,668.3 768.8,668.1 769.8,667.9 770.8,667.7 771.8,667.5 772.8,667.2 773.8,667.0 774.8,666.7 775.8,666.4 776.8,666.2 777.8,665.9 778.8,665.7 779.8,665.5 780.8,665.4 781.2,665.3 781.8,665.2 782.8,665.1 783.8,665.0 784.8,664.9 785.8,664.8 786.8,664.8 787.8,664.7 788.8,664.6 789.8,664.5 790.8,664.5 791.8,664.4 792.8,664.3 793.8,664.3 794.8,664.2 795.8,664.1 796.8,664.0 797.8,663.9 798.8,663.8 799.8,663.7 799.9,663.7 800.8,663.6 801.8,663.4 802.8,663.3 803.8,663.1 804.8,662.9 805.8,662.7 806.8,662.5 807.8,662.2 808.8,662.0 809.8,661.8 810.8,661.6 811.8,661.3 812.8,661.1 813.8,660.9 814.8,660.7 815.8,660.5 816.8,660.3 817.8,660.1 818.6,660.0 818.8,660.0 819.8,659.8 820.8,659.7 821.8,659.6 822.8,659.4 823.8,659.3 824.8,659.2 825.8,659.1 826.8,659.0 827.8,658.9 828.8,658.8 829.8,658.7 830.8,658.6 831.8,658.4 832.8,658.3 833.8,658.2 834.8,658.1 835.8,658.0 836.8,657.9 837.8,657.8 838.8,657.7 839.8,657.6 840.5,657.5 840.8,657.5 841.8,657.3 842.8,657.2 843.8,657.1 844.8,657.0 845.8,656.8 846.8,656.7 847.8,656.6 848.8,656.4 849.8,656.3 850.8,656.2 851.8,656.1 852.8,655.9 853.8,655.8 854.8,655.7 855.8,655.5 856.8,655.4 857.8,655.3 858.8,655.1 859.8,655.0 860.8,654.9 861.8,654.8 862.8,654.6 863.8,654.5 864.8,654.4 865.5,654.3 865.8,654.3 866.8,654.1 867.8,654.0 868.8,653.9 869.8,653.7 870.8,653.6 871.8,653.5 872.8,653.3 873.8,653.2 874.8,653.0 875.8,652.9 876.8,652.7 877.8,652.6 878.8,652.4 879.8,652.3 880.8,652.2 881.8,652.0 882.8,651.9 883.8,651.8 884.8,651.7 885.8,651.6 886.8,651.5 887.8,651.4 888.8,651.4 889.8,651.3 890.8,651.3 891.8,651.2 892.8,651.2 893.6,651.2 893.8,651.2 894.8,651.2 895.8,651.2 896.8,651.3 897.8,651.3 898.8,651.3 899.8,651.4 900.8,651.4 901.8,651.5 902.8,651.6 903.8,651.7 904.8,651.7 905.8,651.8 906.8,651.9 907.8,652.0 908.8,652.1 909.8,652.2 910.8,652.3 911.8,652.4 912.3,652.5 912.8,652.6 913.8,652.7 914.8,652.8 915.8,653.0 916.8,653.2 917.8,653.4 918.8,653.7 919.8,653.9 920.8,654.2 921.8,654.5 922.8,654.8 923.8,655.1 924.8,655.4 925.8,655.7 926.8,656.0 927.8,656.4 928.8,656.7 929.8,657.1 930.8,657.4 931.0,657.5 931.8,657.8 932.8,658.2 933.8,658.7 934.8,659.2 935.8,659.8 936.8,660.4 937.8,660.9 938.8,661.5 939.8,662.1 940.8,662.7 941.8,663.2 942.8,663.8 943.8,664.2 944.8,664.7 945.8,665.1 946.6,665.3 946.8,665.4 947.8,665.6 948.8,665.9 949.8,666.2 950.8,666.5 951.8,666.8 952.8,667.0 953.8,667.3 954.8,667.5 955.8,667.7 956.8,667.9 957.8,668.0 958.8,668.2 959.8,668.3 960.8,668.4 961.8,668.4 962.3,668.4 962.8,668.4 963.8,668.4 964.8,668.3 965.8,668.2 966.8,668.0 967.8,667.8 968.8,667.6 969.8,667.4 970.8,667.1 971.8,666.8 972.8,666.5 973.8,666.2 974.8,665.9 975.8,665.6 976.8,665.2 977.8,664.9 978.8,664.5 979.8,664.1 980.8,663.8 981.0,663.7 981.8,663.4 982.8,663.0 983.8,662.5 984.8,661.9 985.8,661.4 986.8,660.8 987.8,660.1 988.8,659.5 989.8,658.8 990.8,658.1 991.8,657.4 992.8,656.8 993.8,656.1 994.8,655.4 995.8,654.8 996.6,654.3 996.8,654.2 997.8,653.6 998.8,653.0 999.8,652.4 1000.8,651.8 1001.8,651.2 1002.8,650.6 1003.8,650.0 1004.8,649.4 1005.8,648.8 1006.0,648.7" fill="none" stroke="#e2111f" stroke-width="3.2" stroke-linejoin="round" stroke-linecap="round"/>
<rect x="75.4" y="4.6" width="941.25" height="693.5" fill="none" stroke="#000" stroke-width="2.8"/>
<line x1="241.3" y1="685" x2="241.3" y2="698" stroke="#000" stroke-width="2.4"/>
<line x1="407.0" y1="685" x2="407.0" y2="698" stroke="#000" stroke-width="2.4"/>
<line x1="572.7" y1="685" x2="572.7" y2="698" stroke="#000" stroke-width="2.4"/>
<line x1="738.4" y1="685" x2="738.4" y2="698" stroke="#000" stroke-width="2.4"/>
<line x1="904.4" y1="685" x2="904.4" y2="698" stroke="#000" stroke-width="2.4"/>
<line x1="75.5" y1="351.5" x2="88.5" y2="351.5" stroke="#000" stroke-width="2.4"/>
<text transform="translate(125.6,210.8) rotate(-90)" class="pk">648</text>
<text transform="translate(373.0,205.6) rotate(-90)" class="pk">950</text>
<text transform="translate(438.0,106.0) rotate(-90)" class="pk">1030</text>
<text transform="translate(546.0,211.6) rotate(-90)" class="pk">1158</text>
<text transform="translate(571.0,213.6) rotate(-90)" class="pk">1182</text>
<text transform="translate(598.0,217.4) rotate(-90)" class="pk">1215</text>
<text transform="translate(762.0,217.6) rotate(-90)" class="pk">1420</text>
<text transform="translate(790.0,217.6) rotate(-90)" class="pk">1447</text>
<text transform="translate(823.0,222.2) rotate(-90)" class="pk">1490</text>
<text transform="translate(902.0,202.6) rotate(-90)" class="pk">1583</text>
<text transform="translate(943.0,203.4) rotate(-90)" class="pk">1633</text>
<text x="255.8" y="212.2" class="lb">PC cell</text>
<text x="248.0" y="313.3" class="lb">RCC cell</text>
<text x="262.9" y="404.3" class="lb">BC cell</text>
<text x="274.9" y="492.4" class="lb">WBC</text>
<text x="274.9" y="566.0" class="lb">RBC</text>
<text x="269.2" y="636.4" class="lb">NEC</text>
<text transform="translate(75.6,735.6) scale(1,1.08)" class="tk">600</text>
<text transform="translate(241.3,735.6) scale(1,1.08)" class="tk">800</text>
<text transform="translate(407.0,735.6) scale(1,1.08)" class="tk">1000</text>
<text transform="translate(572.7,735.6) scale(1,1.08)" class="tk">1200</text>
<text transform="translate(738.4,735.6) scale(1,1.08)" class="tk">1400</text>
<text transform="translate(904.4,735.6) scale(1,1.08)" class="tk">1600</text>
<text x="415.5" y="796" class="ax" style="font-size:35.8px">Raman shift(cm<tspan font-size="25" dy="-13.5">-1</tspan><tspan dy="13.5">)</tspan></text>
<text transform="translate(31,451) rotate(-90)" class="ax">Intensity(a.u.)</text>
</svg>
</body></html>
